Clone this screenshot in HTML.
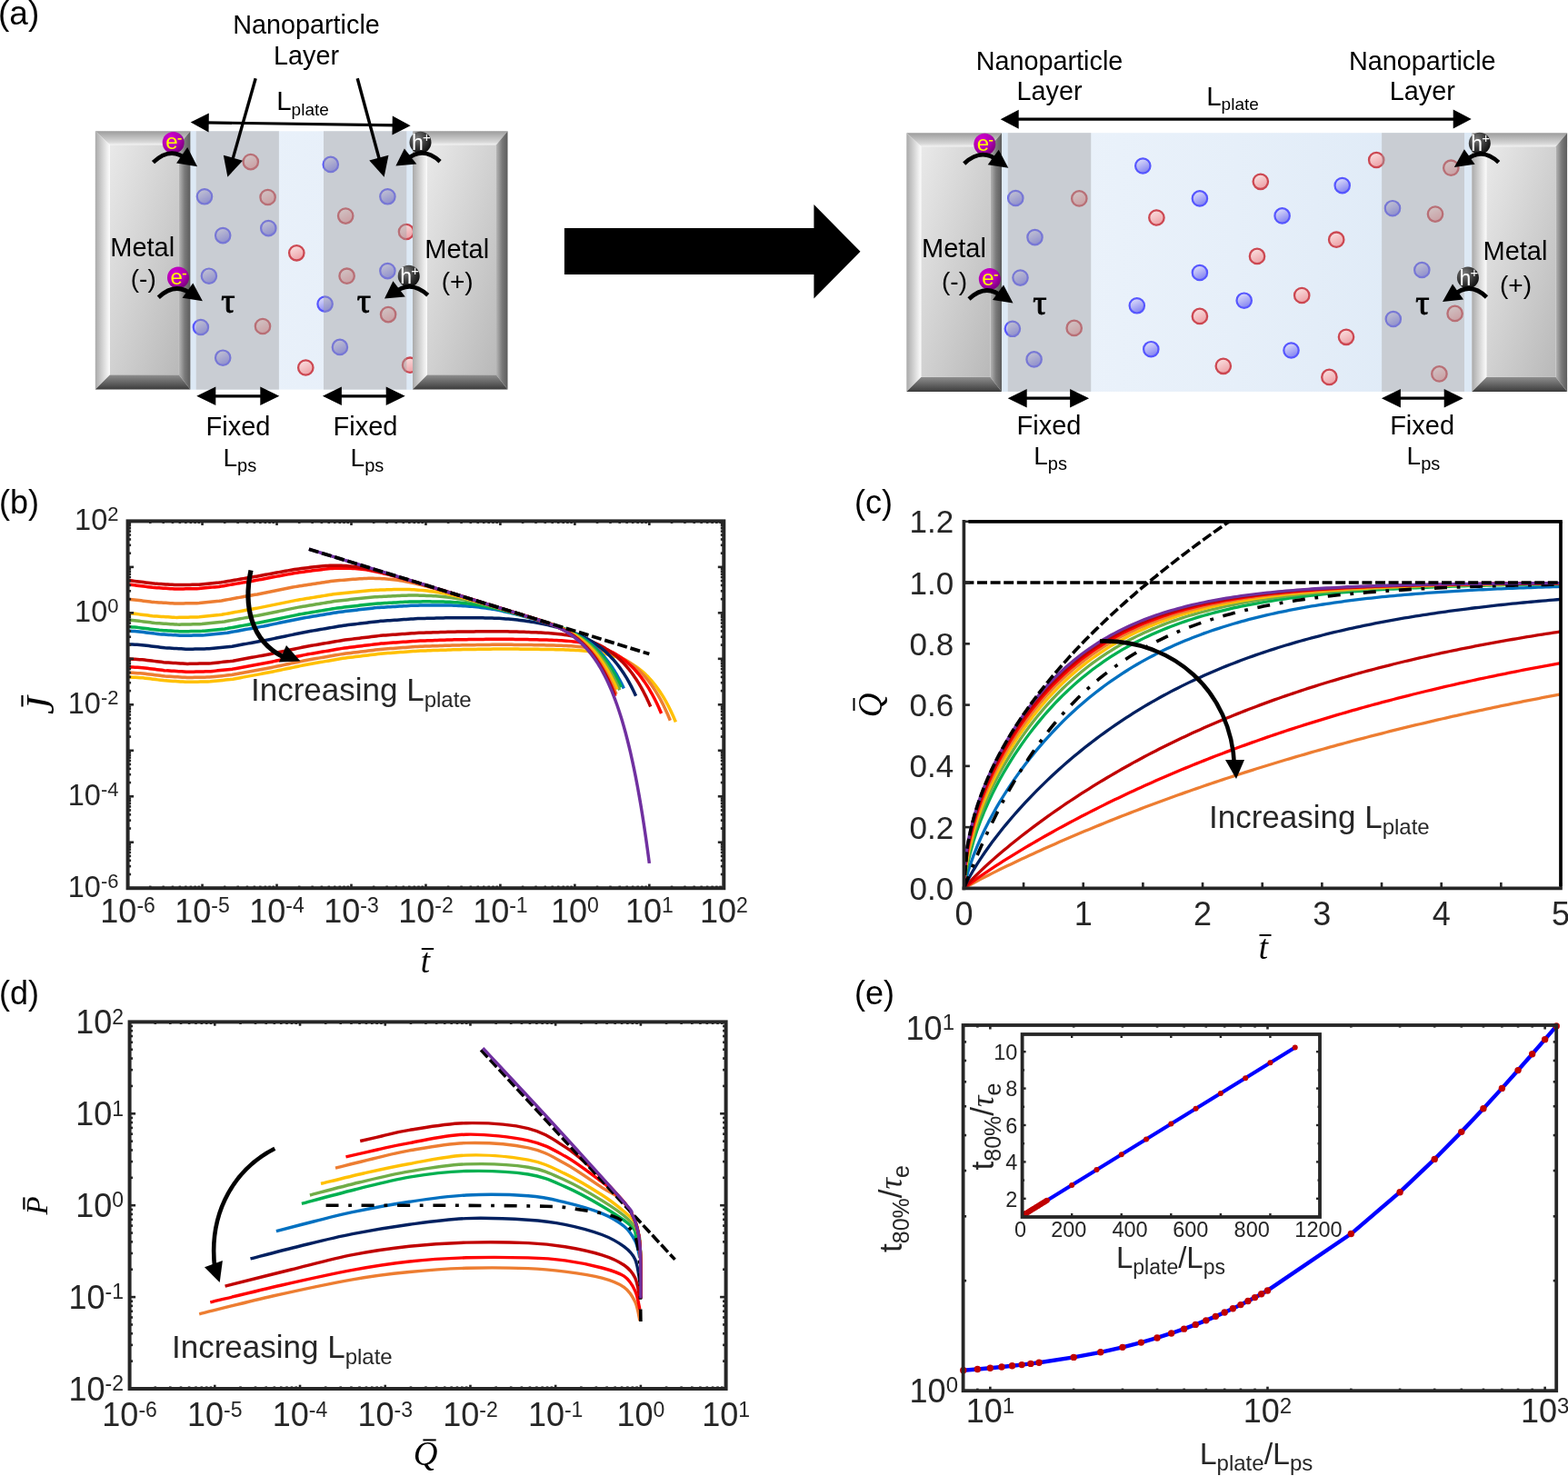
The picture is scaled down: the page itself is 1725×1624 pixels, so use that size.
<!DOCTYPE html>
<html><head><meta charset="utf-8"><title>Figure</title>
<style>html,body{margin:0;padding:0;background:#fff}svg{display:block}</style></head>
<body><svg width="1725" height="1624" viewBox="0 0 1725 1624" font-family="'Liberation Sans', Arial, Helvetica, sans-serif">
<rect width="1725" height="1624" fill="#fff"/>
<defs>
<linearGradient id="mface" x1="0" y1="0" x2="1" y2="1"><stop offset="0" stop-color="#e9e9e9"/><stop offset="1" stop-color="#b9b9b9"/></linearGradient>
<linearGradient id="mtop" x1="0" y1="0" x2="0" y2="1"><stop offset="0" stop-color="#9c9c9c"/><stop offset="0.8" stop-color="#d8d8d8"/><stop offset="1" stop-color="#f2f2f2"/></linearGradient>
<linearGradient id="mleft" x1="0" y1="0" x2="1" y2="0"><stop offset="0" stop-color="#aaaaaa"/><stop offset="0.75" stop-color="#e8e8e8"/><stop offset="1" stop-color="#fbfbfb"/></linearGradient>
<linearGradient id="mright" x1="0" y1="0" x2="1" y2="0"><stop offset="0" stop-color="#b6b6b6"/><stop offset="0.5" stop-color="#7a7a7a"/><stop offset="1" stop-color="#5c5c5c"/></linearGradient>
<linearGradient id="mbot" x1="0" y1="0" x2="0" y2="1"><stop offset="0" stop-color="#8e8e8e"/><stop offset="1" stop-color="#3c3c3c"/></linearGradient>
<linearGradient id="midA" x1="0" y1="0" x2="1" y2="0"><stop offset="0" stop-color="#eaf2fb"/><stop offset="1" stop-color="#e6eef8"/></linearGradient>
<linearGradient id="midB" x1="0" y1="0" x2="1" y2="0"><stop offset="0" stop-color="#ecf3fb"/><stop offset="0.5" stop-color="#e6eff9"/><stop offset="1" stop-color="#dde9f6"/></linearGradient>
<linearGradient id="pblue" x1="0.25" y1="0" x2="0.75" y2="1"><stop offset="0" stop-color="#e2e2fa"/><stop offset="1" stop-color="#7c7cf0"/></linearGradient>
<linearGradient id="pred" x1="0.25" y1="0" x2="0.75" y2="1"><stop offset="0" stop-color="#fae2e2"/><stop offset="1" stop-color="#ec9ca2"/></linearGradient>
<radialGradient id="ball_e" cx="0.35" cy="0.3" r="0.75"><stop offset="0" stop-color="#d200d2"/><stop offset="0.6" stop-color="#b000b0"/><stop offset="1" stop-color="#7a007a"/></radialGradient>
<radialGradient id="ball_h" cx="0.35" cy="0.3" r="0.75"><stop offset="0" stop-color="#7a7a7a"/><stop offset="0.55" stop-color="#3a3a3a"/><stop offset="1" stop-color="#0e0e0e"/></radialGradient>
</defs>
<g id="pa">
<text x="-2" y="26.5" font-size="37" fill="#000" text-anchor="start" >(a)</text>
<rect x="209.4" y="144.3" width="244.6" height="284.3" fill="url(#midA)"/>
<rect x="209.4" y="144.3" width="6.3" height="284.3" fill="#dde9f5"/>
<rect x="447.3" y="144.3" width="6.7" height="284.3" fill="#dde9f5"/>
<rect x="215.7" y="144.3" width="91.2" height="284.3" fill="#ecf3fb"/>
<rect x="356" y="144.3" width="91.3" height="284.3" fill="#ecf3fb"/>
<circle cx="275.8" cy="178.1" r="8.2" fill="url(#pred)" stroke="#cc4852" stroke-width="2.3"/>
<circle cx="225" cy="216.3" r="8.2" fill="url(#pblue)" stroke="#5656ff" stroke-width="2.2"/>
<circle cx="294.6" cy="217" r="8.2" fill="url(#pred)" stroke="#cc4852" stroke-width="2.3"/>
<circle cx="245.2" cy="259.1" r="8.2" fill="url(#pblue)" stroke="#5656ff" stroke-width="2.2"/>
<circle cx="295.3" cy="251.1" r="8.2" fill="url(#pblue)" stroke="#5656ff" stroke-width="2.2"/>
<circle cx="229.9" cy="303.7" r="8.2" fill="url(#pblue)" stroke="#5656ff" stroke-width="2.2"/>
<circle cx="220.9" cy="360" r="8.2" fill="url(#pblue)" stroke="#5656ff" stroke-width="2.2"/>
<circle cx="289" cy="359" r="8.2" fill="url(#pred)" stroke="#cc4852" stroke-width="2.3"/>
<circle cx="245.2" cy="393.7" r="8.2" fill="url(#pblue)" stroke="#5656ff" stroke-width="2.2"/>
<circle cx="326.3" cy="278.3" r="8.2" fill="url(#pred)" stroke="#cc4852" stroke-width="2.3"/>
<circle cx="336.3" cy="404.5" r="8.2" fill="url(#pred)" stroke="#cc4852" stroke-width="2.3"/>
<circle cx="357.6" cy="334.6" r="8.2" fill="url(#pblue)" stroke="#5656ff" stroke-width="2.2"/>
<circle cx="363.8" cy="180.9" r="8.2" fill="url(#pblue)" stroke="#5656ff" stroke-width="2.2"/>
<circle cx="426.4" cy="216.3" r="8.2" fill="url(#pblue)" stroke="#5656ff" stroke-width="2.2"/>
<circle cx="380.2" cy="237.6" r="8.2" fill="url(#pred)" stroke="#cc4852" stroke-width="2.3"/>
<circle cx="447" cy="255" r="8.2" fill="url(#pred)" stroke="#cc4852" stroke-width="2.3"/>
<circle cx="381.6" cy="303.7" r="8.2" fill="url(#pred)" stroke="#cc4852" stroke-width="2.3"/>
<circle cx="426.4" cy="298.1" r="8.2" fill="url(#pblue)" stroke="#5656ff" stroke-width="2.2"/>
<circle cx="427.1" cy="346.1" r="8.2" fill="url(#pred)" stroke="#cc4852" stroke-width="2.3"/>
<circle cx="373.9" cy="381.9" r="8.2" fill="url(#pblue)" stroke="#5656ff" stroke-width="2.2"/>
<circle cx="451.1" cy="401.7" r="8.2" fill="url(#pred)" stroke="#cc4852" stroke-width="2.3"/>
<rect x="215.7" y="144.3" width="91.2" height="284.3" fill="#a0a0a2" fill-opacity="0.45"/>
<rect x="356" y="144.3" width="91.3" height="284.3" fill="#a0a0a2" fill-opacity="0.45"/>
<rect x="120.8" y="159.3" width="76.1" height="253.3" fill="url(#mface)"/>
<polygon points="104.8,144.3 209.4,144.3 196.9,159.3 120.8,159.3" fill="url(#mtop)"/>
<polygon points="104.8,144.3 120.8,159.3 120.8,412.6 104.8,428.6" fill="url(#mleft)"/>
<polygon points="209.4,144.3 209.4,428.6 196.9,412.6 196.9,159.3" fill="url(#mright)"/>
<polygon points="104.8,428.6 209.4,428.6 196.9,412.6 120.8,412.6" fill="url(#mbot)"/>
<rect x="470" y="159.3" width="76" height="253.3" fill="url(#mface)"/>
<polygon points="454,144.3 558.5,144.3 546,159.3 470,159.3" fill="url(#mtop)"/>
<polygon points="454,144.3 470,159.3 470,412.6 454,428.6" fill="url(#mleft)"/>
<polygon points="558.5,144.3 558.5,428.6 546,412.6 546,159.3" fill="url(#mright)"/>
<polygon points="454,428.6 558.5,428.6 546,412.6 470,412.6" fill="url(#mbot)"/>
<rect x="1102" y="146.2" width="517.3" height="284.7" fill="url(#midB)"/>
<rect x="1102" y="146.2" width="6.7" height="284.7" fill="#dde9f5"/>
<rect x="1611" y="146.2" width="8.3" height="284.7" fill="#dde9f5"/>
<rect x="1108.7" y="146.2" width="91.5" height="284.7" fill="#ecf3fb"/>
<rect x="1520.1" y="146.2" width="90.9" height="284.7" fill="#ecf3fb"/>
<circle cx="1117.3" cy="218" r="8.2" fill="url(#pblue)" stroke="#5656ff" stroke-width="2.2"/>
<circle cx="1187.3" cy="218.4" r="8.2" fill="url(#pred)" stroke="#cc4852" stroke-width="2.3"/>
<circle cx="1138.5" cy="261.1" r="8.2" fill="url(#pblue)" stroke="#5656ff" stroke-width="2.2"/>
<circle cx="1122.5" cy="305.6" r="8.2" fill="url(#pblue)" stroke="#5656ff" stroke-width="2.2"/>
<circle cx="1113.9" cy="361.8" r="8.2" fill="url(#pblue)" stroke="#5656ff" stroke-width="2.2"/>
<circle cx="1181.7" cy="360.9" r="8.2" fill="url(#pred)" stroke="#cc4852" stroke-width="2.3"/>
<circle cx="1137.6" cy="395.4" r="8.2" fill="url(#pblue)" stroke="#5656ff" stroke-width="2.2"/>
<circle cx="1257.3" cy="182.5" r="8.2" fill="url(#pblue)" stroke="#5656ff" stroke-width="2.2"/>
<circle cx="1272.4" cy="239.5" r="8.2" fill="url(#pred)" stroke="#cc4852" stroke-width="2.3"/>
<circle cx="1319.9" cy="218.4" r="8.2" fill="url(#pblue)" stroke="#5656ff" stroke-width="2.2"/>
<circle cx="1386.8" cy="199.8" r="8.2" fill="url(#pred)" stroke="#cc4852" stroke-width="2.3"/>
<circle cx="1410.6" cy="237.4" r="8.2" fill="url(#pblue)" stroke="#5656ff" stroke-width="2.2"/>
<circle cx="1476.7" cy="204.1" r="8.2" fill="url(#pblue)" stroke="#5656ff" stroke-width="2.2"/>
<circle cx="1514.2" cy="176" r="8.2" fill="url(#pred)" stroke="#cc4852" stroke-width="2.3"/>
<circle cx="1470.2" cy="263.7" r="8.2" fill="url(#pred)" stroke="#cc4852" stroke-width="2.3"/>
<circle cx="1383" cy="281.9" r="8.2" fill="url(#pred)" stroke="#cc4852" stroke-width="2.3"/>
<circle cx="1319.9" cy="300" r="8.2" fill="url(#pblue)" stroke="#5656ff" stroke-width="2.2"/>
<circle cx="1250.8" cy="336.3" r="8.2" fill="url(#pblue)" stroke="#5656ff" stroke-width="2.2"/>
<circle cx="1319.9" cy="347.9" r="8.2" fill="url(#pred)" stroke="#cc4852" stroke-width="2.3"/>
<circle cx="1368.7" cy="330.7" r="8.2" fill="url(#pblue)" stroke="#5656ff" stroke-width="2.2"/>
<circle cx="1432.2" cy="325" r="8.2" fill="url(#pred)" stroke="#cc4852" stroke-width="2.3"/>
<circle cx="1266.3" cy="384.2" r="8.2" fill="url(#pblue)" stroke="#5656ff" stroke-width="2.2"/>
<circle cx="1345.8" cy="402.8" r="8.2" fill="url(#pred)" stroke="#cc4852" stroke-width="2.3"/>
<circle cx="1420.5" cy="385.5" r="8.2" fill="url(#pblue)" stroke="#5656ff" stroke-width="2.2"/>
<circle cx="1481" cy="370.8" r="8.2" fill="url(#pred)" stroke="#cc4852" stroke-width="2.3"/>
<circle cx="1462.4" cy="414.9" r="8.2" fill="url(#pred)" stroke="#cc4852" stroke-width="2.3"/>
<circle cx="1532" cy="229.2" r="8.2" fill="url(#pblue)" stroke="#5656ff" stroke-width="2.2"/>
<circle cx="1579" cy="235.6" r="8.2" fill="url(#pred)" stroke="#cc4852" stroke-width="2.3"/>
<circle cx="1596.3" cy="184.7" r="8.2" fill="url(#pred)" stroke="#cc4852" stroke-width="2.3"/>
<circle cx="1564.3" cy="297" r="8.2" fill="url(#pblue)" stroke="#5656ff" stroke-width="2.2"/>
<circle cx="1532.8" cy="351" r="8.2" fill="url(#pblue)" stroke="#5656ff" stroke-width="2.2"/>
<circle cx="1600.6" cy="344.9" r="8.2" fill="url(#pred)" stroke="#cc4852" stroke-width="2.3"/>
<circle cx="1583.4" cy="411.4" r="8.2" fill="url(#pred)" stroke="#cc4852" stroke-width="2.3"/>
<rect x="1108.7" y="146.2" width="91.5" height="284.7" fill="#a0a0a2" fill-opacity="0.45"/>
<rect x="1520.1" y="146.2" width="90.9" height="284.7" fill="#a0a0a2" fill-opacity="0.45"/>
<rect x="1013.3" y="161.2" width="76.2" height="253.7" fill="url(#mface)"/>
<polygon points="997.3,146.2 1102,146.2 1089.5,161.2 1013.3,161.2" fill="url(#mtop)"/>
<polygon points="997.3,146.2 1013.3,161.2 1013.3,414.9 997.3,430.9" fill="url(#mleft)"/>
<polygon points="1102,146.2 1102,430.9 1089.5,414.9 1089.5,161.2" fill="url(#mright)"/>
<polygon points="997.3,430.9 1102,430.9 1089.5,414.9 1013.3,414.9" fill="url(#mbot)"/>
<rect x="1635.3" y="161.2" width="76.3" height="253.7" fill="url(#mface)"/>
<polygon points="1619.3,146.2 1724.1,146.2 1711.6,161.2 1635.3,161.2" fill="url(#mtop)"/>
<polygon points="1619.3,146.2 1635.3,161.2 1635.3,414.9 1619.3,430.9" fill="url(#mleft)"/>
<polygon points="1724.1,146.2 1724.1,430.9 1711.6,414.9 1711.6,161.2" fill="url(#mright)"/>
<polygon points="1619.3,430.9 1724.1,430.9 1711.6,414.9 1635.3,414.9" fill="url(#mbot)"/>
<text x="337" y="37.3" font-size="28.8" fill="#000" text-anchor="middle" >Nanoparticle</text>
<text x="337" y="71.4" font-size="28.8" fill="#000" text-anchor="middle" >Layer</text>
<text x="304.2" y="121" font-size="29.5" fill="#000" text-anchor="start">L<tspan dy="5.6" font-size="19">plate</tspan></text>
<line x1="225.7" y1="134.84" x2="435.6" y2="137.96" stroke="#000" stroke-width="3.2" />
<polygon points="209.7,134.6 229.85,124.4 229.54,145.4" fill="#000"/>
<polygon points="451.6,138.2 431.45,148.4 431.76,127.4" fill="#000"/>
<line x1="281.2" y1="86.3" x2="255.21" y2="177.87" stroke="#000" stroke-width="3.4" />
<polygon points="250.4,194.8 245.83,170.63 266.99,176.64" fill="#000"/>
<line x1="393.2" y1="86.3" x2="418" y2="177.81" stroke="#000" stroke-width="3.4" />
<polygon points="422.6,194.8 406.23,176.44 427.46,170.69" fill="#000"/>
<text x="156.7" y="281.6" font-size="29" fill="#000" text-anchor="middle" >Metal</text>
<text x="157.8" y="315.5" font-size="28" fill="#000" text-anchor="middle" >(-)</text>
<text x="502.7" y="283.7" font-size="29" fill="#000" text-anchor="middle" >Metal</text>
<text x="503.2" y="319" font-size="28" fill="#000" text-anchor="middle" >(+)</text>
<circle cx="190.7" cy="156.9" r="12" fill="url(#ball_e)"/>
<text x="182.2" y="163.9" font-size="24" fill="#ffff00">e</text>
<rect x="195.5" y="152.1" width="4.2" height="1.6" fill="#ffff00"/>
<circle cx="196" cy="305.6" r="12" fill="url(#ball_e)"/>
<text x="187.5" y="312.6" font-size="24" fill="#ffff00">e</text>
<rect x="200.8" y="300.8" width="4.2" height="1.6" fill="#ffff00"/>
<circle cx="462.5" cy="156.7" r="12" fill="url(#ball_h)"/>
<text x="453" y="165.2" font-size="23" fill="#ffffff">h</text>
<text x="465" y="156.2" font-size="15" fill="#ffffff">+</text>
<circle cx="449.7" cy="303.8" r="12" fill="url(#ball_h)"/>
<text x="440.2" y="312.3" font-size="23" fill="#ffffff">h</text>
<text x="452.2" y="303.3" font-size="15" fill="#ffffff">+</text>
<path d="M168.5,178.7 Q188,160 206,176" fill="none" stroke="#000" stroke-width="4.6"/>
<polygon points="217.1,183.2 206.2,162.1 194.1,179.5" fill="#000"/>
<path d="M174.3,327.2 Q194,309 212,325" fill="none" stroke="#000" stroke-width="4.6"/>
<polygon points="222.9,331.3 212.3,311.4 200.6,327.8" fill="#000"/>
<path d="M484.1,177.7 Q465,160 447,176" fill="none" stroke="#000" stroke-width="4.6"/>
<polygon points="435.4,182.5 444.9,163.4 458.3,180.6" fill="#000"/>
<path d="M470.7,324.8 Q451,307 433,323" fill="none" stroke="#000" stroke-width="4.6"/>
<polygon points="423,328.6 432.4,309.3 445.8,326.6" fill="#000"/>
<text x="251" y="344" font-family="'Liberation Serif', 'DejaVu Serif', serif" font-size="38" fill="#000" stroke="#000" stroke-width="0.9" text-anchor="middle">τ</text>
<text x="400.5" y="344" font-family="'Liberation Serif', 'DejaVu Serif', serif" font-size="38" fill="#000" stroke="#000" stroke-width="0.9" text-anchor="middle">τ</text>
<line x1="233.1" y1="435.8" x2="290.5" y2="435.8" stroke="#000" stroke-width="3.2" />
<polygon points="216.3,435.8 237.3,425.6 237.3,446" fill="#000"/>
<polygon points="307.3,435.8 286.3,446 286.3,425.6" fill="#000"/>
<line x1="371.7" y1="435.8" x2="428.9" y2="435.8" stroke="#000" stroke-width="3.2" />
<polygon points="354.9,435.8 375.9,425.6 375.9,446" fill="#000"/>
<polygon points="445.7,435.8 424.7,446 424.7,425.6" fill="#000"/>
<text x="262" y="478.8" font-size="29" fill="#000" text-anchor="middle" >Fixed</text>
<text x="402" y="478.8" font-size="29" fill="#000" text-anchor="middle" >Fixed</text>
<text x="245.5" y="512.7" font-size="28" fill="#000" text-anchor="start">L<tspan dy="6" font-size="20">ps</tspan></text>
<text x="385.6" y="512.7" font-size="28" fill="#000" text-anchor="start">L<tspan dy="6" font-size="20">ps</tspan></text>
<text x="1154.5" y="76.7" font-size="28.8" fill="#000" text-anchor="middle" >Nanoparticle</text>
<text x="1154.5" y="110.2" font-size="28.8" fill="#000" text-anchor="middle" >Layer</text>
<text x="1564.8" y="76.7" font-size="28.8" fill="#000" text-anchor="middle" >Nanoparticle</text>
<text x="1564.8" y="110.2" font-size="28.8" fill="#000" text-anchor="middle" >Layer</text>
<text x="1327.2" y="115.6" font-size="29.5" fill="#000" text-anchor="start">L<tspan dy="5.6" font-size="19">plate</tspan></text>
<line x1="1116.7" y1="131.2" x2="1602.7" y2="131.1" stroke="#000" stroke-width="3.2" />
<polygon points="1100.7,131.2 1120.7,120.7 1120.7,141.7" fill="#000"/>
<polygon points="1618.7,131.1 1598.7,141.6 1598.7,120.6" fill="#000"/>
<text x="1049.5" y="283" font-size="29" fill="#000" text-anchor="middle" >Metal</text>
<text x="1050" y="318.5" font-size="28" fill="#000" text-anchor="middle" >(-)</text>
<text x="1667" y="286.2" font-size="29" fill="#000" text-anchor="middle" >Metal</text>
<text x="1667.5" y="322.9" font-size="28" fill="#000" text-anchor="middle" >(+)</text>
<circle cx="1083.3" cy="158.8" r="12" fill="url(#ball_e)"/>
<text x="1074.8" y="165.8" font-size="24" fill="#ffff00">e</text>
<rect x="1088.1" y="154" width="4.2" height="1.6" fill="#ffff00"/>
<circle cx="1088.8" cy="306.9" r="12" fill="url(#ball_e)"/>
<text x="1080.3" y="313.9" font-size="24" fill="#ffff00">e</text>
<rect x="1093.6" y="302.1" width="4.2" height="1.6" fill="#ffff00"/>
<circle cx="1627.8" cy="157.8" r="12" fill="url(#ball_h)"/>
<text x="1618.3" y="166.3" font-size="23" fill="#ffffff">h</text>
<text x="1630.3" y="157.3" font-size="15" fill="#ffffff">+</text>
<circle cx="1614.9" cy="305.6" r="12" fill="url(#ball_h)"/>
<text x="1605.4" y="314.1" font-size="23" fill="#ffffff">h</text>
<text x="1617.4" y="305.1" font-size="15" fill="#ffffff">+</text>
<path d="M1060.7,180 Q1080,162 1098,177" fill="none" stroke="#000" stroke-width="4.6"/>
<polygon points="1109.3,184.7 1098.7,164.7 1086.7,181.3" fill="#000"/>
<path d="M1066,329 Q1085,311 1103,327" fill="none" stroke="#000" stroke-width="4.6"/>
<polygon points="1114.5,333.5 1104,313.5 1092,330" fill="#000"/>
<path d="M1648.7,178.7 Q1630,161 1612,177" fill="none" stroke="#000" stroke-width="4.6"/>
<polygon points="1599.8,183.9 1610.9,164.3 1622.6,180.7" fill="#000"/>
<path d="M1635.5,327 Q1617,309 1599,325" fill="none" stroke="#000" stroke-width="4.6"/>
<polygon points="1587,332 1598,312.5 1610,329.5" fill="#000"/>
<text x="1144" y="346" font-family="'Liberation Serif', 'DejaVu Serif', serif" font-size="38" fill="#000" stroke="#000" stroke-width="0.9" text-anchor="middle">τ</text>
<text x="1565" y="346" font-family="'Liberation Serif', 'DejaVu Serif', serif" font-size="38" fill="#000" stroke="#000" stroke-width="0.9" text-anchor="middle">τ</text>
<line x1="1125.5" y1="438.2" x2="1181.3" y2="438.2" stroke="#000" stroke-width="3.2" />
<polygon points="1108.7,438.2 1129.7,428 1129.7,448.4" fill="#000"/>
<polygon points="1198.1,438.2 1177.1,448.4 1177.1,428" fill="#000"/>
<line x1="1536.7" y1="438.2" x2="1592.9" y2="438.2" stroke="#000" stroke-width="3.2" />
<polygon points="1519.9,438.2 1540.9,428 1540.9,448.4" fill="#000"/>
<polygon points="1609.7,438.2 1588.7,448.4 1588.7,428" fill="#000"/>
<text x="1154" y="478.4" font-size="29" fill="#000" text-anchor="middle" >Fixed</text>
<text x="1564.6" y="478.4" font-size="29" fill="#000" text-anchor="middle" >Fixed</text>
<text x="1137.2" y="510.8" font-size="28" fill="#000" text-anchor="start">L<tspan dy="6" font-size="20">ps</tspan></text>
<text x="1547.6" y="510.8" font-size="28" fill="#000" text-anchor="start">L<tspan dy="6" font-size="20">ps</tspan></text>
<polygon points="620.9,251.1 895.4,251.1 895.4,225.1 946.5,276.8 895.4,328.4 895.4,301.9 620.9,301.9" fill="#000"/>
</g>
<g id="pb">
<text x="-1" y="565" font-size="36" fill="#000" text-anchor="start" >(b)</text>
<clipPath id="clipb"><rect x="140.6" y="573.4" width="655.6999999999999" height="403.80000000000007"/></clipPath>
<g clip-path="url(#clipb)">
<path d="M140.6,744.81 L143.35,744.98 L146.1,745.15 L148.86,745.32 L151.61,745.49 L154.36,745.66 L157.11,745.84 L159.87,746.18 L162.62,746.52 L165.37,746.86 L168.12,747.2 L170.88,747.53 L173.63,747.87 L176.38,748.21 L179.13,748.55 L181.89,748.87 L184.64,749.04 L187.39,749.21 L190.14,749.38 L192.89,749.55 L195.65,749.72 L198.4,749.89 L201.15,750.06 L203.9,750.23 L206.66,750.36 L209.41,750.3 L212.16,750.25 L214.91,750.19 L217.67,750.13 L220.42,750.08 L223.17,750.02 L225.92,749.96 L228.67,749.91 L231.43,749.8 L234.18,749.51 L236.93,749.23 L239.68,748.95 L242.44,748.67 L245.19,748.39 L247.94,748.1 L250.69,747.82 L253.45,747.54 L256.2,747.19 L258.95,746.68 L261.7,746.17 L264.46,745.66 L267.21,745.15 L269.96,744.65 L272.71,744.14 L275.46,743.63 L278.22,743.12 L280.97,742.61 L283.72,742.11 L286.47,741.6 L289.23,741.09 L291.98,740.58 L294.73,740.07 L297.48,739.54 L300.24,738.96 L302.99,738.39 L305.74,737.81 L308.49,737.23 L311.24,736.66 L314,736.08 L316.75,735.51 L319.5,734.93 L322.25,734.36 L325.01,733.78 L327.76,733.2 L330.51,732.63 L333.26,732.05 L336.02,731.48 L338.77,730.96 L341.52,730.48 L344.27,730.01 L347.03,729.54 L349.78,729.06 L352.53,728.59 L355.28,728.12 L358.03,727.64 L360.79,727.17 L363.54,726.7 L366.29,726.22 L369.04,725.75 L371.8,725.28 L374.55,724.8 L377.3,724.33 L380.05,723.94 L382.81,723.61 L385.56,723.27 L388.31,722.93 L391.06,722.59 L393.81,722.26 L396.57,721.92 L399.32,721.58 L402.07,721.25 L404.82,720.91 L407.58,720.57 L410.33,720.24 L413.08,719.9 L415.83,719.56 L418.59,719.23 L421.34,718.99 L424.09,718.79 L426.84,718.59 L429.6,718.39 L432.35,718.19 L435.1,717.99 L437.85,717.79 L440.6,717.59 L443.36,717.39 L446.11,717.19 L448.86,716.99 L451.61,716.8 L454.37,716.6 L457.12,716.4 L459.87,716.2 L462.62,716.09 L465.38,715.99 L468.13,715.9 L470.88,715.8 L473.63,715.7 L476.38,715.61 L479.14,715.51 L481.89,715.42 L484.64,715.32 L487.39,715.23 L490.15,715.13 L492.9,715.04 L495.65,714.95 L498.4,714.85 L501.16,714.76 L503.91,714.71 L506.66,714.66 L509.41,714.62 L512.17,714.57 L514.92,714.52 L517.67,714.48 L520.42,714.43 L523.17,714.39 L525.93,714.35 L528.68,714.3 L531.43,714.26 L534.18,714.22 L536.94,714.17 L539.69,714.13 L542.44,714.09 L545.19,714.05 L547.95,714.01 L550.7,713.98 L553.45,714 L556.2,714.01 L558.95,714.03 L561.71,714.06 L564.46,714.08 L567.21,714.1 L569.96,714.12 L572.72,714.15 L575.47,714.17 L578.22,714.2 L580.97,714.22 L583.73,714.25 L586.48,714.28 L589.23,714.31 L591.98,714.35 L594.74,714.38 L597.49,714.42 L600.24,714.46 L602.99,714.5 L605.74,714.55 L608.5,714.6 L611.25,714.65 L614,714.71 L616.75,714.78 L619.51,714.86 L622.26,714.95 L625.01,715.05 L627.76,715.16 L630.52,715.28 L633.27,715.43 L636.02,715.59 L638.77,715.77 L641.52,715.98 L644.28,716.22 L647.03,716.49 L649.78,716.78 L652.53,717.12 L655.29,717.49 L658.04,717.91 L660.79,718.38 L663.54,718.9 L666.3,719.47 L669.05,720.11 L671.8,720.82 L674.55,721.6 L677.31,722.46 L680.06,723.41 L682.81,724.45 L685.56,725.6 L688.31,726.86 L691.07,728.24 L693.82,729.75 L696.57,731.4 L699.32,733.19 L702.08,735.15 L704.83,737.29 L707.58,739.61 L710.33,742.13 L713.09,744.86 L715.84,747.82 L718.59,751.03 L721.34,754.5 L724.09,758.25 L726.85,762.31 L729.6,766.69 L732.35,771.42 L735.1,776.53 L737.86,782.04 L740.61,788 L743.36,794.42" fill="none" stroke="#FFC000" stroke-width="3.5" stroke-linejoin="round" />
<path d="M140.6,739.97 L143.32,740.14 L146.05,740.31 L148.77,740.47 L151.5,740.64 L154.22,740.81 L156.95,740.98 L159.67,741.31 L162.4,741.65 L165.12,741.98 L167.85,742.32 L170.57,742.65 L173.3,742.99 L176.02,743.32 L178.75,743.66 L181.47,744 L184.2,744.17 L186.92,744.34 L189.65,744.51 L192.37,744.67 L195.1,744.84 L197.82,745.01 L200.55,745.18 L203.27,745.35 L206,745.51 L208.72,745.47 L211.45,745.42 L214.17,745.36 L216.9,745.3 L219.62,745.25 L222.35,745.19 L225.07,745.14 L227.8,745.08 L230.52,745.03 L233.25,744.77 L235.97,744.49 L238.7,744.21 L241.42,743.93 L244.15,743.65 L246.87,743.37 L249.6,743.09 L252.32,742.81 L255.05,742.53 L257.77,742.05 L260.5,741.55 L263.22,741.05 L265.95,740.54 L268.67,740.04 L271.4,739.54 L274.12,739.03 L276.85,738.53 L279.57,738.03 L282.3,737.53 L285.02,737.02 L287.75,736.52 L290.47,736.02 L293.2,735.51 L295.92,735.01 L298.65,734.45 L301.37,733.88 L304.1,733.31 L306.82,732.74 L309.55,732.17 L312.27,731.6 L315,731.03 L317.72,730.46 L320.45,729.89 L323.17,729.32 L325.9,728.75 L328.62,728.18 L331.35,727.61 L334.07,727.04 L336.8,726.47 L339.52,725.99 L342.25,725.52 L344.97,725.05 L347.7,724.58 L350.42,724.11 L353.15,723.64 L355.87,723.18 L358.6,722.71 L361.32,722.24 L364.05,721.77 L366.77,721.3 L369.5,720.83 L372.22,720.37 L374.95,719.9 L377.67,719.43 L380.4,719.07 L383.12,718.73 L385.85,718.4 L388.57,718.07 L391.3,717.73 L394.02,717.4 L396.75,717.07 L399.47,716.73 L402.2,716.4 L404.92,716.07 L407.65,715.73 L410.37,715.4 L413.1,715.07 L415.82,714.74 L418.55,714.4 L421.27,714.17 L424,713.97 L426.72,713.78 L429.45,713.58 L432.17,713.38 L434.9,713.18 L437.62,712.99 L440.35,712.79 L443.07,712.59 L445.8,712.4 L448.52,712.2 L451.25,712 L453.97,711.81 L456.7,711.61 L459.42,711.42 L462.15,711.29 L464.87,711.2 L467.6,711.1 L470.32,711.01 L473.05,710.92 L475.77,710.82 L478.5,710.73 L481.22,710.64 L483.95,710.55 L486.67,710.45 L489.4,710.36 L492.12,710.27 L494.85,710.18 L497.57,710.09 L500.3,710 L503.02,709.94 L505.75,709.89 L508.47,709.85 L511.2,709.81 L513.92,709.76 L516.65,709.72 L519.37,709.68 L522.1,709.64 L524.82,709.6 L527.55,709.56 L530.27,709.52 L533,709.48 L535.72,709.44 L538.45,709.4 L541.17,709.36 L543.9,709.33 L546.62,709.29 L549.35,709.26 L552.07,709.26 L554.8,709.28 L557.52,709.31 L560.25,709.33 L562.97,709.36 L565.7,709.38 L568.42,709.41 L571.15,709.44 L573.87,709.47 L576.6,709.51 L579.32,709.54 L582.05,709.57 L584.77,709.61 L587.5,709.65 L590.22,709.69 L592.95,709.74 L595.67,709.78 L598.4,709.83 L601.12,709.89 L603.85,709.94 L606.57,710.01 L609.3,710.07 L612.02,710.15 L614.75,710.23 L617.47,710.33 L620.2,710.44 L622.92,710.56 L625.65,710.69 L628.37,710.85 L631.1,711.02 L633.82,711.22 L636.55,711.44 L639.27,711.7 L642,711.98 L644.72,712.31 L647.45,712.67 L650.17,713.08 L652.9,713.53 L655.62,714.04 L658.35,714.6 L661.07,715.23 L663.8,715.92 L666.52,716.69 L669.25,717.54 L671.97,718.47 L674.7,719.5 L677.42,720.62 L680.15,721.86 L682.87,723.21 L685.6,724.68 L688.32,726.29 L691.05,728.04 L693.77,729.94 L696.5,732.01 L699.22,734.25 L701.95,736.67 L704.67,739.3 L707.4,742.13 L710.12,745.2 L712.85,748.51 L715.57,752.08 L718.3,755.94 L721.02,760.09 L723.75,764.57 L726.47,769.4 L729.2,774.6 L731.92,780.21 L734.65,786.26 L737.37,792.77" fill="none" stroke="#ED7D31" stroke-width="3.5" stroke-linejoin="round" />
<path d="M140.6,733.71 L143.28,733.88 L145.96,734.04 L148.64,734.21 L151.32,734.37 L154,734.54 L156.68,734.7 L159.36,735.01 L162.04,735.34 L164.72,735.67 L167.4,736 L170.08,736.33 L172.76,736.66 L175.44,736.99 L178.12,737.32 L180.8,737.65 L183.48,737.87 L186.16,738.03 L188.84,738.2 L191.52,738.36 L194.2,738.53 L196.88,738.69 L199.56,738.86 L202.24,739.02 L204.92,739.19 L207.6,739.24 L210.29,739.18 L212.97,739.13 L215.65,739.07 L218.33,739.02 L221.01,738.96 L223.69,738.91 L226.37,738.85 L229.05,738.8 L231.73,738.67 L234.41,738.39 L237.09,738.12 L239.77,737.84 L242.45,737.57 L245.13,737.29 L247.81,737.02 L250.49,736.74 L253.17,736.47 L255.85,736.15 L258.53,735.66 L261.21,735.16 L263.89,734.67 L266.57,734.17 L269.25,733.68 L271.93,733.18 L274.61,732.69 L277.29,732.19 L279.97,731.7 L282.65,731.21 L285.33,730.71 L288.01,730.22 L290.69,729.72 L293.37,729.23 L296.05,728.73 L298.73,728.18 L301.41,727.62 L304.09,727.06 L306.77,726.5 L309.45,725.94 L312.13,725.38 L314.81,724.82 L317.49,724.26 L320.17,723.7 L322.85,723.14 L325.53,722.58 L328.21,722.02 L330.89,721.46 L333.57,720.9 L336.25,720.34 L338.93,719.84 L341.61,719.38 L344.3,718.92 L346.98,718.46 L349.66,718 L352.34,717.54 L355.02,717.08 L357.7,716.62 L360.38,716.16 L363.06,715.7 L365.74,715.24 L368.42,714.78 L371.1,714.32 L373.78,713.86 L376.46,713.4 L379.14,712.98 L381.82,712.65 L384.5,712.32 L387.18,712 L389.86,711.67 L392.54,711.34 L395.22,711.01 L397.9,710.69 L400.58,710.36 L403.26,710.03 L405.94,709.71 L408.62,709.38 L411.3,709.06 L413.98,708.73 L416.66,708.4 L419.34,708.08 L422.02,707.89 L424.7,707.7 L427.38,707.5 L430.06,707.31 L432.74,707.12 L435.42,706.92 L438.1,706.73 L440.78,706.54 L443.46,706.35 L446.14,706.16 L448.82,705.96 L451.5,705.77 L454.18,705.58 L456.86,705.39 L459.54,705.2 L462.22,705.08 L464.9,704.99 L467.58,704.9 L470.26,704.81 L472.94,704.72 L475.62,704.64 L478.31,704.55 L480.99,704.46 L483.67,704.37 L486.35,704.28 L489.03,704.19 L491.71,704.11 L494.39,704.02 L497.07,703.94 L499.75,703.85 L502.43,703.79 L505.11,703.75 L507.79,703.71 L510.47,703.67 L513.15,703.63 L515.83,703.59 L518.51,703.55 L521.19,703.52 L523.87,703.48 L526.55,703.45 L529.23,703.41 L531.91,703.38 L534.59,703.35 L537.27,703.32 L539.95,703.29 L542.63,703.26 L545.31,703.23 L547.99,703.2 L550.67,703.18 L553.35,703.21 L556.03,703.24 L558.71,703.28 L561.39,703.31 L564.07,703.35 L566.75,703.39 L569.43,703.43 L572.11,703.47 L574.79,703.51 L577.47,703.56 L580.15,703.61 L582.83,703.66 L585.51,703.71 L588.19,703.77 L590.87,703.83 L593.55,703.9 L596.23,703.96 L598.91,704.04 L601.59,704.12 L604.27,704.21 L606.95,704.31 L609.63,704.41 L612.32,704.53 L615,704.66 L617.68,704.81 L620.36,704.98 L623.04,705.17 L625.72,705.38 L628.4,705.62 L631.08,705.89 L633.76,706.19 L636.44,706.53 L639.12,706.91 L641.8,707.34 L644.48,707.82 L647.16,708.36 L649.84,708.95 L652.52,709.61 L655.2,710.34 L657.88,711.14 L660.56,712.02 L663.24,712.99 L665.92,714.05 L668.6,715.21 L671.28,716.47 L673.96,717.84 L676.64,719.33 L679.32,720.95 L682,722.7 L684.68,724.59 L687.36,726.64 L690.04,728.85 L692.72,731.23 L695.4,733.79 L698.08,736.55 L700.76,739.53 L703.44,742.73 L706.12,746.17 L708.8,749.88 L711.48,753.87 L714.16,758.15 L716.84,762.77 L719.52,767.73 L722.2,773.06 L724.88,778.81 L727.56,784.99" fill="none" stroke="#FF0000" stroke-width="3.5" stroke-linejoin="round" />
<path d="M140.6,724.83 L143.23,724.99 L145.85,725.15 L148.48,725.31 L151.1,725.48 L153.73,725.64 L156.36,725.8 L158.98,726.08 L161.61,726.41 L164.24,726.73 L166.86,727.06 L169.49,727.38 L172.11,727.7 L174.74,728.03 L177.37,728.35 L179.99,728.67 L182.62,728.93 L185.25,729.1 L187.87,729.26 L190.5,729.42 L193.12,729.58 L195.75,729.74 L198.38,729.91 L201,730.07 L203.63,730.23 L206.25,730.38 L208.88,730.33 L211.51,730.28 L214.13,730.22 L216.76,730.17 L219.39,730.12 L222.01,730.06 L224.64,730.01 L227.26,729.96 L229.89,729.9 L232.52,729.71 L235.14,729.44 L237.77,729.17 L240.39,728.9 L243.02,728.63 L245.65,728.36 L248.27,728.09 L250.9,727.82 L253.53,727.55 L256.15,727.22 L258.78,726.73 L261.4,726.25 L264.03,725.77 L266.66,725.28 L269.28,724.8 L271.91,724.31 L274.54,723.83 L277.16,723.34 L279.79,722.86 L282.41,722.37 L285.04,721.89 L287.67,721.41 L290.29,720.92 L292.92,720.44 L295.54,719.95 L298.17,719.42 L300.8,718.88 L303.42,718.33 L306.05,717.78 L308.68,717.23 L311.3,716.68 L313.93,716.13 L316.55,715.59 L319.18,715.04 L321.81,714.49 L324.43,713.94 L327.06,713.39 L329.69,712.84 L332.31,712.3 L334.94,711.75 L337.56,711.21 L340.19,710.76 L342.82,710.31 L345.44,709.86 L348.07,709.41 L350.69,708.96 L353.32,708.51 L355.95,708.06 L358.57,707.61 L361.2,707.16 L363.83,706.71 L366.45,706.26 L369.08,705.81 L371.7,705.36 L374.33,704.91 L376.96,704.46 L379.58,704.07 L382.21,703.76 L384.83,703.44 L387.46,703.12 L390.09,702.8 L392.71,702.48 L395.34,702.16 L397.97,701.84 L400.59,701.52 L403.22,701.2 L405.84,700.89 L408.47,700.57 L411.1,700.25 L413.72,699.93 L416.35,699.62 L418.98,699.3 L421.6,699.1 L424.23,698.91 L426.85,698.72 L429.48,698.54 L432.11,698.35 L434.73,698.16 L437.36,697.98 L439.98,697.79 L442.61,697.61 L445.24,697.42 L447.86,697.24 L450.49,697.06 L453.12,696.87 L455.74,696.69 L458.37,696.51 L460.99,696.35 L463.62,696.27 L466.25,696.18 L468.87,696.1 L471.5,696.01 L474.12,695.93 L476.75,695.85 L479.38,695.77 L482,695.69 L484.63,695.6 L487.26,695.52 L489.88,695.45 L492.51,695.37 L495.13,695.29 L497.76,695.21 L500.39,695.14 L503.01,695.09 L505.64,695.06 L508.27,695.03 L510.89,695 L513.52,694.97 L516.14,694.94 L518.77,694.91 L521.4,694.89 L524.02,694.86 L526.65,694.84 L529.27,694.82 L531.9,694.8 L534.53,694.78 L537.15,694.76 L539.78,694.75 L542.41,694.73 L545.03,694.72 L547.66,694.71 L550.28,694.71 L552.91,694.75 L555.54,694.8 L558.16,694.86 L560.79,694.92 L563.42,694.98 L566.04,695.04 L568.67,695.11 L571.29,695.18 L573.92,695.26 L576.55,695.34 L579.17,695.43 L581.8,695.52 L584.42,695.63 L587.05,695.73 L589.68,695.85 L592.3,695.98 L594.93,696.11 L597.56,696.26 L600.18,696.42 L602.81,696.6 L605.43,696.79 L608.06,697 L610.69,697.23 L613.31,697.49 L615.94,697.77 L618.56,698.09 L621.19,698.43 L623.82,698.82 L626.44,699.25 L629.07,699.72 L631.7,700.24 L634.32,700.81 L636.95,701.44 L639.57,702.14 L642.2,702.89 L644.83,703.72 L647.45,704.62 L650.08,705.6 L652.71,706.66 L655.33,707.8 L657.96,709.04 L660.58,710.37 L663.21,711.81 L665.84,713.36 L668.46,715.02 L671.09,716.8 L673.71,718.72 L676.34,720.78 L678.97,722.99 L681.59,725.36 L684.22,727.9 L686.85,730.62 L689.47,733.54 L692.1,736.68 L694.72,740.04 L697.35,743.65 L699.98,747.53 L702.6,751.69 L705.23,756.15 L707.86,760.95 L710.48,766.1 L713.11,771.63 L715.73,777.58" fill="none" stroke="#C00000" stroke-width="3.5" stroke-linejoin="round" />
<path d="M140.6,708.73 L143.15,708.89 L145.7,709.05 L148.26,709.2 L150.81,709.36 L153.36,709.52 L155.91,709.68 L158.47,709.95 L161.02,710.26 L163.57,710.57 L166.12,710.89 L168.67,711.2 L171.23,711.52 L173.78,711.83 L176.33,712.15 L178.88,712.46 L181.44,712.77 L183.99,712.92 L186.54,713.08 L189.09,713.24 L191.65,713.4 L194.2,713.55 L196.75,713.71 L199.3,713.87 L201.85,714.03 L204.41,714.19 L206.96,714.25 L209.51,714.2 L212.06,714.15 L214.62,714.1 L217.17,714.04 L219.72,713.99 L222.27,713.94 L224.82,713.89 L227.38,713.84 L229.93,713.79 L232.48,713.57 L235.03,713.3 L237.59,713.04 L240.14,712.78 L242.69,712.52 L245.24,712.26 L247.8,712 L250.35,711.74 L252.9,711.48 L255.45,711.18 L258,710.71 L260.56,710.24 L263.11,709.77 L265.66,709.3 L268.21,708.83 L270.77,708.36 L273.32,707.89 L275.87,707.42 L278.42,706.95 L280.97,706.48 L283.53,706.01 L286.08,705.54 L288.63,705.07 L291.18,704.6 L293.74,704.14 L296.29,703.66 L298.84,703.13 L301.39,702.59 L303.95,702.06 L306.5,701.53 L309.05,701 L311.6,700.47 L314.15,699.94 L316.71,699.41 L319.26,698.87 L321.81,698.34 L324.36,697.81 L326.92,697.28 L329.47,696.75 L332.02,696.22 L334.57,695.69 L337.12,695.17 L339.68,694.73 L342.23,694.29 L344.78,693.86 L347.33,693.42 L349.89,692.99 L352.44,692.55 L354.99,692.12 L357.54,691.68 L360.1,691.25 L362.65,690.82 L365.2,690.38 L367.75,689.95 L370.3,689.52 L372.86,689.08 L375.41,688.65 L377.96,688.22 L380.51,687.91 L383.07,687.6 L385.62,687.3 L388.17,686.99 L390.72,686.69 L393.27,686.38 L395.83,686.08 L398.38,685.77 L400.93,685.47 L403.48,685.16 L406.04,684.86 L408.59,684.56 L411.14,684.25 L413.69,683.95 L416.25,683.65 L418.8,683.35 L421.35,683.17 L423.9,682.99 L426.45,682.82 L429.01,682.65 L431.56,682.47 L434.11,682.3 L436.66,682.13 L439.22,681.96 L441.77,681.79 L444.32,681.62 L446.87,681.45 L449.42,681.28 L451.98,681.11 L454.53,680.95 L457.08,680.78 L459.63,680.62 L462.19,680.54 L464.74,680.47 L467.29,680.4 L469.84,680.33 L472.39,680.27 L474.95,680.2 L477.5,680.14 L480.05,680.08 L482.6,680.02 L485.16,679.96 L487.71,679.9 L490.26,679.85 L492.81,679.79 L495.37,679.74 L497.92,679.69 L500.47,679.64 L503.02,679.63 L505.57,679.63 L508.13,679.64 L510.68,679.64 L513.23,679.65 L515.78,679.66 L518.34,679.68 L520.89,679.7 L523.44,679.72 L525.99,679.76 L528.54,679.79 L531.1,679.83 L533.65,679.88 L536.2,679.94 L538.75,680.01 L541.31,680.08 L543.86,680.17 L546.41,680.26 L548.96,680.37 L551.52,680.52 L554.07,680.7 L556.62,680.89 L559.17,681.1 L561.72,681.33 L564.28,681.57 L566.83,681.82 L569.38,682.1 L571.93,682.4 L574.49,682.71 L577.04,683.05 L579.59,683.4 L582.14,683.78 L584.69,684.18 L587.25,684.61 L589.8,685.05 L592.35,685.52 L594.9,686.01 L597.46,686.53 L600.01,687.06 L602.56,687.63 L605.11,688.21 L607.67,688.83 L610.22,689.47 L612.77,690.13 L615.32,690.83 L617.87,691.57 L620.43,692.34 L622.98,693.15 L625.53,694 L628.08,694.89 L630.64,695.84 L633.19,696.84 L635.74,697.9 L638.29,699.03 L640.84,700.22 L643.4,701.48 L645.95,702.83 L648.5,704.26 L651.05,705.78 L653.61,707.4 L656.16,709.13 L658.71,710.97 L661.26,712.93 L663.82,715.03 L666.37,717.27 L668.92,719.66 L671.47,722.22 L674.02,724.96 L676.58,727.88 L679.13,731.02 L681.68,734.37 L684.23,737.97 L686.79,741.82 L689.34,745.95 L691.89,750.37 L694.44,755.12 L696.99,760.21 L699.55,765.67" fill="none" stroke="#002060" stroke-width="3.5" stroke-linejoin="round" />
<path d="M140.6,694.1 L143.09,694.25 L145.58,694.41 L148.08,694.56 L150.57,694.72 L153.06,694.97 L155.55,695.28 L158.04,695.59 L160.53,695.89 L163.03,696.2 L165.52,696.51 L168.01,696.82 L170.5,697.12 L172.99,697.43 L175.49,697.74 L177.98,697.93 L180.47,698.08 L182.96,698.24 L185.45,698.39 L187.94,698.54 L190.44,698.7 L192.93,698.85 L195.42,699.01 L197.91,699.16 L200.4,699.32 L202.9,699.28 L205.39,699.23 L207.88,699.18 L210.37,699.13 L212.86,699.08 L215.35,699.03 L217.85,698.98 L220.34,698.94 L222.83,698.89 L225.32,698.83 L227.81,698.57 L230.31,698.32 L232.8,698.06 L235.29,697.81 L237.78,697.56 L240.27,697.3 L242.76,697.05 L245.26,696.79 L247.75,696.54 L250.24,696.25 L252.73,695.79 L255.22,695.33 L257.72,694.88 L260.21,694.42 L262.7,693.96 L265.19,693.5 L267.68,693.05 L270.17,692.59 L272.67,692.13 L275.16,691.68 L277.65,691.22 L280.14,690.76 L282.63,690.31 L285.13,689.85 L287.62,689.39 L290.11,688.94 L292.6,688.43 L295.09,687.92 L297.58,687.4 L300.08,686.88 L302.57,686.37 L305.06,685.85 L307.55,685.33 L310.04,684.82 L312.54,684.3 L315.03,683.79 L317.52,683.27 L320.01,682.75 L322.5,682.24 L324.99,681.72 L327.49,681.21 L329.98,680.7 L332.47,680.21 L334.96,679.79 L337.45,679.36 L339.95,678.94 L342.44,678.52 L344.93,678.1 L347.42,677.68 L349.91,677.26 L352.4,676.84 L354.9,676.42 L357.39,676 L359.88,675.58 L362.37,675.17 L364.86,674.75 L367.36,674.33 L369.85,673.91 L372.34,673.5 L374.83,673.19 L377.32,672.89 L379.81,672.6 L382.31,672.31 L384.8,672.02 L387.29,671.73 L389.78,671.44 L392.27,671.15 L394.77,670.86 L397.26,670.57 L399.75,670.28 L402.24,670 L404.73,669.71 L407.22,669.43 L409.72,669.14 L412.21,668.86 L414.7,668.62 L417.19,668.46 L419.68,668.31 L422.17,668.15 L424.67,667.99 L427.16,667.84 L429.65,667.68 L432.14,667.53 L434.63,667.38 L437.13,667.23 L439.62,667.08 L442.11,666.93 L444.6,666.79 L447.09,666.65 L449.58,666.51 L452.08,666.37 L454.57,666.23 L457.06,666.18 L459.55,666.14 L462.04,666.1 L464.54,666.07 L467.03,666.04 L469.52,666.01 L472.01,665.98 L474.5,665.96 L476.99,665.95 L479.49,665.94 L481.98,665.93 L484.47,665.94 L486.96,665.94 L489.45,665.96 L491.95,665.98 L494.44,666.02 L496.93,666.08 L499.42,666.17 L501.91,666.27 L504.4,666.38 L506.9,666.51 L509.39,666.65 L511.88,666.81 L514.37,666.98 L516.86,667.17 L519.36,667.38 L521.85,667.61 L524.34,667.85 L526.83,668.12 L529.32,668.41 L531.81,668.73 L534.31,669.07 L536.8,669.43 L539.29,669.81 L541.78,670.22 L544.27,670.65 L546.77,671.13 L549.26,671.63 L551.75,672.14 L554.24,672.68 L556.73,673.23 L559.22,673.8 L561.72,674.39 L564.21,674.99 L566.7,675.61 L569.19,676.23 L571.68,676.87 L574.18,677.53 L576.67,678.19 L579.16,678.86 L581.65,679.54 L584.14,680.23 L586.63,680.93 L589.13,681.63 L591.62,682.35 L594.11,683.07 L596.6,683.8 L599.09,684.54 L601.59,685.3 L604.08,686.07 L606.57,686.85 L609.06,687.66 L611.55,688.48 L614.04,689.34 L616.54,690.23 L619.03,691.16 L621.52,692.13 L624.01,693.15 L626.5,694.22 L629,695.35 L631.49,696.55 L633.98,697.82 L636.47,699.18 L638.96,700.62 L641.45,702.15 L643.95,703.78 L646.44,705.53 L648.93,707.39 L651.42,709.38 L653.91,711.51 L656.41,713.78 L658.9,716.22 L661.39,718.82 L663.88,721.6 L666.37,724.58 L668.86,727.78 L671.36,731.19 L673.85,734.85 L676.34,738.78 L678.83,742.98 L681.32,747.48 L683.82,752.31 L686.31,757.48" fill="none" stroke="#0070C0" stroke-width="3.5" stroke-linejoin="round" />
<path d="M140.6,689.66 L143.08,689.82 L145.56,689.97 L148.04,690.12 L150.52,690.32 L152.99,690.62 L155.47,690.93 L157.95,691.24 L160.43,691.54 L162.91,691.85 L165.39,692.15 L167.87,692.46 L170.35,692.77 L172.82,693.07 L175.3,693.33 L177.78,693.48 L180.26,693.63 L182.74,693.79 L185.22,693.94 L187.7,694.09 L190.18,694.25 L192.65,694.4 L195.13,694.56 L197.61,694.71 L200.09,694.78 L202.57,694.73 L205.05,694.68 L207.53,694.63 L210.01,694.58 L212.49,694.53 L214.96,694.48 L217.44,694.43 L219.92,694.38 L222.4,694.33 L224.88,694.18 L227.36,693.93 L229.84,693.67 L232.32,693.42 L234.79,693.17 L237.27,692.92 L239.75,692.67 L242.23,692.41 L244.71,692.16 L247.19,691.91 L249.67,691.54 L252.15,691.08 L254.62,690.63 L257.1,690.17 L259.58,689.72 L262.06,689.26 L264.54,688.81 L267.02,688.36 L269.5,687.9 L271.98,687.45 L274.46,686.99 L276.93,686.54 L279.41,686.09 L281.89,685.63 L284.37,685.18 L286.85,684.73 L289.33,684.27 L291.81,683.76 L294.29,683.24 L296.76,682.73 L299.24,682.22 L301.72,681.7 L304.2,681.19 L306.68,680.68 L309.16,680.17 L311.64,679.65 L314.12,679.14 L316.6,678.63 L319.07,678.12 L321.55,677.61 L324.03,677.1 L326.51,676.59 L328.99,676.08 L331.47,675.61 L333.95,675.2 L336.43,674.78 L338.9,674.36 L341.38,673.94 L343.86,673.53 L346.34,673.11 L348.82,672.7 L351.3,672.28 L353.78,671.87 L356.26,671.45 L358.73,671.04 L361.21,670.62 L363.69,670.21 L366.17,669.8 L368.65,669.39 L371.13,668.97 L373.61,668.68 L376.09,668.4 L378.57,668.11 L381.04,667.82 L383.52,667.53 L386,667.25 L388.48,666.96 L390.96,666.68 L393.44,666.4 L395.92,666.11 L398.4,665.83 L400.87,665.55 L403.35,665.27 L405.83,664.99 L408.31,664.71 L410.79,664.44 L413.27,664.22 L415.75,664.06 L418.23,663.91 L420.7,663.76 L423.18,663.61 L425.66,663.47 L428.14,663.32 L430.62,663.17 L433.1,663.03 L435.58,662.89 L438.06,662.75 L440.54,662.62 L443.01,662.48 L445.49,662.35 L447.97,662.22 L450.45,662.1 L452.93,661.97 L455.41,661.94 L457.89,661.92 L460.37,661.9 L462.84,661.88 L465.32,661.87 L467.8,661.86 L470.28,661.86 L472.76,661.87 L475.24,661.88 L477.72,661.9 L480.2,661.93 L482.67,661.97 L485.15,662.03 L487.63,662.09 L490.11,662.16 L492.59,662.25 L495.07,662.37 L497.55,662.52 L500.03,662.69 L502.51,662.87 L504.98,663.08 L507.46,663.3 L509.94,663.54 L512.42,663.81 L514.9,664.09 L517.38,664.4 L519.86,664.73 L522.34,665.08 L524.81,665.46 L527.29,665.86 L529.77,666.29 L532.25,666.73 L534.73,667.2 L537.21,667.7 L539.69,668.21 L542.17,668.74 L544.65,669.3 L547.12,669.89 L549.6,670.48 L552.08,671.1 L554.56,671.72 L557.04,672.36 L559.52,673.01 L562,673.67 L564.48,674.34 L566.95,675.01 L569.43,675.7 L571.91,676.39 L574.39,677.09 L576.87,677.79 L579.35,678.5 L581.83,679.22 L584.31,679.94 L586.78,680.67 L589.26,681.4 L591.74,682.14 L594.22,682.88 L596.7,683.63 L599.18,684.4 L601.66,685.17 L604.14,685.96 L606.62,686.76 L609.09,687.59 L611.57,688.44 L614.05,689.33 L616.53,690.24 L619.01,691.21 L621.49,692.21 L623.97,693.28 L626.45,694.4 L628.92,695.58 L631.4,696.84 L633.88,698.18 L636.36,699.61 L638.84,701.13 L641.32,702.75 L643.8,704.48 L646.28,706.33 L648.75,708.31 L651.23,710.42 L653.71,712.68 L656.19,715.1 L658.67,717.69 L661.15,720.46 L663.63,723.42 L666.11,726.59 L668.59,729.99 L671.06,733.64 L673.54,737.54 L676.02,741.72 L678.5,746.19 L680.98,750.99 L683.46,756.13" fill="none" stroke="#00B050" stroke-width="3.5" stroke-linejoin="round" />
<path d="M140.6,682.2 L143.07,682.35 L145.54,682.51 L148.01,682.71 L150.48,683.02 L152.95,683.32 L155.43,683.63 L157.9,683.93 L160.37,684.24 L162.84,684.54 L165.31,684.85 L167.78,685.15 L170.25,685.46 L172.72,685.71 L175.19,685.86 L177.66,686.01 L180.13,686.17 L182.6,686.32 L185.08,686.48 L187.55,686.63 L190.02,686.78 L192.49,686.94 L194.96,687.09 L197.43,687.16 L199.9,687.11 L202.37,687.06 L204.84,687.01 L207.31,686.96 L209.78,686.91 L212.26,686.87 L214.73,686.82 L217.2,686.77 L219.67,686.72 L222.14,686.57 L224.61,686.32 L227.08,686.07 L229.55,685.82 L232.02,685.57 L234.49,685.32 L236.96,685.07 L239.43,684.82 L241.91,684.57 L244.38,684.32 L246.85,683.96 L249.32,683.51 L251.79,683.06 L254.26,682.61 L256.73,682.15 L259.2,681.7 L261.67,681.25 L264.14,680.8 L266.61,680.35 L269.09,679.9 L271.56,679.45 L274.03,678.99 L276.5,678.54 L278.97,678.09 L281.44,677.64 L283.91,677.19 L286.38,676.74 L288.85,676.24 L291.32,675.73 L293.79,675.22 L296.27,674.71 L298.74,674.2 L301.21,673.69 L303.68,673.18 L306.15,672.67 L308.62,672.16 L311.09,671.66 L313.56,671.15 L316.03,670.64 L318.5,670.14 L320.97,669.63 L323.44,669.12 L325.92,668.62 L328.39,668.15 L330.86,667.73 L333.33,667.32 L335.8,666.91 L338.27,666.5 L340.74,666.08 L343.21,665.67 L345.68,665.26 L348.15,664.85 L350.62,664.44 L353.1,664.03 L355.57,663.63 L358.04,663.22 L360.51,662.81 L362.98,662.41 L365.45,662 L367.92,661.6 L370.39,661.29 L372.86,661.01 L375.33,660.72 L377.8,660.44 L380.27,660.17 L382.75,659.89 L385.22,659.61 L387.69,659.34 L390.16,659.06 L392.63,658.79 L395.1,658.51 L397.57,658.24 L400.04,657.97 L402.51,657.71 L404.98,657.44 L407.45,657.17 L409.93,656.93 L412.4,656.79 L414.87,656.66 L417.34,656.52 L419.81,656.39 L422.28,656.25 L424.75,656.13 L427.22,656 L429.69,655.88 L432.16,655.76 L434.63,655.64 L437.1,655.53 L439.58,655.42 L442.05,655.32 L444.52,655.23 L446.99,655.14 L449.46,655.05 L451.93,655.03 L454.4,655.05 L456.87,655.08 L459.34,655.12 L461.81,655.17 L464.28,655.23 L466.76,655.3 L469.23,655.38 L471.7,655.48 L474.17,655.59 L476.64,655.72 L479.11,655.87 L481.58,656.04 L484.05,656.22 L486.52,656.43 L488.99,656.67 L491.46,656.92 L493.93,657.23 L496.41,657.56 L498.88,657.91 L501.35,658.28 L503.82,658.68 L506.29,659.1 L508.76,659.55 L511.23,660.01 L513.7,660.5 L516.17,661.01 L518.64,661.54 L521.11,662.09 L523.59,662.65 L526.06,663.23 L528.53,663.83 L531,664.45 L533.47,665.07 L535.94,665.71 L538.41,666.37 L540.88,667.03 L543.35,667.71 L545.82,668.39 L548.29,669.09 L550.77,669.79 L553.24,670.49 L555.71,671.2 L558.18,671.92 L560.65,672.64 L563.12,673.36 L565.59,674.09 L568.06,674.82 L570.53,675.55 L573,676.28 L575.47,677.02 L577.94,677.76 L580.42,678.51 L582.89,679.25 L585.36,680 L587.83,680.75 L590.3,681.5 L592.77,682.26 L595.24,683.03 L597.71,683.81 L600.18,684.59 L602.65,685.39 L605.12,686.21 L607.6,687.06 L610.07,687.93 L612.54,688.83 L615.01,689.77 L617.48,690.76 L619.95,691.8 L622.42,692.89 L624.89,694.05 L627.36,695.29 L629.83,696.6 L632.3,697.99 L634.77,699.49 L637.25,701.08 L639.72,702.78 L642.19,704.6 L644.66,706.54 L647.13,708.62 L649.6,710.85 L652.07,713.23 L654.54,715.79 L657.01,718.52 L659.48,721.45 L661.95,724.58 L664.43,727.94 L666.9,731.54 L669.37,735.39 L671.84,739.52 L674.31,743.95 L676.78,748.69 L679.25,753.77 L681.72,759.21" fill="none" stroke="#70AD47" stroke-width="3.5" stroke-linejoin="round" />
<path d="M140.6,674.59 L143.06,674.74 L145.52,674.96 L147.97,675.26 L150.43,675.57 L152.89,675.87 L155.35,676.18 L157.81,676.48 L160.27,676.79 L162.72,677.09 L165.18,677.4 L167.64,677.7 L170.1,677.94 L172.56,678.09 L175.01,678.25 L177.47,678.4 L179.93,678.55 L182.39,678.71 L184.85,678.86 L187.31,679.01 L189.76,679.17 L192.22,679.32 L194.68,679.39 L197.14,679.34 L199.6,679.29 L202.06,679.25 L204.51,679.2 L206.97,679.15 L209.43,679.1 L211.89,679.06 L214.35,679.01 L216.8,678.96 L219.26,678.83 L221.72,678.58 L224.18,678.33 L226.64,678.09 L229.1,677.84 L231.55,677.59 L234.01,677.34 L236.47,677.09 L238.93,676.85 L241.39,676.6 L243.84,676.27 L246.3,675.82 L248.76,675.37 L251.22,674.92 L253.68,674.47 L256.14,674.03 L258.59,673.58 L261.05,673.13 L263.51,672.68 L265.97,672.24 L268.43,671.79 L270.88,671.34 L273.34,670.9 L275.8,670.45 L278.26,670.01 L280.72,669.56 L283.18,669.12 L285.63,668.63 L288.09,668.12 L290.55,667.62 L293.01,667.11 L295.47,666.61 L297.92,666.11 L300.38,665.6 L302.84,665.1 L305.3,664.6 L307.76,664.1 L310.22,663.6 L312.67,663.09 L315.13,662.59 L317.59,662.09 L320.05,661.6 L322.51,661.1 L324.97,660.61 L327.42,660.2 L329.88,659.79 L332.34,659.39 L334.8,658.98 L337.26,658.58 L339.71,658.17 L342.17,657.77 L344.63,657.37 L347.09,656.97 L349.55,656.57 L352.01,656.17 L354.46,655.77 L356.92,655.37 L359.38,654.97 L361.84,654.58 L364.3,654.18 L366.75,653.84 L369.21,653.57 L371.67,653.3 L374.13,653.03 L376.59,652.76 L379.05,652.49 L381.5,652.23 L383.96,651.96 L386.42,651.7 L388.88,651.44 L391.34,651.18 L393.79,650.93 L396.25,650.67 L398.71,650.42 L401.17,650.17 L403.63,649.93 L406.09,649.68 L408.54,649.53 L411,649.42 L413.46,649.3 L415.92,649.2 L418.38,649.09 L420.84,648.99 L423.29,648.9 L425.75,648.81 L428.21,648.73 L430.67,648.66 L433.13,648.6 L435.58,648.55 L438.04,648.5 L440.5,648.47 L442.96,648.45 L445.42,648.45 L447.88,648.47 L450.33,648.58 L452.79,648.7 L455.25,648.84 L457.71,649 L460.17,649.18 L462.62,649.38 L465.08,649.6 L467.54,649.84 L470,650.11 L472.46,650.4 L474.92,650.72 L477.37,651.06 L479.83,651.43 L482.29,651.82 L484.75,652.24 L487.21,652.68 L489.66,653.15 L492.12,653.65 L494.58,654.18 L497.04,654.72 L499.5,655.28 L501.96,655.86 L504.41,656.45 L506.87,657.06 L509.33,657.68 L511.79,658.31 L514.25,658.96 L516.7,659.61 L519.16,660.28 L521.62,660.95 L524.08,661.64 L526.54,662.33 L529,663.02 L531.45,663.73 L533.91,664.43 L536.37,665.15 L538.83,665.87 L541.29,666.59 L543.75,667.32 L546.2,668.05 L548.66,668.78 L551.12,669.51 L553.58,670.25 L556.04,670.99 L558.49,671.73 L560.95,672.47 L563.41,673.22 L565.87,673.96 L568.33,674.71 L570.79,675.45 L573.24,676.2 L575.7,676.95 L578.16,677.7 L580.62,678.45 L583.08,679.2 L585.53,679.96 L587.99,680.71 L590.45,681.47 L592.91,682.24 L595.37,683.02 L597.83,683.8 L600.28,684.6 L602.74,685.42 L605.2,686.26 L607.66,687.12 L610.12,688.02 L612.57,688.96 L615.03,689.94 L617.49,690.97 L619.95,692.07 L622.41,693.22 L624.87,694.45 L627.32,695.76 L629.78,697.16 L632.24,698.65 L634.7,700.24 L637.16,701.94 L639.62,703.76 L642.07,705.71 L644.53,707.8 L646.99,710.03 L649.45,712.42 L651.91,714.99 L654.36,717.73 L656.82,720.66 L659.28,723.81 L661.74,727.18 L664.2,730.79 L666.66,734.65 L669.11,738.8 L671.57,743.23 L674.03,747.98 L676.49,753.08 L678.95,758.53" fill="none" stroke="#FFC000" stroke-width="3.5" stroke-linejoin="round" />
<path d="M140.6,659.23 L143.05,659.39 L145.51,659.64 L147.96,659.94 L150.41,660.25 L152.87,660.56 L155.32,660.86 L157.78,661.17 L160.23,661.47 L162.68,661.78 L165.14,662.08 L167.59,662.39 L170.04,662.6 L172.5,662.75 L174.95,662.91 L177.41,663.06 L179.86,663.22 L182.31,663.37 L184.77,663.53 L187.22,663.69 L189.67,663.84 L192.13,664 L194.58,664.03 L197.04,663.99 L199.49,663.94 L201.94,663.9 L204.4,663.85 L206.85,663.81 L209.3,663.76 L211.76,663.72 L214.21,663.68 L216.67,663.63 L219.12,663.47 L221.57,663.23 L224.03,662.98 L226.48,662.74 L228.93,662.5 L231.39,662.25 L233.84,662.01 L236.3,661.77 L238.75,661.53 L241.2,661.29 L243.66,660.93 L246.11,660.49 L248.56,660.04 L251.02,659.6 L253.47,659.16 L255.93,658.72 L258.38,658.28 L260.83,657.84 L263.29,657.4 L265.74,656.96 L268.19,656.52 L270.65,656.09 L273.1,655.65 L275.56,655.21 L278.01,654.78 L280.46,654.34 L282.92,653.91 L285.37,653.42 L287.82,652.92 L290.28,652.43 L292.73,651.94 L295.19,651.45 L297.64,650.96 L300.09,650.47 L302.55,649.98 L305,649.49 L307.45,649 L309.91,648.51 L312.36,648.03 L314.82,647.54 L317.27,647.06 L319.72,646.57 L322.18,646.09 L324.63,645.63 L327.08,645.24 L329.54,644.85 L331.99,644.46 L334.45,644.08 L336.9,643.7 L339.35,643.31 L341.81,642.93 L344.26,642.55 L346.71,642.18 L349.17,641.8 L351.62,641.43 L354.08,641.06 L356.53,640.69 L358.98,640.32 L361.44,639.96 L363.89,639.6 L366.34,639.3 L368.8,639.06 L371.25,638.83 L373.71,638.6 L376.16,638.38 L378.61,638.16 L381.07,637.95 L383.52,637.74 L385.97,637.54 L388.43,637.35 L390.88,637.17 L393.34,636.99 L395.79,636.83 L398.24,636.68 L400.7,636.54 L403.15,636.42 L405.6,636.32 L408.06,636.32 L410.51,636.36 L412.97,636.41 L415.42,636.49 L417.87,636.59 L420.33,636.72 L422.78,636.87 L425.23,637.05 L427.69,637.25 L430.14,637.48 L432.6,637.75 L435.05,638.04 L437.5,638.37 L439.96,638.72 L442.41,639.11 L444.86,639.52 L447.32,639.97 L449.77,640.47 L452.23,641 L454.68,641.54 L457.13,642.1 L459.59,642.68 L462.04,643.28 L464.49,643.89 L466.95,644.52 L469.4,645.16 L471.86,645.81 L474.31,646.47 L476.76,647.14 L479.22,647.82 L481.67,648.5 L484.12,649.2 L486.58,649.9 L489.03,650.6 L491.49,651.32 L493.94,652.03 L496.39,652.76 L498.85,653.48 L501.3,654.21 L503.75,654.94 L506.21,655.67 L508.66,656.41 L511.12,657.14 L513.57,657.88 L516.02,658.62 L518.48,659.37 L520.93,660.11 L523.38,660.85 L525.84,661.6 L528.29,662.34 L530.75,663.09 L533.2,663.84 L535.65,664.59 L538.11,665.34 L540.56,666.09 L543.01,666.84 L545.47,667.59 L547.92,668.34 L550.38,669.09 L552.83,669.84 L555.28,670.6 L557.74,671.35 L560.19,672.1 L562.64,672.86 L565.1,673.61 L567.55,674.36 L570.01,675.12 L572.46,675.87 L574.91,676.62 L577.37,677.38 L579.82,678.14 L582.27,678.89 L584.73,679.65 L587.18,680.42 L589.64,681.18 L592.09,681.96 L594.54,682.74 L597,683.54 L599.45,684.35 L601.9,685.19 L604.36,686.05 L606.81,686.95 L609.27,687.88 L611.72,688.86 L614.17,689.9 L616.63,690.99 L619.08,692.14 L621.53,693.37 L623.99,694.69 L626.44,696.09 L628.9,697.58 L631.35,699.18 L633.8,700.9 L636.26,702.73 L638.71,704.69 L641.16,706.8 L643.62,709.05 L646.07,711.46 L648.53,714.05 L650.98,716.81 L653.43,719.78 L655.89,722.96 L658.34,726.36 L660.79,730 L663.25,733.91 L665.7,738.09 L668.16,742.57 L670.61,747.38 L673.06,752.52 L675.52,758.03 L677.97,763.93" fill="none" stroke="#ED7D31" stroke-width="3.5" stroke-linejoin="round" />
<path d="M140.6,643.11 L143.05,643.27 L145.5,643.52 L147.95,643.83 L150.4,644.14 L152.85,644.45 L155.3,644.75 L157.74,645.06 L160.19,645.37 L162.64,645.68 L165.09,645.99 L167.54,646.3 L169.99,646.51 L172.44,646.67 L174.89,646.83 L177.34,646.99 L179.79,647.15 L182.24,647.31 L184.69,647.47 L187.13,647.63 L189.58,647.8 L192.03,647.96 L194.48,648 L196.93,647.96 L199.38,647.93 L201.83,647.89 L204.28,647.85 L206.73,647.81 L209.18,647.78 L211.63,647.74 L214.08,647.71 L216.52,647.67 L218.97,647.53 L221.42,647.29 L223.87,647.06 L226.32,646.82 L228.77,646.59 L231.22,646.36 L233.67,646.13 L236.12,645.89 L238.57,645.66 L241.02,645.43 L243.47,645.1 L245.91,644.67 L248.36,644.24 L250.81,643.82 L253.26,643.39 L255.71,642.96 L258.16,642.54 L260.61,642.11 L263.06,641.69 L265.51,641.27 L267.96,640.85 L270.41,640.42 L272.86,640.01 L275.3,639.59 L277.75,639.17 L280.2,638.75 L282.65,638.34 L285.1,637.88 L287.55,637.41 L290,636.94 L292.45,636.47 L294.9,636 L297.35,635.53 L299.8,635.07 L302.25,634.61 L304.69,634.15 L307.14,633.69 L309.59,633.23 L312.04,632.77 L314.49,632.32 L316.94,631.87 L319.39,631.42 L321.84,630.98 L324.29,630.54 L326.74,630.19 L329.19,629.84 L331.64,629.5 L334.08,629.16 L336.53,628.82 L338.98,628.49 L341.43,628.17 L343.88,627.85 L346.33,627.54 L348.78,627.23 L351.23,626.93 L353.68,626.64 L356.13,626.36 L358.58,626.1 L361.03,625.84 L363.47,625.61 L365.92,625.42 L368.37,625.33 L370.82,625.25 L373.27,625.2 L375.72,625.17 L378.17,625.16 L380.62,625.18 L383.07,625.23 L385.52,625.31 L387.97,625.43 L390.42,625.58 L392.86,625.76 L395.31,625.99 L397.76,626.25 L400.21,626.55 L402.66,626.88 L405.11,627.26 L407.56,627.69 L410.01,628.18 L412.46,628.68 L414.91,629.21 L417.36,629.77 L419.81,630.34 L422.25,630.93 L424.7,631.54 L427.15,632.16 L429.6,632.8 L432.05,633.45 L434.5,634.11 L436.95,634.78 L439.4,635.46 L441.85,636.15 L444.3,636.85 L446.75,637.55 L449.2,638.26 L451.64,638.98 L454.09,639.7 L456.54,640.43 L458.99,641.16 L461.44,641.89 L463.89,642.62 L466.34,643.36 L468.79,644.09 L471.24,644.83 L473.69,645.57 L476.14,646.31 L478.59,647.06 L481.03,647.8 L483.48,648.54 L485.93,649.29 L488.38,650.04 L490.83,650.78 L493.28,651.53 L495.73,652.28 L498.18,653.03 L500.63,653.78 L503.08,654.53 L505.53,655.28 L507.98,656.03 L510.42,656.78 L512.87,657.53 L515.32,658.28 L517.77,659.04 L520.22,659.79 L522.67,660.54 L525.12,661.29 L527.57,662.04 L530.02,662.8 L532.47,663.55 L534.92,664.3 L537.37,665.05 L539.81,665.81 L542.26,666.56 L544.71,667.31 L547.16,668.07 L549.61,668.82 L552.06,669.57 L554.51,670.33 L556.96,671.08 L559.41,671.83 L561.86,672.59 L564.31,673.34 L566.76,674.1 L569.2,674.85 L571.65,675.6 L574.1,676.36 L576.55,677.11 L579,677.87 L581.45,678.63 L583.9,679.39 L586.35,680.15 L588.8,680.92 L591.25,681.7 L593.7,682.48 L596.15,683.29 L598.59,684.11 L601.04,684.95 L603.49,685.83 L605.94,686.74 L608.39,687.69 L610.84,688.69 L613.29,689.74 L615.74,690.86 L618.19,692.04 L620.64,693.3 L623.09,694.65 L625.54,696.09 L627.98,697.63 L630.43,699.28 L632.88,701.04 L635.33,702.93 L637.78,704.95 L640.23,707.12 L642.68,709.44 L645.13,711.92 L647.58,714.58 L650.03,717.43 L652.48,720.49 L654.93,723.76 L657.37,727.26 L659.82,731.01 L662.27,735.04 L664.72,739.34 L667.17,743.96 L669.62,748.9 L672.07,754.19 L674.52,759.87 L676.97,765.94" fill="none" stroke="#FF0000" stroke-width="3.5" stroke-linejoin="round" />
<path d="M140.6,638.65 L143.04,638.81 L145.49,639.07 L147.93,639.38 L150.38,639.68 L152.82,639.99 L155.27,640.3 L157.71,640.61 L160.16,640.92 L162.6,641.23 L165.04,641.54 L167.49,641.85 L169.93,642.07 L172.38,642.23 L174.82,642.39 L177.27,642.56 L179.71,642.72 L182.16,642.88 L184.6,643.04 L187.04,643.2 L189.49,643.37 L191.93,643.53 L194.38,643.59 L196.82,643.55 L199.27,643.52 L201.71,643.48 L204.16,643.45 L206.6,643.41 L209.04,643.38 L211.49,643.35 L213.93,643.31 L216.38,643.28 L218.82,643.15 L221.27,642.92 L223.71,642.69 L226.16,642.46 L228.6,642.23 L231.04,642.01 L233.49,641.78 L235.93,641.55 L238.38,641.33 L240.82,641.1 L243.27,640.79 L245.71,640.37 L248.16,639.95 L250.6,639.52 L253.05,639.1 L255.49,638.68 L257.93,638.27 L260.38,637.85 L262.82,637.43 L265.27,637.02 L267.71,636.6 L270.16,636.19 L272.6,635.78 L275.05,635.37 L277.49,634.96 L279.93,634.55 L282.38,634.15 L284.82,633.7 L287.27,633.24 L289.71,632.78 L292.16,632.32 L294.6,631.86 L297.05,631.41 L299.49,630.96 L301.93,630.51 L304.38,630.06 L306.82,629.61 L309.27,629.17 L311.71,628.72 L314.16,628.29 L316.6,627.85 L319.05,627.42 L321.49,626.99 L323.93,626.57 L326.38,626.23 L328.82,625.9 L331.27,625.58 L333.71,625.26 L336.16,624.95 L338.6,624.65 L341.05,624.36 L343.49,624.07 L345.93,623.79 L348.38,623.53 L350.82,623.28 L353.27,623.04 L355.71,622.81 L358.16,622.61 L360.6,622.43 L363.05,622.27 L365.49,622.15 L367.93,622.15 L370.38,622.17 L372.82,622.22 L375.27,622.3 L377.71,622.41 L380.16,622.56 L382.6,622.74 L385.05,622.96 L387.49,623.22 L389.93,623.51 L392.38,623.84 L394.82,624.21 L397.27,624.61 L399.71,625.05 L402.16,625.51 L404.6,626.01 L407.05,626.55 L409.49,627.13 L411.93,627.72 L414.38,628.33 L416.82,628.96 L419.27,629.6 L421.71,630.25 L424.16,630.91 L426.6,631.59 L429.05,632.27 L431.49,632.96 L433.93,633.65 L436.38,634.36 L438.82,635.06 L441.27,635.78 L443.71,636.49 L446.16,637.22 L448.6,637.94 L451.05,638.67 L453.49,639.41 L455.94,640.14 L458.38,640.88 L460.82,641.62 L463.27,642.36 L465.71,643.1 L468.16,643.84 L470.6,644.58 L473.05,645.33 L475.49,646.07 L477.94,646.82 L480.38,647.56 L482.82,648.31 L485.27,649.06 L487.71,649.8 L490.16,650.55 L492.6,651.3 L495.05,652.05 L497.49,652.8 L499.94,653.55 L502.38,654.3 L504.82,655.05 L507.27,655.8 L509.71,656.55 L512.16,657.3 L514.6,658.05 L517.05,658.8 L519.49,659.55 L521.94,660.31 L524.38,661.06 L526.82,661.81 L529.27,662.56 L531.71,663.31 L534.16,664.06 L536.6,664.81 L539.05,665.57 L541.49,666.32 L543.94,667.07 L546.38,667.82 L548.82,668.57 L551.27,669.33 L553.71,670.08 L556.16,670.83 L558.6,671.58 L561.05,672.34 L563.49,673.09 L565.94,673.84 L568.38,674.59 L570.82,675.35 L573.27,676.1 L575.71,676.85 L578.16,677.61 L580.6,678.36 L583.05,679.12 L585.49,679.88 L587.94,680.65 L590.38,681.42 L592.82,682.21 L595.27,683 L597.71,683.82 L600.16,684.66 L602.6,685.52 L605.05,686.42 L607.49,687.36 L609.94,688.34 L612.38,689.38 L614.82,690.48 L617.27,691.65 L619.71,692.89 L622.16,694.21 L624.6,695.63 L627.05,697.14 L629.49,698.76 L631.94,700.49 L634.38,702.34 L636.83,704.33 L639.27,706.45 L641.71,708.73 L644.16,711.17 L646.6,713.78 L649.05,716.57 L651.49,719.57 L653.94,722.78 L656.38,726.21 L658.83,729.89 L661.27,733.83 L663.71,738.05 L666.16,742.58 L668.6,747.42 L671.05,752.61 L673.49,758.16 L675.94,764.11" fill="none" stroke="#C00000" stroke-width="3.5" stroke-linejoin="round" />
<path d="M339.88,604.21 L341.76,604.79 L343.64,605.37 L345.53,605.95 L347.41,606.53 L349.29,607.11 L351.17,607.69 L353.05,608.26 L354.93,608.84 L356.82,609.42 L358.7,610 L360.58,610.58 L362.46,611.16 L364.34,611.74 L366.22,612.32 L368.11,612.9 L369.99,613.48 L371.87,614.06 L373.75,614.64 L375.63,615.22 L377.51,615.8 L379.4,616.38 L381.28,616.96 L383.16,617.54 L385.04,618.11 L386.92,618.69 L388.8,619.27 L390.69,619.85 L392.57,620.43 L394.45,621.01 L396.33,621.59 L398.21,622.17 L400.09,622.75 L401.98,623.33 L403.86,623.91 L405.74,624.49 L407.62,625.07 L409.5,625.65 L411.38,626.23 L413.27,626.81 L415.15,627.39 L417.03,627.96 L418.91,628.54 L420.79,629.12 L422.68,629.7 L424.56,630.28 L426.44,630.86 L428.32,631.44 L430.2,632.02 L432.08,632.6 L433.97,633.18 L435.85,633.76 L437.73,634.34 L439.61,634.92 L441.49,635.5 L443.37,636.08 L445.26,636.66 L447.14,637.24 L449.02,637.81 L450.9,638.39 L452.78,638.97 L454.66,639.55 L456.55,640.13 L458.43,640.71 L460.31,641.29 L462.19,641.87 L464.07,642.45 L465.95,643.03 L467.84,643.61 L469.72,644.19 L471.6,644.77 L473.48,645.35 L475.36,645.93 L477.24,646.51 L479.13,647.08 L481.01,647.66 L482.89,648.24 L484.77,648.82 L486.65,649.4 L488.53,649.98 L490.42,650.56 L492.3,651.14 L494.18,651.72 L496.06,652.3 L497.94,652.88 L499.82,653.46 L501.71,654.04 L503.59,654.62 L505.47,655.2 L507.35,655.78 L509.23,656.36 L511.11,656.93 L513,657.51 L514.88,658.09 L516.76,658.67 L518.64,659.25 L520.52,659.83 L522.4,660.41 L524.29,660.99 L526.17,661.57 L528.05,662.15 L529.93,662.73 L531.81,663.31 L533.7,663.89 L535.58,664.47 L537.46,665.05 L539.34,665.63 L541.22,666.21 L543.1,666.78 L544.99,667.36 L546.87,667.94 L548.75,668.52 L550.63,669.1 L552.51,669.68 L554.39,670.26 L556.28,670.84 L558.16,671.42 L560.04,672 L561.92,672.58 L563.8,673.16 L565.68,673.74 L567.57,674.32 L569.45,674.9 L571.33,675.48 L573.21,676.06 L575.09,676.64 L576.97,677.22 L578.86,677.8 L580.74,678.38 L582.62,678.97 L584.5,679.56 L586.38,680.15 L588.26,680.74 L590.15,681.34 L592.03,681.95 L593.91,682.56 L595.79,683.19 L597.67,683.83 L599.55,684.49 L601.44,685.16 L603.32,685.85 L605.2,686.57 L607.08,687.31 L608.96,688.08 L610.84,688.89 L612.73,689.73 L614.61,690.61 L616.49,691.53 L618.37,692.5 L620.25,693.52 L622.13,694.59 L624.02,695.72 L625.9,696.91 L627.78,698.16 L629.66,699.48 L631.54,700.86 L633.42,702.33 L635.31,703.87 L637.19,705.5 L639.07,707.21 L640.95,709.02 L642.83,710.93 L644.71,712.94 L646.6,715.06 L648.48,717.29 L650.36,719.64 L652.24,722.13 L654.12,724.75 L656.01,727.5 L657.89,730.41 L659.77,733.48 L661.65,736.72 L663.53,740.13 L665.41,743.72 L667.3,747.51 L669.18,751.51 L671.06,755.72 L672.94,760.16 L674.82,764.84 L676.7,769.78 L678.59,774.98 L680.47,780.47 L682.35,786.25 L684.23,792.35 L686.11,798.78 L687.99,805.56 L689.88,812.71 L691.76,820.24 L693.64,828.19 L695.52,836.56 L697.4,845.39 L699.28,854.7 L701.17,864.51 L703.05,874.86 L704.93,885.77 L706.81,897.27 L708.69,909.4 L710.57,922.18 L712.46,935.66 L714.34,949.87" fill="none" stroke="#7030A0" stroke-width="3.5" stroke-linejoin="round" />
<line x1="339.88" y1="604.21" x2="714.34" y2="719.51" stroke="#000" stroke-width="3.8" stroke-dasharray="11,3.8"/>
</g>
<line x1="140.6" y1="977.2" x2="140.6" y2="972.6" stroke="#262626" stroke-width="2.6" />
<line x1="140.6" y1="573.4" x2="140.6" y2="578" stroke="#262626" stroke-width="2.6" />
<line x1="222.56" y1="977.2" x2="222.56" y2="972.6" stroke="#262626" stroke-width="2.6" />
<line x1="222.56" y1="573.4" x2="222.56" y2="578" stroke="#262626" stroke-width="2.6" />
<line x1="304.52" y1="977.2" x2="304.52" y2="972.6" stroke="#262626" stroke-width="2.6" />
<line x1="304.52" y1="573.4" x2="304.52" y2="578" stroke="#262626" stroke-width="2.6" />
<line x1="386.49" y1="977.2" x2="386.49" y2="972.6" stroke="#262626" stroke-width="2.6" />
<line x1="386.49" y1="573.4" x2="386.49" y2="578" stroke="#262626" stroke-width="2.6" />
<line x1="468.45" y1="977.2" x2="468.45" y2="972.6" stroke="#262626" stroke-width="2.6" />
<line x1="468.45" y1="573.4" x2="468.45" y2="578" stroke="#262626" stroke-width="2.6" />
<line x1="550.41" y1="977.2" x2="550.41" y2="972.6" stroke="#262626" stroke-width="2.6" />
<line x1="550.41" y1="573.4" x2="550.41" y2="578" stroke="#262626" stroke-width="2.6" />
<line x1="632.38" y1="977.2" x2="632.38" y2="972.6" stroke="#262626" stroke-width="2.6" />
<line x1="632.38" y1="573.4" x2="632.38" y2="578" stroke="#262626" stroke-width="2.6" />
<line x1="714.34" y1="977.2" x2="714.34" y2="972.6" stroke="#262626" stroke-width="2.6" />
<line x1="714.34" y1="573.4" x2="714.34" y2="578" stroke="#262626" stroke-width="2.6" />
<line x1="796.3" y1="977.2" x2="796.3" y2="972.6" stroke="#262626" stroke-width="2.6" />
<line x1="796.3" y1="573.4" x2="796.3" y2="578" stroke="#262626" stroke-width="2.6" />
<line x1="165.27" y1="977.2" x2="165.27" y2="974.6" stroke="#262626" stroke-width="2.6" />
<line x1="165.27" y1="573.4" x2="165.27" y2="576" stroke="#262626" stroke-width="2.6" />
<line x1="179.71" y1="977.2" x2="179.71" y2="974.6" stroke="#262626" stroke-width="2.6" />
<line x1="179.71" y1="573.4" x2="179.71" y2="576" stroke="#262626" stroke-width="2.6" />
<line x1="189.95" y1="977.2" x2="189.95" y2="974.6" stroke="#262626" stroke-width="2.6" />
<line x1="189.95" y1="573.4" x2="189.95" y2="576" stroke="#262626" stroke-width="2.6" />
<line x1="197.89" y1="977.2" x2="197.89" y2="974.6" stroke="#262626" stroke-width="2.6" />
<line x1="197.89" y1="573.4" x2="197.89" y2="576" stroke="#262626" stroke-width="2.6" />
<line x1="204.38" y1="977.2" x2="204.38" y2="974.6" stroke="#262626" stroke-width="2.6" />
<line x1="204.38" y1="573.4" x2="204.38" y2="576" stroke="#262626" stroke-width="2.6" />
<line x1="209.87" y1="977.2" x2="209.87" y2="974.6" stroke="#262626" stroke-width="2.6" />
<line x1="209.87" y1="573.4" x2="209.87" y2="576" stroke="#262626" stroke-width="2.6" />
<line x1="214.62" y1="977.2" x2="214.62" y2="974.6" stroke="#262626" stroke-width="2.6" />
<line x1="214.62" y1="573.4" x2="214.62" y2="576" stroke="#262626" stroke-width="2.6" />
<line x1="218.81" y1="977.2" x2="218.81" y2="974.6" stroke="#262626" stroke-width="2.6" />
<line x1="218.81" y1="573.4" x2="218.81" y2="576" stroke="#262626" stroke-width="2.6" />
<line x1="247.24" y1="977.2" x2="247.24" y2="974.6" stroke="#262626" stroke-width="2.6" />
<line x1="247.24" y1="573.4" x2="247.24" y2="576" stroke="#262626" stroke-width="2.6" />
<line x1="261.67" y1="977.2" x2="261.67" y2="974.6" stroke="#262626" stroke-width="2.6" />
<line x1="261.67" y1="573.4" x2="261.67" y2="576" stroke="#262626" stroke-width="2.6" />
<line x1="271.91" y1="977.2" x2="271.91" y2="974.6" stroke="#262626" stroke-width="2.6" />
<line x1="271.91" y1="573.4" x2="271.91" y2="576" stroke="#262626" stroke-width="2.6" />
<line x1="279.85" y1="977.2" x2="279.85" y2="974.6" stroke="#262626" stroke-width="2.6" />
<line x1="279.85" y1="573.4" x2="279.85" y2="576" stroke="#262626" stroke-width="2.6" />
<line x1="286.34" y1="977.2" x2="286.34" y2="974.6" stroke="#262626" stroke-width="2.6" />
<line x1="286.34" y1="573.4" x2="286.34" y2="576" stroke="#262626" stroke-width="2.6" />
<line x1="291.83" y1="977.2" x2="291.83" y2="974.6" stroke="#262626" stroke-width="2.6" />
<line x1="291.83" y1="573.4" x2="291.83" y2="576" stroke="#262626" stroke-width="2.6" />
<line x1="296.58" y1="977.2" x2="296.58" y2="974.6" stroke="#262626" stroke-width="2.6" />
<line x1="296.58" y1="573.4" x2="296.58" y2="576" stroke="#262626" stroke-width="2.6" />
<line x1="300.77" y1="977.2" x2="300.77" y2="974.6" stroke="#262626" stroke-width="2.6" />
<line x1="300.77" y1="573.4" x2="300.77" y2="576" stroke="#262626" stroke-width="2.6" />
<line x1="329.2" y1="977.2" x2="329.2" y2="974.6" stroke="#262626" stroke-width="2.6" />
<line x1="329.2" y1="573.4" x2="329.2" y2="576" stroke="#262626" stroke-width="2.6" />
<line x1="343.63" y1="977.2" x2="343.63" y2="974.6" stroke="#262626" stroke-width="2.6" />
<line x1="343.63" y1="573.4" x2="343.63" y2="576" stroke="#262626" stroke-width="2.6" />
<line x1="353.87" y1="977.2" x2="353.87" y2="974.6" stroke="#262626" stroke-width="2.6" />
<line x1="353.87" y1="573.4" x2="353.87" y2="576" stroke="#262626" stroke-width="2.6" />
<line x1="361.81" y1="977.2" x2="361.81" y2="974.6" stroke="#262626" stroke-width="2.6" />
<line x1="361.81" y1="573.4" x2="361.81" y2="576" stroke="#262626" stroke-width="2.6" />
<line x1="368.3" y1="977.2" x2="368.3" y2="974.6" stroke="#262626" stroke-width="2.6" />
<line x1="368.3" y1="573.4" x2="368.3" y2="576" stroke="#262626" stroke-width="2.6" />
<line x1="373.79" y1="977.2" x2="373.79" y2="974.6" stroke="#262626" stroke-width="2.6" />
<line x1="373.79" y1="573.4" x2="373.79" y2="576" stroke="#262626" stroke-width="2.6" />
<line x1="378.54" y1="977.2" x2="378.54" y2="974.6" stroke="#262626" stroke-width="2.6" />
<line x1="378.54" y1="573.4" x2="378.54" y2="576" stroke="#262626" stroke-width="2.6" />
<line x1="382.74" y1="977.2" x2="382.74" y2="974.6" stroke="#262626" stroke-width="2.6" />
<line x1="382.74" y1="573.4" x2="382.74" y2="576" stroke="#262626" stroke-width="2.6" />
<line x1="411.16" y1="977.2" x2="411.16" y2="974.6" stroke="#262626" stroke-width="2.6" />
<line x1="411.16" y1="573.4" x2="411.16" y2="576" stroke="#262626" stroke-width="2.6" />
<line x1="425.59" y1="977.2" x2="425.59" y2="974.6" stroke="#262626" stroke-width="2.6" />
<line x1="425.59" y1="573.4" x2="425.59" y2="576" stroke="#262626" stroke-width="2.6" />
<line x1="435.83" y1="977.2" x2="435.83" y2="974.6" stroke="#262626" stroke-width="2.6" />
<line x1="435.83" y1="573.4" x2="435.83" y2="576" stroke="#262626" stroke-width="2.6" />
<line x1="443.78" y1="977.2" x2="443.78" y2="974.6" stroke="#262626" stroke-width="2.6" />
<line x1="443.78" y1="573.4" x2="443.78" y2="576" stroke="#262626" stroke-width="2.6" />
<line x1="450.27" y1="977.2" x2="450.27" y2="974.6" stroke="#262626" stroke-width="2.6" />
<line x1="450.27" y1="573.4" x2="450.27" y2="576" stroke="#262626" stroke-width="2.6" />
<line x1="455.75" y1="977.2" x2="455.75" y2="974.6" stroke="#262626" stroke-width="2.6" />
<line x1="455.75" y1="573.4" x2="455.75" y2="576" stroke="#262626" stroke-width="2.6" />
<line x1="460.51" y1="977.2" x2="460.51" y2="974.6" stroke="#262626" stroke-width="2.6" />
<line x1="460.51" y1="573.4" x2="460.51" y2="576" stroke="#262626" stroke-width="2.6" />
<line x1="464.7" y1="977.2" x2="464.7" y2="974.6" stroke="#262626" stroke-width="2.6" />
<line x1="464.7" y1="573.4" x2="464.7" y2="576" stroke="#262626" stroke-width="2.6" />
<line x1="493.12" y1="977.2" x2="493.12" y2="974.6" stroke="#262626" stroke-width="2.6" />
<line x1="493.12" y1="573.4" x2="493.12" y2="576" stroke="#262626" stroke-width="2.6" />
<line x1="507.56" y1="977.2" x2="507.56" y2="974.6" stroke="#262626" stroke-width="2.6" />
<line x1="507.56" y1="573.4" x2="507.56" y2="576" stroke="#262626" stroke-width="2.6" />
<line x1="517.8" y1="977.2" x2="517.8" y2="974.6" stroke="#262626" stroke-width="2.6" />
<line x1="517.8" y1="573.4" x2="517.8" y2="576" stroke="#262626" stroke-width="2.6" />
<line x1="525.74" y1="977.2" x2="525.74" y2="974.6" stroke="#262626" stroke-width="2.6" />
<line x1="525.74" y1="573.4" x2="525.74" y2="576" stroke="#262626" stroke-width="2.6" />
<line x1="532.23" y1="977.2" x2="532.23" y2="974.6" stroke="#262626" stroke-width="2.6" />
<line x1="532.23" y1="573.4" x2="532.23" y2="576" stroke="#262626" stroke-width="2.6" />
<line x1="537.72" y1="977.2" x2="537.72" y2="974.6" stroke="#262626" stroke-width="2.6" />
<line x1="537.72" y1="573.4" x2="537.72" y2="576" stroke="#262626" stroke-width="2.6" />
<line x1="542.47" y1="977.2" x2="542.47" y2="974.6" stroke="#262626" stroke-width="2.6" />
<line x1="542.47" y1="573.4" x2="542.47" y2="576" stroke="#262626" stroke-width="2.6" />
<line x1="546.66" y1="977.2" x2="546.66" y2="974.6" stroke="#262626" stroke-width="2.6" />
<line x1="546.66" y1="573.4" x2="546.66" y2="576" stroke="#262626" stroke-width="2.6" />
<line x1="575.09" y1="977.2" x2="575.09" y2="974.6" stroke="#262626" stroke-width="2.6" />
<line x1="575.09" y1="573.4" x2="575.09" y2="576" stroke="#262626" stroke-width="2.6" />
<line x1="589.52" y1="977.2" x2="589.52" y2="974.6" stroke="#262626" stroke-width="2.6" />
<line x1="589.52" y1="573.4" x2="589.52" y2="576" stroke="#262626" stroke-width="2.6" />
<line x1="599.76" y1="977.2" x2="599.76" y2="974.6" stroke="#262626" stroke-width="2.6" />
<line x1="599.76" y1="573.4" x2="599.76" y2="576" stroke="#262626" stroke-width="2.6" />
<line x1="607.7" y1="977.2" x2="607.7" y2="974.6" stroke="#262626" stroke-width="2.6" />
<line x1="607.7" y1="573.4" x2="607.7" y2="576" stroke="#262626" stroke-width="2.6" />
<line x1="614.19" y1="977.2" x2="614.19" y2="974.6" stroke="#262626" stroke-width="2.6" />
<line x1="614.19" y1="573.4" x2="614.19" y2="576" stroke="#262626" stroke-width="2.6" />
<line x1="619.68" y1="977.2" x2="619.68" y2="974.6" stroke="#262626" stroke-width="2.6" />
<line x1="619.68" y1="573.4" x2="619.68" y2="576" stroke="#262626" stroke-width="2.6" />
<line x1="624.43" y1="977.2" x2="624.43" y2="974.6" stroke="#262626" stroke-width="2.6" />
<line x1="624.43" y1="573.4" x2="624.43" y2="576" stroke="#262626" stroke-width="2.6" />
<line x1="628.62" y1="977.2" x2="628.62" y2="974.6" stroke="#262626" stroke-width="2.6" />
<line x1="628.62" y1="573.4" x2="628.62" y2="576" stroke="#262626" stroke-width="2.6" />
<line x1="657.05" y1="977.2" x2="657.05" y2="974.6" stroke="#262626" stroke-width="2.6" />
<line x1="657.05" y1="573.4" x2="657.05" y2="576" stroke="#262626" stroke-width="2.6" />
<line x1="671.48" y1="977.2" x2="671.48" y2="974.6" stroke="#262626" stroke-width="2.6" />
<line x1="671.48" y1="573.4" x2="671.48" y2="576" stroke="#262626" stroke-width="2.6" />
<line x1="681.72" y1="977.2" x2="681.72" y2="974.6" stroke="#262626" stroke-width="2.6" />
<line x1="681.72" y1="573.4" x2="681.72" y2="576" stroke="#262626" stroke-width="2.6" />
<line x1="689.66" y1="977.2" x2="689.66" y2="974.6" stroke="#262626" stroke-width="2.6" />
<line x1="689.66" y1="573.4" x2="689.66" y2="576" stroke="#262626" stroke-width="2.6" />
<line x1="696.15" y1="977.2" x2="696.15" y2="974.6" stroke="#262626" stroke-width="2.6" />
<line x1="696.15" y1="573.4" x2="696.15" y2="576" stroke="#262626" stroke-width="2.6" />
<line x1="701.64" y1="977.2" x2="701.64" y2="974.6" stroke="#262626" stroke-width="2.6" />
<line x1="701.64" y1="573.4" x2="701.64" y2="576" stroke="#262626" stroke-width="2.6" />
<line x1="706.39" y1="977.2" x2="706.39" y2="974.6" stroke="#262626" stroke-width="2.6" />
<line x1="706.39" y1="573.4" x2="706.39" y2="576" stroke="#262626" stroke-width="2.6" />
<line x1="710.59" y1="977.2" x2="710.59" y2="974.6" stroke="#262626" stroke-width="2.6" />
<line x1="710.59" y1="573.4" x2="710.59" y2="576" stroke="#262626" stroke-width="2.6" />
<line x1="739.01" y1="977.2" x2="739.01" y2="974.6" stroke="#262626" stroke-width="2.6" />
<line x1="739.01" y1="573.4" x2="739.01" y2="576" stroke="#262626" stroke-width="2.6" />
<line x1="753.44" y1="977.2" x2="753.44" y2="974.6" stroke="#262626" stroke-width="2.6" />
<line x1="753.44" y1="573.4" x2="753.44" y2="576" stroke="#262626" stroke-width="2.6" />
<line x1="763.68" y1="977.2" x2="763.68" y2="974.6" stroke="#262626" stroke-width="2.6" />
<line x1="763.68" y1="573.4" x2="763.68" y2="576" stroke="#262626" stroke-width="2.6" />
<line x1="771.63" y1="977.2" x2="771.63" y2="974.6" stroke="#262626" stroke-width="2.6" />
<line x1="771.63" y1="573.4" x2="771.63" y2="576" stroke="#262626" stroke-width="2.6" />
<line x1="778.12" y1="977.2" x2="778.12" y2="974.6" stroke="#262626" stroke-width="2.6" />
<line x1="778.12" y1="573.4" x2="778.12" y2="576" stroke="#262626" stroke-width="2.6" />
<line x1="783.6" y1="977.2" x2="783.6" y2="974.6" stroke="#262626" stroke-width="2.6" />
<line x1="783.6" y1="573.4" x2="783.6" y2="576" stroke="#262626" stroke-width="2.6" />
<line x1="788.36" y1="977.2" x2="788.36" y2="974.6" stroke="#262626" stroke-width="2.6" />
<line x1="788.36" y1="573.4" x2="788.36" y2="576" stroke="#262626" stroke-width="2.6" />
<line x1="792.55" y1="977.2" x2="792.55" y2="974.6" stroke="#262626" stroke-width="2.6" />
<line x1="792.55" y1="573.4" x2="792.55" y2="576" stroke="#262626" stroke-width="2.6" />
<line x1="140.6" y1="977.2" x2="147.1" y2="977.2" stroke="#262626" stroke-width="2.6" />
<line x1="796.3" y1="977.2" x2="789.8" y2="977.2" stroke="#262626" stroke-width="2.6" />
<line x1="140.6" y1="926.73" x2="147.1" y2="926.73" stroke="#262626" stroke-width="2.6" />
<line x1="796.3" y1="926.73" x2="789.8" y2="926.73" stroke="#262626" stroke-width="2.6" />
<line x1="140.6" y1="876.25" x2="147.1" y2="876.25" stroke="#262626" stroke-width="2.6" />
<line x1="796.3" y1="876.25" x2="789.8" y2="876.25" stroke="#262626" stroke-width="2.6" />
<line x1="140.6" y1="825.78" x2="147.1" y2="825.78" stroke="#262626" stroke-width="2.6" />
<line x1="796.3" y1="825.78" x2="789.8" y2="825.78" stroke="#262626" stroke-width="2.6" />
<line x1="140.6" y1="775.3" x2="147.1" y2="775.3" stroke="#262626" stroke-width="2.6" />
<line x1="796.3" y1="775.3" x2="789.8" y2="775.3" stroke="#262626" stroke-width="2.6" />
<line x1="140.6" y1="724.83" x2="147.1" y2="724.83" stroke="#262626" stroke-width="2.6" />
<line x1="796.3" y1="724.83" x2="789.8" y2="724.83" stroke="#262626" stroke-width="2.6" />
<line x1="140.6" y1="674.35" x2="147.1" y2="674.35" stroke="#262626" stroke-width="2.6" />
<line x1="796.3" y1="674.35" x2="789.8" y2="674.35" stroke="#262626" stroke-width="2.6" />
<line x1="140.6" y1="623.88" x2="147.1" y2="623.88" stroke="#262626" stroke-width="2.6" />
<line x1="796.3" y1="623.88" x2="789.8" y2="623.88" stroke="#262626" stroke-width="2.6" />
<line x1="140.6" y1="573.4" x2="147.1" y2="573.4" stroke="#262626" stroke-width="2.6" />
<line x1="796.3" y1="573.4" x2="789.8" y2="573.4" stroke="#262626" stroke-width="2.6" />
<line x1="140.6" y1="962.01" x2="144.1" y2="962.01" stroke="#262626" stroke-width="2.6" />
<line x1="796.3" y1="962.01" x2="792.8" y2="962.01" stroke="#262626" stroke-width="2.6" />
<line x1="140.6" y1="953.12" x2="144.1" y2="953.12" stroke="#262626" stroke-width="2.6" />
<line x1="796.3" y1="953.12" x2="792.8" y2="953.12" stroke="#262626" stroke-width="2.6" />
<line x1="140.6" y1="946.81" x2="144.1" y2="946.81" stroke="#262626" stroke-width="2.6" />
<line x1="796.3" y1="946.81" x2="792.8" y2="946.81" stroke="#262626" stroke-width="2.6" />
<line x1="140.6" y1="941.92" x2="144.1" y2="941.92" stroke="#262626" stroke-width="2.6" />
<line x1="796.3" y1="941.92" x2="792.8" y2="941.92" stroke="#262626" stroke-width="2.6" />
<line x1="140.6" y1="937.92" x2="144.1" y2="937.92" stroke="#262626" stroke-width="2.6" />
<line x1="796.3" y1="937.92" x2="792.8" y2="937.92" stroke="#262626" stroke-width="2.6" />
<line x1="140.6" y1="934.54" x2="144.1" y2="934.54" stroke="#262626" stroke-width="2.6" />
<line x1="796.3" y1="934.54" x2="792.8" y2="934.54" stroke="#262626" stroke-width="2.6" />
<line x1="140.6" y1="931.62" x2="144.1" y2="931.62" stroke="#262626" stroke-width="2.6" />
<line x1="796.3" y1="931.62" x2="792.8" y2="931.62" stroke="#262626" stroke-width="2.6" />
<line x1="140.6" y1="929.03" x2="144.1" y2="929.03" stroke="#262626" stroke-width="2.6" />
<line x1="796.3" y1="929.03" x2="792.8" y2="929.03" stroke="#262626" stroke-width="2.6" />
<line x1="140.6" y1="911.53" x2="144.1" y2="911.53" stroke="#262626" stroke-width="2.6" />
<line x1="796.3" y1="911.53" x2="792.8" y2="911.53" stroke="#262626" stroke-width="2.6" />
<line x1="140.6" y1="902.64" x2="144.1" y2="902.64" stroke="#262626" stroke-width="2.6" />
<line x1="796.3" y1="902.64" x2="792.8" y2="902.64" stroke="#262626" stroke-width="2.6" />
<line x1="140.6" y1="896.34" x2="144.1" y2="896.34" stroke="#262626" stroke-width="2.6" />
<line x1="796.3" y1="896.34" x2="792.8" y2="896.34" stroke="#262626" stroke-width="2.6" />
<line x1="140.6" y1="891.44" x2="144.1" y2="891.44" stroke="#262626" stroke-width="2.6" />
<line x1="796.3" y1="891.44" x2="792.8" y2="891.44" stroke="#262626" stroke-width="2.6" />
<line x1="140.6" y1="887.45" x2="144.1" y2="887.45" stroke="#262626" stroke-width="2.6" />
<line x1="796.3" y1="887.45" x2="792.8" y2="887.45" stroke="#262626" stroke-width="2.6" />
<line x1="140.6" y1="884.07" x2="144.1" y2="884.07" stroke="#262626" stroke-width="2.6" />
<line x1="796.3" y1="884.07" x2="792.8" y2="884.07" stroke="#262626" stroke-width="2.6" />
<line x1="140.6" y1="881.14" x2="144.1" y2="881.14" stroke="#262626" stroke-width="2.6" />
<line x1="796.3" y1="881.14" x2="792.8" y2="881.14" stroke="#262626" stroke-width="2.6" />
<line x1="140.6" y1="878.56" x2="144.1" y2="878.56" stroke="#262626" stroke-width="2.6" />
<line x1="796.3" y1="878.56" x2="792.8" y2="878.56" stroke="#262626" stroke-width="2.6" />
<line x1="140.6" y1="861.06" x2="144.1" y2="861.06" stroke="#262626" stroke-width="2.6" />
<line x1="796.3" y1="861.06" x2="792.8" y2="861.06" stroke="#262626" stroke-width="2.6" />
<line x1="140.6" y1="852.17" x2="144.1" y2="852.17" stroke="#262626" stroke-width="2.6" />
<line x1="796.3" y1="852.17" x2="792.8" y2="852.17" stroke="#262626" stroke-width="2.6" />
<line x1="140.6" y1="845.86" x2="144.1" y2="845.86" stroke="#262626" stroke-width="2.6" />
<line x1="796.3" y1="845.86" x2="792.8" y2="845.86" stroke="#262626" stroke-width="2.6" />
<line x1="140.6" y1="840.97" x2="144.1" y2="840.97" stroke="#262626" stroke-width="2.6" />
<line x1="796.3" y1="840.97" x2="792.8" y2="840.97" stroke="#262626" stroke-width="2.6" />
<line x1="140.6" y1="836.97" x2="144.1" y2="836.97" stroke="#262626" stroke-width="2.6" />
<line x1="796.3" y1="836.97" x2="792.8" y2="836.97" stroke="#262626" stroke-width="2.6" />
<line x1="140.6" y1="833.59" x2="144.1" y2="833.59" stroke="#262626" stroke-width="2.6" />
<line x1="796.3" y1="833.59" x2="792.8" y2="833.59" stroke="#262626" stroke-width="2.6" />
<line x1="140.6" y1="830.67" x2="144.1" y2="830.67" stroke="#262626" stroke-width="2.6" />
<line x1="796.3" y1="830.67" x2="792.8" y2="830.67" stroke="#262626" stroke-width="2.6" />
<line x1="140.6" y1="828.08" x2="144.1" y2="828.08" stroke="#262626" stroke-width="2.6" />
<line x1="796.3" y1="828.08" x2="792.8" y2="828.08" stroke="#262626" stroke-width="2.6" />
<line x1="140.6" y1="810.58" x2="144.1" y2="810.58" stroke="#262626" stroke-width="2.6" />
<line x1="796.3" y1="810.58" x2="792.8" y2="810.58" stroke="#262626" stroke-width="2.6" />
<line x1="140.6" y1="801.69" x2="144.1" y2="801.69" stroke="#262626" stroke-width="2.6" />
<line x1="796.3" y1="801.69" x2="792.8" y2="801.69" stroke="#262626" stroke-width="2.6" />
<line x1="140.6" y1="795.39" x2="144.1" y2="795.39" stroke="#262626" stroke-width="2.6" />
<line x1="796.3" y1="795.39" x2="792.8" y2="795.39" stroke="#262626" stroke-width="2.6" />
<line x1="140.6" y1="790.49" x2="144.1" y2="790.49" stroke="#262626" stroke-width="2.6" />
<line x1="796.3" y1="790.49" x2="792.8" y2="790.49" stroke="#262626" stroke-width="2.6" />
<line x1="140.6" y1="786.5" x2="144.1" y2="786.5" stroke="#262626" stroke-width="2.6" />
<line x1="796.3" y1="786.5" x2="792.8" y2="786.5" stroke="#262626" stroke-width="2.6" />
<line x1="140.6" y1="783.12" x2="144.1" y2="783.12" stroke="#262626" stroke-width="2.6" />
<line x1="796.3" y1="783.12" x2="792.8" y2="783.12" stroke="#262626" stroke-width="2.6" />
<line x1="140.6" y1="780.19" x2="144.1" y2="780.19" stroke="#262626" stroke-width="2.6" />
<line x1="796.3" y1="780.19" x2="792.8" y2="780.19" stroke="#262626" stroke-width="2.6" />
<line x1="140.6" y1="777.61" x2="144.1" y2="777.61" stroke="#262626" stroke-width="2.6" />
<line x1="796.3" y1="777.61" x2="792.8" y2="777.61" stroke="#262626" stroke-width="2.6" />
<line x1="140.6" y1="760.11" x2="144.1" y2="760.11" stroke="#262626" stroke-width="2.6" />
<line x1="796.3" y1="760.11" x2="792.8" y2="760.11" stroke="#262626" stroke-width="2.6" />
<line x1="140.6" y1="751.22" x2="144.1" y2="751.22" stroke="#262626" stroke-width="2.6" />
<line x1="796.3" y1="751.22" x2="792.8" y2="751.22" stroke="#262626" stroke-width="2.6" />
<line x1="140.6" y1="744.91" x2="144.1" y2="744.91" stroke="#262626" stroke-width="2.6" />
<line x1="796.3" y1="744.91" x2="792.8" y2="744.91" stroke="#262626" stroke-width="2.6" />
<line x1="140.6" y1="740.02" x2="144.1" y2="740.02" stroke="#262626" stroke-width="2.6" />
<line x1="796.3" y1="740.02" x2="792.8" y2="740.02" stroke="#262626" stroke-width="2.6" />
<line x1="140.6" y1="736.02" x2="144.1" y2="736.02" stroke="#262626" stroke-width="2.6" />
<line x1="796.3" y1="736.02" x2="792.8" y2="736.02" stroke="#262626" stroke-width="2.6" />
<line x1="140.6" y1="732.64" x2="144.1" y2="732.64" stroke="#262626" stroke-width="2.6" />
<line x1="796.3" y1="732.64" x2="792.8" y2="732.64" stroke="#262626" stroke-width="2.6" />
<line x1="140.6" y1="729.72" x2="144.1" y2="729.72" stroke="#262626" stroke-width="2.6" />
<line x1="796.3" y1="729.72" x2="792.8" y2="729.72" stroke="#262626" stroke-width="2.6" />
<line x1="140.6" y1="727.13" x2="144.1" y2="727.13" stroke="#262626" stroke-width="2.6" />
<line x1="796.3" y1="727.13" x2="792.8" y2="727.13" stroke="#262626" stroke-width="2.6" />
<line x1="140.6" y1="709.63" x2="144.1" y2="709.63" stroke="#262626" stroke-width="2.6" />
<line x1="796.3" y1="709.63" x2="792.8" y2="709.63" stroke="#262626" stroke-width="2.6" />
<line x1="140.6" y1="700.74" x2="144.1" y2="700.74" stroke="#262626" stroke-width="2.6" />
<line x1="796.3" y1="700.74" x2="792.8" y2="700.74" stroke="#262626" stroke-width="2.6" />
<line x1="140.6" y1="694.44" x2="144.1" y2="694.44" stroke="#262626" stroke-width="2.6" />
<line x1="796.3" y1="694.44" x2="792.8" y2="694.44" stroke="#262626" stroke-width="2.6" />
<line x1="140.6" y1="689.54" x2="144.1" y2="689.54" stroke="#262626" stroke-width="2.6" />
<line x1="796.3" y1="689.54" x2="792.8" y2="689.54" stroke="#262626" stroke-width="2.6" />
<line x1="140.6" y1="685.55" x2="144.1" y2="685.55" stroke="#262626" stroke-width="2.6" />
<line x1="796.3" y1="685.55" x2="792.8" y2="685.55" stroke="#262626" stroke-width="2.6" />
<line x1="140.6" y1="682.17" x2="144.1" y2="682.17" stroke="#262626" stroke-width="2.6" />
<line x1="796.3" y1="682.17" x2="792.8" y2="682.17" stroke="#262626" stroke-width="2.6" />
<line x1="140.6" y1="679.24" x2="144.1" y2="679.24" stroke="#262626" stroke-width="2.6" />
<line x1="796.3" y1="679.24" x2="792.8" y2="679.24" stroke="#262626" stroke-width="2.6" />
<line x1="140.6" y1="676.66" x2="144.1" y2="676.66" stroke="#262626" stroke-width="2.6" />
<line x1="796.3" y1="676.66" x2="792.8" y2="676.66" stroke="#262626" stroke-width="2.6" />
<line x1="140.6" y1="659.16" x2="144.1" y2="659.16" stroke="#262626" stroke-width="2.6" />
<line x1="796.3" y1="659.16" x2="792.8" y2="659.16" stroke="#262626" stroke-width="2.6" />
<line x1="140.6" y1="650.27" x2="144.1" y2="650.27" stroke="#262626" stroke-width="2.6" />
<line x1="796.3" y1="650.27" x2="792.8" y2="650.27" stroke="#262626" stroke-width="2.6" />
<line x1="140.6" y1="643.96" x2="144.1" y2="643.96" stroke="#262626" stroke-width="2.6" />
<line x1="796.3" y1="643.96" x2="792.8" y2="643.96" stroke="#262626" stroke-width="2.6" />
<line x1="140.6" y1="639.07" x2="144.1" y2="639.07" stroke="#262626" stroke-width="2.6" />
<line x1="796.3" y1="639.07" x2="792.8" y2="639.07" stroke="#262626" stroke-width="2.6" />
<line x1="140.6" y1="635.07" x2="144.1" y2="635.07" stroke="#262626" stroke-width="2.6" />
<line x1="796.3" y1="635.07" x2="792.8" y2="635.07" stroke="#262626" stroke-width="2.6" />
<line x1="140.6" y1="631.69" x2="144.1" y2="631.69" stroke="#262626" stroke-width="2.6" />
<line x1="796.3" y1="631.69" x2="792.8" y2="631.69" stroke="#262626" stroke-width="2.6" />
<line x1="140.6" y1="628.77" x2="144.1" y2="628.77" stroke="#262626" stroke-width="2.6" />
<line x1="796.3" y1="628.77" x2="792.8" y2="628.77" stroke="#262626" stroke-width="2.6" />
<line x1="140.6" y1="626.18" x2="144.1" y2="626.18" stroke="#262626" stroke-width="2.6" />
<line x1="796.3" y1="626.18" x2="792.8" y2="626.18" stroke="#262626" stroke-width="2.6" />
<line x1="140.6" y1="608.68" x2="144.1" y2="608.68" stroke="#262626" stroke-width="2.6" />
<line x1="796.3" y1="608.68" x2="792.8" y2="608.68" stroke="#262626" stroke-width="2.6" />
<line x1="140.6" y1="599.79" x2="144.1" y2="599.79" stroke="#262626" stroke-width="2.6" />
<line x1="796.3" y1="599.79" x2="792.8" y2="599.79" stroke="#262626" stroke-width="2.6" />
<line x1="140.6" y1="593.49" x2="144.1" y2="593.49" stroke="#262626" stroke-width="2.6" />
<line x1="796.3" y1="593.49" x2="792.8" y2="593.49" stroke="#262626" stroke-width="2.6" />
<line x1="140.6" y1="588.59" x2="144.1" y2="588.59" stroke="#262626" stroke-width="2.6" />
<line x1="796.3" y1="588.59" x2="792.8" y2="588.59" stroke="#262626" stroke-width="2.6" />
<line x1="140.6" y1="584.6" x2="144.1" y2="584.6" stroke="#262626" stroke-width="2.6" />
<line x1="796.3" y1="584.6" x2="792.8" y2="584.6" stroke="#262626" stroke-width="2.6" />
<line x1="140.6" y1="581.22" x2="144.1" y2="581.22" stroke="#262626" stroke-width="2.6" />
<line x1="796.3" y1="581.22" x2="792.8" y2="581.22" stroke="#262626" stroke-width="2.6" />
<line x1="140.6" y1="578.29" x2="144.1" y2="578.29" stroke="#262626" stroke-width="2.6" />
<line x1="796.3" y1="578.29" x2="792.8" y2="578.29" stroke="#262626" stroke-width="2.6" />
<line x1="140.6" y1="575.71" x2="144.1" y2="575.71" stroke="#262626" stroke-width="2.6" />
<line x1="796.3" y1="575.71" x2="792.8" y2="575.71" stroke="#262626" stroke-width="2.6" />
<rect x="140.6" y="573.4" width="655.7" height="403.8" fill="none" stroke="#262626" stroke-width="4" stroke-linejoin="miter" stroke-linecap="square"/>
<text x="140.6" y="1014.5" font-size="36" fill="#262626" text-anchor="middle">10<tspan dy="-10.6" font-size="23">-6</tspan></text>
<text x="222.56" y="1014.5" font-size="36" fill="#262626" text-anchor="middle">10<tspan dy="-10.6" font-size="23">-5</tspan></text>
<text x="304.52" y="1014.5" font-size="36" fill="#262626" text-anchor="middle">10<tspan dy="-10.6" font-size="23">-4</tspan></text>
<text x="386.49" y="1014.5" font-size="36" fill="#262626" text-anchor="middle">10<tspan dy="-10.6" font-size="23">-3</tspan></text>
<text x="468.45" y="1014.5" font-size="36" fill="#262626" text-anchor="middle">10<tspan dy="-10.6" font-size="23">-2</tspan></text>
<text x="550.41" y="1014.5" font-size="36" fill="#262626" text-anchor="middle">10<tspan dy="-10.6" font-size="23">-1</tspan></text>
<text x="632.38" y="1014.5" font-size="36" fill="#262626" text-anchor="middle">10<tspan dy="-10.6" font-size="23">0</tspan></text>
<text x="714.34" y="1014.5" font-size="36" fill="#262626" text-anchor="middle">10<tspan dy="-10.6" font-size="23">1</tspan></text>
<text x="796.3" y="1014.5" font-size="36" fill="#262626" text-anchor="middle">10<tspan dy="-10.6" font-size="23">2</tspan></text>
<text x="130.5" y="987.2" font-size="32.5" fill="#262626" text-anchor="end">10<tspan dy="-10.2" font-size="22">-6</tspan></text>
<text x="130.5" y="886.25" font-size="32.5" fill="#262626" text-anchor="end">10<tspan dy="-10.2" font-size="22">-4</tspan></text>
<text x="130.5" y="785.3" font-size="32.5" fill="#262626" text-anchor="end">10<tspan dy="-10.2" font-size="22">-2</tspan></text>
<text x="130.5" y="684.35" font-size="32.5" fill="#262626" text-anchor="end">10<tspan dy="-10.2" font-size="22">0</tspan></text>
<text x="130.5" y="583.4" font-size="32.5" fill="#262626" text-anchor="end">10<tspan dy="-10.2" font-size="22">2</tspan></text>
<text x="468" y="1069.5" font-family="'Liberation Serif', serif" font-style="italic" font-size="37" fill="#000" text-anchor="middle">t</text>
<line x1="463.8" y1="1044" x2="477.1" y2="1044" stroke="#000" stroke-width="2" />
<g transform="translate(59,776) rotate(-90)"><text x="0" y="0" font-family="'Liberation Serif', serif" font-style="italic" font-size="45" fill="#000" text-anchor="middle">J</text></g>
<line x1="24.5" y1="765" x2="24.5" y2="777.5" stroke="#000" stroke-width="2.2" />
<path d="M276,627.5 C268,665 275,705 312,723" fill="none" stroke="#000" stroke-width="5.2"/>
<polygon points="315,710 330.5,727.5 307,728.5" fill="#000"/>
<text x="276" y="771" font-size="35" fill="#262626">Increasing L<tspan dy="7" font-size="24">plate</tspan></text>
</g>
<g id="pc">
<text x="940" y="565" font-size="36" fill="#000" text-anchor="start" >(c)</text>
<clipPath id="clipc"><rect x="1060.4" y="573.8" width="656.5999999999999" height="403.6"/></clipPath>
<g clip-path="url(#clipc)">
<path d="M1060.4,977.4 L1060.75,977.2 L1061.09,977 L1061.44,976.8 L1061.78,976.6 L1062.13,976.4 L1062.47,976.2 L1062.82,976.01 L1063.16,975.81 L1063.51,975.62 L1063.86,975.42 L1064.2,975.23 L1064.55,975.04 L1064.89,974.85 L1065.24,974.65 L1065.58,974.46 L1065.93,974.27 L1066.27,974.08 L1066.62,973.89 L1066.97,973.7 L1071.05,971.48 L1075.14,969.3 L1079.23,967.16 L1083.32,965.05 L1087.41,962.96 L1091.5,960.9 L1095.58,958.86 L1099.67,956.84 L1103.76,954.84 L1107.85,952.85 L1111.94,950.89 L1116.03,948.94 L1120.11,947 L1124.2,945.08 L1128.29,943.17 L1132.38,941.28 L1136.47,939.4 L1140.55,937.53 L1144.64,935.68 L1148.73,933.84 L1152.82,932.01 L1156.91,930.19 L1161,928.39 L1165.08,926.59 L1169.17,924.81 L1173.26,923.04 L1177.35,921.28 L1181.44,919.53 L1185.53,917.8 L1189.61,916.07 L1193.7,914.35 L1197.79,912.65 L1201.88,910.96 L1205.97,909.27 L1210.06,907.6 L1214.14,905.94 L1218.23,904.29 L1222.32,902.65 L1226.41,901.02 L1230.5,899.4 L1234.58,897.79 L1238.67,896.19 L1242.76,894.6 L1246.85,893.02 L1250.94,891.44 L1255.03,889.88 L1259.11,888.33 L1263.2,886.79 L1267.29,885.26 L1271.38,883.74 L1275.47,882.22 L1279.56,880.72 L1283.64,879.23 L1287.73,877.74 L1291.82,876.27 L1295.91,874.8 L1300,873.34 L1304.09,871.9 L1308.17,870.46 L1312.26,869.03 L1316.35,867.61 L1320.44,866.2 L1324.53,864.79 L1328.61,863.4 L1332.7,862.01 L1336.79,860.63 L1340.88,859.27 L1344.97,857.91 L1349.06,856.55 L1353.14,855.21 L1357.23,853.88 L1361.32,852.55 L1365.41,851.23 L1369.5,849.92 L1373.59,848.62 L1377.67,847.33 L1381.76,846.04 L1385.85,844.76 L1389.94,843.49 L1394.03,842.23 L1398.12,840.98 L1402.2,839.73 L1406.29,838.49 L1410.38,837.26 L1414.47,836.04 L1418.56,834.82 L1422.64,833.62 L1426.73,832.42 L1430.82,831.22 L1434.91,830.04 L1439,828.86 L1443.09,827.69 L1447.17,826.53 L1451.26,825.37 L1455.35,824.22 L1459.44,823.08 L1463.53,821.94 L1467.62,820.82 L1471.7,819.7 L1475.79,818.58 L1479.88,817.48 L1483.97,816.38 L1488.06,815.28 L1492.15,814.2 L1496.23,813.12 L1500.32,812.05 L1504.41,810.98 L1508.5,809.92 L1512.59,808.87 L1516.68,807.82 L1520.76,806.78 L1524.85,805.75 L1528.94,804.72 L1533.03,803.7 L1537.12,802.69 L1541.2,801.68 L1545.29,800.68 L1549.38,799.69 L1553.47,798.7 L1557.56,797.72 L1561.65,796.74 L1565.73,795.77 L1569.82,794.8 L1573.91,793.85 L1578,792.89 L1582.09,791.95 L1586.18,791.01 L1590.26,790.07 L1594.35,789.14 L1598.44,788.22 L1602.53,787.3 L1606.62,786.39 L1610.71,785.49 L1614.79,784.59 L1618.88,783.69 L1622.97,782.8 L1627.06,781.92 L1631.15,781.04 L1635.23,780.17 L1639.32,779.3 L1643.41,778.44 L1647.5,777.58 L1651.59,776.73 L1655.68,775.89 L1659.76,775.05 L1663.85,774.21 L1667.94,773.38 L1672.03,772.56 L1676.12,771.74 L1680.21,770.92 L1684.29,770.11 L1688.38,769.31 L1692.47,768.51 L1696.56,767.71 L1700.65,766.92 L1704.74,766.14 L1708.82,765.36 L1712.91,764.59 L1717,763.82" fill="none" stroke="#ED7D31" stroke-width="3.3" stroke-linejoin="round" />
<path d="M1060.4,977.4 L1060.75,977.12 L1061.09,976.84 L1061.44,976.57 L1061.78,976.29 L1062.13,976.02 L1062.47,975.75 L1062.82,975.48 L1063.16,975.21 L1063.51,974.95 L1063.86,974.68 L1064.2,974.42 L1064.55,974.16 L1064.89,973.9 L1065.24,973.63 L1065.58,973.37 L1065.93,973.11 L1066.27,972.86 L1066.62,972.6 L1066.97,972.34 L1071.05,969.35 L1075.14,966.44 L1079.23,963.58 L1083.32,960.79 L1087.41,958.04 L1091.5,955.33 L1095.58,952.66 L1099.67,950.02 L1103.76,947.42 L1107.85,944.85 L1111.94,942.31 L1116.03,939.79 L1120.11,937.3 L1124.2,934.84 L1128.29,932.4 L1132.38,929.98 L1136.47,927.59 L1140.55,925.22 L1144.64,922.87 L1148.73,920.54 L1152.82,918.23 L1156.91,915.94 L1161,913.67 L1165.08,911.42 L1169.17,909.19 L1173.26,906.98 L1177.35,904.79 L1181.44,902.61 L1185.53,900.46 L1189.61,898.32 L1193.7,896.2 L1197.79,894.1 L1201.88,892.01 L1205.97,889.94 L1210.06,887.89 L1214.14,885.86 L1218.23,883.84 L1222.32,881.84 L1226.41,879.86 L1230.5,877.89 L1234.58,875.94 L1238.67,874 L1242.76,872.09 L1246.85,870.18 L1250.94,868.29 L1255.03,866.42 L1259.11,864.57 L1263.2,862.73 L1267.29,860.9 L1271.38,859.09 L1275.47,857.29 L1279.56,855.51 L1283.64,853.75 L1287.73,851.99 L1291.82,850.26 L1295.91,848.53 L1300,846.82 L1304.09,845.13 L1308.17,843.45 L1312.26,841.78 L1316.35,840.13 L1320.44,838.49 L1324.53,836.86 L1328.61,835.25 L1332.7,833.65 L1336.79,832.06 L1340.88,830.49 L1344.97,828.93 L1349.06,827.38 L1353.14,825.85 L1357.23,824.32 L1361.32,822.82 L1365.41,821.32 L1369.5,819.83 L1373.59,818.36 L1377.67,816.9 L1381.76,815.45 L1385.85,814.02 L1389.94,812.59 L1394.03,811.18 L1398.12,809.78 L1402.2,808.39 L1406.29,807.01 L1410.38,805.64 L1414.47,804.29 L1418.56,802.94 L1422.64,801.61 L1426.73,800.29 L1430.82,798.97 L1434.91,797.67 L1439,796.38 L1443.09,795.1 L1447.17,793.84 L1451.26,792.58 L1455.35,791.33 L1459.44,790.09 L1463.53,788.86 L1467.62,787.65 L1471.7,786.44 L1475.79,785.24 L1479.88,784.05 L1483.97,782.88 L1488.06,781.71 L1492.15,780.55 L1496.23,779.4 L1500.32,778.26 L1504.41,777.13 L1508.5,776.01 L1512.59,774.9 L1516.68,773.8 L1520.76,772.7 L1524.85,771.62 L1528.94,770.54 L1533.03,769.48 L1537.12,768.42 L1541.2,767.37 L1545.29,766.33 L1549.38,765.3 L1553.47,764.27 L1557.56,763.26 L1561.65,762.25 L1565.73,761.25 L1569.82,760.26 L1573.91,759.28 L1578,758.31 L1582.09,757.34 L1586.18,756.39 L1590.26,755.44 L1594.35,754.49 L1598.44,753.56 L1602.53,752.63 L1606.62,751.71 L1610.71,750.8 L1614.79,749.9 L1618.88,749 L1622.97,748.11 L1627.06,747.23 L1631.15,746.36 L1635.23,745.49 L1639.32,744.63 L1643.41,743.78 L1647.5,742.93 L1651.59,742.09 L1655.68,741.26 L1659.76,740.43 L1663.85,739.61 L1667.94,738.8 L1672.03,738 L1676.12,737.2 L1680.21,736.41 L1684.29,735.62 L1688.38,734.84 L1692.47,734.07 L1696.56,733.3 L1700.65,732.54 L1704.74,731.79 L1708.82,731.04 L1712.91,730.3 L1717,729.57" fill="none" stroke="#FF0000" stroke-width="3.3" stroke-linejoin="round" />
<path d="M1060.4,977.4 L1060.75,976.98 L1061.09,976.57 L1061.44,976.17 L1061.78,975.77 L1062.13,975.37 L1062.47,974.98 L1062.82,974.59 L1063.16,974.21 L1063.51,973.82 L1063.86,973.44 L1064.2,973.06 L1064.55,972.68 L1064.89,972.31 L1065.24,971.94 L1065.58,971.56 L1065.93,971.19 L1066.27,970.83 L1066.62,970.46 L1066.97,970.09 L1071.05,965.88 L1075.14,961.81 L1079.23,957.87 L1083.32,954.04 L1087.41,950.3 L1091.5,946.64 L1095.58,943.05 L1099.67,939.52 L1103.76,936.06 L1107.85,932.65 L1111.94,929.3 L1116.03,925.99 L1120.11,922.74 L1124.2,919.53 L1128.29,916.36 L1132.38,913.23 L1136.47,910.14 L1140.55,907.09 L1144.64,904.08 L1148.73,901.11 L1152.82,898.17 L1156.91,895.27 L1161,892.4 L1165.08,889.56 L1169.17,886.76 L1173.26,883.99 L1177.35,881.25 L1181.44,878.54 L1185.53,875.87 L1189.61,873.22 L1193.7,870.61 L1197.79,868.02 L1201.88,865.46 L1205.97,862.94 L1210.06,860.44 L1214.14,857.97 L1218.23,855.53 L1222.32,853.11 L1226.41,850.72 L1230.5,848.36 L1234.58,846.03 L1238.67,843.72 L1242.76,841.44 L1246.85,839.18 L1250.94,836.95 L1255.03,834.75 L1259.11,832.57 L1263.2,830.41 L1267.29,828.28 L1271.38,826.17 L1275.47,824.09 L1279.56,822.03 L1283.64,819.99 L1287.73,817.98 L1291.82,815.98 L1295.91,814.02 L1300,812.07 L1304.09,810.14 L1308.17,808.24 L1312.26,806.36 L1316.35,804.5 L1320.44,802.66 L1324.53,800.84 L1328.61,799.04 L1332.7,797.26 L1336.79,795.5 L1340.88,793.76 L1344.97,792.04 L1349.06,790.34 L1353.14,788.66 L1357.23,787 L1361.32,785.36 L1365.41,783.74 L1369.5,782.13 L1373.59,780.54 L1377.67,778.97 L1381.76,777.42 L1385.85,775.88 L1389.94,774.37 L1394.03,772.87 L1398.12,771.38 L1402.2,769.91 L1406.29,768.46 L1410.38,767.03 L1414.47,765.61 L1418.56,764.21 L1422.64,762.82 L1426.73,761.45 L1430.82,760.1 L1434.91,758.76 L1439,757.43 L1443.09,756.12 L1447.17,754.83 L1451.26,753.55 L1455.35,752.28 L1459.44,751.03 L1463.53,749.79 L1467.62,748.57 L1471.7,747.36 L1475.79,746.16 L1479.88,744.98 L1483.97,743.81 L1488.06,742.65 L1492.15,741.51 L1496.23,740.38 L1500.32,739.26 L1504.41,738.15 L1508.5,737.06 L1512.59,735.98 L1516.68,734.91 L1520.76,733.85 L1524.85,732.81 L1528.94,731.78 L1533.03,730.76 L1537.12,729.75 L1541.2,728.75 L1545.29,727.76 L1549.38,726.78 L1553.47,725.82 L1557.56,724.86 L1561.65,723.92 L1565.73,722.99 L1569.82,722.07 L1573.91,721.15 L1578,720.25 L1582.09,719.36 L1586.18,718.48 L1590.26,717.61 L1594.35,716.75 L1598.44,715.9 L1602.53,715.05 L1606.62,714.22 L1610.71,713.4 L1614.79,712.58 L1618.88,711.78 L1622.97,710.98 L1627.06,710.19 L1631.15,709.42 L1635.23,708.65 L1639.32,707.89 L1643.41,707.13 L1647.5,706.39 L1651.59,705.65 L1655.68,704.93 L1659.76,704.21 L1663.85,703.5 L1667.94,702.79 L1672.03,702.1 L1676.12,701.41 L1680.21,700.73 L1684.29,700.06 L1688.38,699.4 L1692.47,698.74 L1696.56,698.09 L1700.65,697.45 L1704.74,696.81 L1708.82,696.19 L1712.91,695.57 L1717,694.95" fill="none" stroke="#C00000" stroke-width="3.3" stroke-linejoin="round" />
<path d="M1060.4,977.4 L1060.75,976.58 L1061.09,975.8 L1061.44,975.04 L1061.78,974.3 L1062.13,973.56 L1062.47,972.84 L1062.82,972.13 L1063.16,971.43 L1063.51,970.74 L1063.86,970.06 L1064.2,969.38 L1064.55,968.71 L1064.89,968.05 L1065.24,967.39 L1065.58,966.74 L1065.93,966.09 L1066.27,965.45 L1066.62,964.82 L1066.97,964.19 L1071.05,957.04 L1075.14,950.36 L1079.23,944.03 L1083.32,937.99 L1087.41,932.18 L1091.5,926.59 L1095.58,921.18 L1099.67,915.93 L1103.76,910.82 L1107.85,905.85 L1111.94,901.01 L1116.03,896.28 L1120.11,891.65 L1124.2,887.13 L1128.29,882.7 L1132.38,878.36 L1136.47,874.11 L1140.55,869.94 L1144.64,865.86 L1148.73,861.85 L1152.82,857.91 L1156.91,854.05 L1161,850.26 L1165.08,846.54 L1169.17,842.89 L1173.26,839.3 L1177.35,835.78 L1181.44,832.33 L1185.53,828.93 L1189.61,825.6 L1193.7,822.32 L1197.79,819.11 L1201.88,815.95 L1205.97,812.84 L1210.06,809.8 L1214.14,806.8 L1218.23,803.86 L1222.32,800.98 L1226.41,798.14 L1230.5,795.35 L1234.58,792.62 L1238.67,789.93 L1242.76,787.29 L1246.85,784.7 L1250.94,782.15 L1255.03,779.65 L1259.11,777.19 L1263.2,774.78 L1267.29,772.4 L1271.38,770.08 L1275.47,767.79 L1279.56,765.54 L1283.64,763.33 L1287.73,761.16 L1291.82,759.03 L1295.91,756.94 L1300,754.89 L1304.09,752.87 L1308.17,750.89 L1312.26,748.94 L1316.35,747.03 L1320.44,745.15 L1324.53,743.3 L1328.61,741.49 L1332.7,739.71 L1336.79,737.96 L1340.88,736.24 L1344.97,734.55 L1349.06,732.89 L1353.14,731.27 L1357.23,729.67 L1361.32,728.1 L1365.41,726.55 L1369.5,725.04 L1373.59,723.55 L1377.67,722.08 L1381.76,720.65 L1385.85,719.24 L1389.94,717.85 L1394.03,716.49 L1398.12,715.15 L1402.2,713.84 L1406.29,712.55 L1410.38,711.28 L1414.47,710.03 L1418.56,708.81 L1422.64,707.61 L1426.73,706.43 L1430.82,705.27 L1434.91,704.13 L1439,703.01 L1443.09,701.91 L1447.17,700.84 L1451.26,699.78 L1455.35,698.73 L1459.44,697.71 L1463.53,696.71 L1467.62,695.72 L1471.7,694.75 L1475.79,693.8 L1479.88,692.86 L1483.97,691.95 L1488.06,691.04 L1492.15,690.16 L1496.23,689.29 L1500.32,688.43 L1504.41,687.59 L1508.5,686.77 L1512.59,685.96 L1516.68,685.16 L1520.76,684.38 L1524.85,683.61 L1528.94,682.86 L1533.03,682.11 L1537.12,681.39 L1541.2,680.67 L1545.29,679.97 L1549.38,679.28 L1553.47,678.6 L1557.56,677.94 L1561.65,677.28 L1565.73,676.64 L1569.82,676.01 L1573.91,675.39 L1578,674.78 L1582.09,674.18 L1586.18,673.6 L1590.26,673.02 L1594.35,672.45 L1598.44,671.9 L1602.53,671.35 L1606.62,670.81 L1610.71,670.28 L1614.79,669.77 L1618.88,669.26 L1622.97,668.76 L1627.06,668.27 L1631.15,667.78 L1635.23,667.31 L1639.32,666.84 L1643.41,666.39 L1647.5,665.94 L1651.59,665.5 L1655.68,665.06 L1659.76,664.64 L1663.85,664.22 L1667.94,663.81 L1672.03,663.41 L1676.12,663.01 L1680.21,662.62 L1684.29,662.24 L1688.38,661.86 L1692.47,661.49 L1696.56,661.13 L1700.65,660.78 L1704.74,660.43 L1708.82,660.08 L1712.91,659.75 L1717,659.42" fill="none" stroke="#002060" stroke-width="3.3" stroke-linejoin="round" />
<path d="M1060.4,977.4 L1060.75,975.59 L1061.09,973.95 L1061.44,972.4 L1061.78,970.92 L1062.13,969.49 L1062.47,968.11 L1062.82,966.78 L1063.16,965.47 L1063.51,964.2 L1063.86,962.96 L1064.2,961.74 L1064.55,960.55 L1064.89,959.38 L1065.24,958.23 L1065.58,957.1 L1065.93,955.99 L1066.27,954.9 L1066.62,953.82 L1066.97,952.76 L1071.05,941.16 L1075.14,930.86 L1079.23,921.48 L1083.32,912.78 L1087.41,904.64 L1091.5,896.96 L1095.58,889.65 L1099.67,882.68 L1103.76,875.99 L1107.85,869.57 L1111.94,863.37 L1116.03,857.39 L1120.11,851.6 L1124.2,845.99 L1128.29,840.56 L1132.38,835.28 L1136.47,830.15 L1140.55,825.17 L1144.64,820.33 L1148.73,815.62 L1152.82,811.04 L1156.91,806.59 L1161,802.25 L1165.08,798.03 L1169.17,793.92 L1173.26,789.92 L1177.35,786.02 L1181.44,782.23 L1185.53,778.54 L1189.61,774.94 L1193.7,771.44 L1197.79,768.03 L1201.88,764.71 L1205.97,761.48 L1210.06,758.33 L1214.14,755.27 L1218.23,752.28 L1222.32,749.37 L1226.41,746.54 L1230.5,743.79 L1234.58,741.1 L1238.67,738.49 L1242.76,735.94 L1246.85,733.46 L1250.94,731.04 L1255.03,728.69 L1259.11,726.4 L1263.2,724.17 L1267.29,722 L1271.38,719.88 L1275.47,717.82 L1279.56,715.82 L1283.64,713.86 L1287.73,711.96 L1291.82,710.11 L1295.91,708.3 L1300,706.54 L1304.09,704.83 L1308.17,703.17 L1312.26,701.54 L1316.35,699.96 L1320.44,698.42 L1324.53,696.92 L1328.61,695.46 L1332.7,694.04 L1336.79,692.66 L1340.88,691.31 L1344.97,689.99 L1349.06,688.72 L1353.14,687.47 L1357.23,686.26 L1361.32,685.08 L1365.41,683.93 L1369.5,682.81 L1373.59,681.71 L1377.67,680.65 L1381.76,679.62 L1385.85,678.61 L1389.94,677.63 L1394.03,676.67 L1398.12,675.74 L1402.2,674.84 L1406.29,673.95 L1410.38,673.09 L1414.47,672.26 L1418.56,671.44 L1422.64,670.65 L1426.73,669.87 L1430.82,669.12 L1434.91,668.39 L1439,667.67 L1443.09,666.98 L1447.17,666.3 L1451.26,665.64 L1455.35,665 L1459.44,664.37 L1463.53,663.76 L1467.62,663.17 L1471.7,662.59 L1475.79,662.03 L1479.88,661.48 L1483.97,660.95 L1488.06,660.43 L1492.15,659.92 L1496.23,659.43 L1500.32,658.95 L1504.41,658.48 L1508.5,658.03 L1512.59,657.58 L1516.68,657.15 L1520.76,656.73 L1524.85,656.32 L1528.94,655.92 L1533.03,655.53 L1537.12,655.16 L1541.2,654.79 L1545.29,654.43 L1549.38,654.08 L1553.47,653.74 L1557.56,653.41 L1561.65,653.09 L1565.73,652.77 L1569.82,652.47 L1573.91,652.17 L1578,651.88 L1582.09,651.6 L1586.18,651.32 L1590.26,651.05 L1594.35,650.79 L1598.44,650.54 L1602.53,650.29 L1606.62,650.05 L1610.71,649.81 L1614.79,649.58 L1618.88,649.36 L1622.97,649.15 L1627.06,648.93 L1631.15,648.73 L1635.23,648.53 L1639.32,648.33 L1643.41,648.14 L1647.5,647.96 L1651.59,647.78 L1655.68,647.6 L1659.76,647.43 L1663.85,647.27 L1667.94,647.1 L1672.03,646.95 L1676.12,646.79 L1680.21,646.64 L1684.29,646.5 L1688.38,646.35 L1692.47,646.22 L1696.56,646.08 L1700.65,645.95 L1704.74,645.82 L1708.82,645.7 L1712.91,645.58 L1717,645.46" fill="none" stroke="#0070C0" stroke-width="3.3" stroke-linejoin="round" />
<path d="M1060.4,977.4 L1060.75,973.88 L1061.09,970.97 L1061.44,968.36 L1061.78,965.96 L1062.13,963.71 L1062.47,961.59 L1062.82,959.57 L1063.16,957.65 L1063.51,955.8 L1063.86,954.01 L1064.2,952.29 L1064.55,950.62 L1064.89,949.01 L1065.24,947.43 L1065.58,945.9 L1065.93,944.4 L1066.27,942.94 L1066.62,941.51 L1066.97,940.11 L1071.05,925.35 L1075.14,912.84 L1079.23,901.77 L1083.32,891.74 L1087.41,882.49 L1091.5,873.87 L1095.58,865.76 L1099.67,858.09 L1103.76,850.79 L1107.85,843.82 L1111.94,837.14 L1116.03,830.73 L1120.11,824.56 L1124.2,818.62 L1128.29,812.89 L1132.38,807.36 L1136.47,802.02 L1140.55,796.86 L1144.64,791.87 L1148.73,787.04 L1152.82,782.37 L1156.91,777.86 L1161,773.49 L1165.08,769.26 L1169.17,765.16 L1173.26,761.2 L1177.35,757.37 L1181.44,753.65 L1185.53,750.06 L1189.61,746.58 L1193.7,743.21 L1197.79,739.95 L1201.88,736.8 L1205.97,733.74 L1210.06,730.79 L1214.14,727.92 L1218.23,725.15 L1222.32,722.47 L1226.41,719.87 L1230.5,717.36 L1234.58,714.92 L1238.67,712.56 L1242.76,710.28 L1246.85,708.07 L1250.94,705.94 L1255.03,703.87 L1259.11,701.86 L1263.2,699.92 L1267.29,698.04 L1271.38,696.23 L1275.47,694.47 L1279.56,692.76 L1283.64,691.11 L1287.73,689.52 L1291.82,687.97 L1295.91,686.47 L1300,685.02 L1304.09,683.62 L1308.17,682.26 L1312.26,680.95 L1316.35,679.68 L1320.44,678.44 L1324.53,677.25 L1328.61,676.1 L1332.7,674.98 L1336.79,673.9 L1340.88,672.85 L1344.97,671.84 L1349.06,670.85 L1353.14,669.9 L1357.23,668.98 L1361.32,668.09 L1365.41,667.23 L1369.5,666.4 L1373.59,665.59 L1377.67,664.8 L1381.76,664.05 L1385.85,663.31 L1389.94,662.6 L1394.03,661.92 L1398.12,661.25 L1402.2,660.61 L1406.29,659.98 L1410.38,659.38 L1414.47,658.8 L1418.56,658.23 L1422.64,657.68 L1426.73,657.15 L1430.82,656.64 L1434.91,656.14 L1439,655.66 L1443.09,655.2 L1447.17,654.74 L1451.26,654.31 L1455.35,653.89 L1459.44,653.48 L1463.53,653.08 L1467.62,652.7 L1471.7,652.33 L1475.79,651.97 L1479.88,651.62 L1483.97,651.28 L1488.06,650.96 L1492.15,650.64 L1496.23,650.34 L1500.32,650.04 L1504.41,649.75 L1508.5,649.48 L1512.59,649.21 L1516.68,648.95 L1520.76,648.7 L1524.85,648.45 L1528.94,648.22 L1533.03,647.99 L1537.12,647.77 L1541.2,647.55 L1545.29,647.35 L1549.38,647.15 L1553.47,646.95 L1557.56,646.77 L1561.65,646.58 L1565.73,646.41 L1569.82,646.24 L1573.91,646.07 L1578,645.91 L1582.09,645.76 L1586.18,645.61 L1590.26,645.46 L1594.35,645.32 L1598.44,645.19 L1602.53,645.06 L1606.62,644.93 L1610.71,644.8 L1614.79,644.69 L1618.88,644.57 L1622.97,644.46 L1627.06,644.35 L1631.15,644.25 L1635.23,644.14 L1639.32,644.05 L1643.41,643.95 L1647.5,643.86 L1651.59,643.77 L1655.68,643.68 L1659.76,643.6 L1663.85,643.52 L1667.94,643.44 L1672.03,643.36 L1676.12,643.29 L1680.21,643.22 L1684.29,643.15 L1688.38,643.09 L1692.47,643.02 L1696.56,642.96 L1700.65,642.9 L1704.74,642.84 L1708.82,642.78 L1712.91,642.73 L1717,642.68" fill="none" stroke="#00B050" stroke-width="3.3" stroke-linejoin="round" />
<path d="M1060.4,977.4 L1060.75,972.89 L1061.09,969.36 L1061.44,966.29 L1061.78,963.51 L1062.13,960.95 L1062.47,958.56 L1062.82,956.31 L1063.16,954.17 L1063.51,952.13 L1063.86,950.18 L1064.2,948.3 L1064.55,946.49 L1064.89,944.74 L1065.24,943.04 L1065.58,941.4 L1065.93,939.79 L1066.27,938.23 L1066.62,936.71 L1066.97,935.23 L1071.05,919.7 L1075.14,906.71 L1079.23,895.31 L1083.32,885.02 L1087.41,875.57 L1091.5,866.78 L1095.58,858.54 L1099.67,850.75 L1103.76,843.36 L1107.85,836.3 L1111.94,829.56 L1116.03,823.09 L1120.11,816.87 L1124.2,810.89 L1128.29,805.13 L1132.38,799.58 L1136.47,794.23 L1140.55,789.06 L1144.64,784.08 L1148.73,779.26 L1152.82,774.62 L1156.91,770.12 L1161,765.79 L1165.08,761.59 L1169.17,757.54 L1173.26,753.63 L1177.35,749.85 L1181.44,746.2 L1185.53,742.66 L1189.61,739.25 L1193.7,735.96 L1197.79,732.77 L1201.88,729.69 L1205.97,726.71 L1210.06,723.84 L1214.14,721.06 L1218.23,718.37 L1222.32,715.78 L1226.41,713.27 L1230.5,710.84 L1234.58,708.5 L1238.67,706.23 L1242.76,704.05 L1246.85,701.93 L1250.94,699.89 L1255.03,697.91 L1259.11,696 L1263.2,694.16 L1267.29,692.38 L1271.38,690.65 L1275.47,688.99 L1279.56,687.38 L1283.64,685.82 L1287.73,684.32 L1291.82,682.87 L1295.91,681.46 L1300,680.11 L1304.09,678.8 L1308.17,677.53 L1312.26,676.31 L1316.35,675.12 L1320.44,673.98 L1324.53,672.87 L1328.61,671.81 L1332.7,670.77 L1336.79,669.78 L1340.88,668.81 L1344.97,667.88 L1349.06,666.98 L1353.14,666.11 L1357.23,665.27 L1361.32,664.46 L1365.41,663.67 L1369.5,662.91 L1373.59,662.18 L1377.67,661.47 L1381.76,660.78 L1385.85,660.12 L1389.94,659.48 L1394.03,658.86 L1398.12,658.27 L1402.2,657.69 L1406.29,657.13 L1410.38,656.59 L1414.47,656.07 L1418.56,655.57 L1422.64,655.08 L1426.73,654.61 L1430.82,654.15 L1434.91,653.71 L1439,653.29 L1443.09,652.88 L1447.17,652.48 L1451.26,652.1 L1455.35,651.73 L1459.44,651.37 L1463.53,651.02 L1467.62,650.69 L1471.7,650.37 L1475.79,650.05 L1479.88,649.75 L1483.97,649.46 L1488.06,649.18 L1492.15,648.91 L1496.23,648.64 L1500.32,648.39 L1504.41,648.14 L1508.5,647.91 L1512.59,647.68 L1516.68,647.45 L1520.76,647.24 L1524.85,647.03 L1528.94,646.83 L1533.03,646.64 L1537.12,646.45 L1541.2,646.27 L1545.29,646.1 L1549.38,645.93 L1553.47,645.76 L1557.56,645.61 L1561.65,645.45 L1565.73,645.31 L1569.82,645.16 L1573.91,645.03 L1578,644.89 L1582.09,644.76 L1586.18,644.64 L1590.26,644.52 L1594.35,644.4 L1598.44,644.29 L1602.53,644.18 L1606.62,644.08 L1610.71,643.98 L1614.79,643.88 L1618.88,643.79 L1622.97,643.69 L1627.06,643.61 L1631.15,643.52 L1635.23,643.44 L1639.32,643.36 L1643.41,643.28 L1647.5,643.21 L1651.59,643.14 L1655.68,643.07 L1659.76,643 L1663.85,642.93 L1667.94,642.87 L1672.03,642.81 L1676.12,642.75 L1680.21,642.7 L1684.29,642.64 L1688.38,642.59 L1692.47,642.54 L1696.56,642.49 L1700.65,642.44 L1704.74,642.39 L1708.82,642.35 L1712.91,642.31 L1717,642.26" fill="none" stroke="#70AD47" stroke-width="3.3" stroke-linejoin="round" />
<path d="M1060.4,977.4 L1060.75,971.68 L1061.09,967.52 L1061.44,964.01 L1061.78,960.9 L1062.13,958.07 L1062.47,955.46 L1062.82,953.02 L1063.16,950.72 L1063.51,948.53 L1063.86,946.45 L1064.2,944.46 L1064.55,942.55 L1064.89,940.7 L1065.24,938.92 L1065.58,937.19 L1065.93,935.52 L1066.27,933.89 L1066.62,932.3 L1066.97,930.76 L1071.05,914.74 L1075.14,901.45 L1079.23,889.84 L1083.32,879.4 L1087.41,869.84 L1091.5,860.96 L1095.58,852.64 L1099.67,844.78 L1103.76,837.33 L1107.85,830.23 L1111.94,823.45 L1116.03,816.95 L1120.11,810.72 L1124.2,804.72 L1128.29,798.96 L1132.38,793.41 L1136.47,788.06 L1140.55,782.91 L1144.64,777.94 L1148.73,773.15 L1152.82,768.53 L1156.91,764.07 L1161,759.77 L1165.08,755.62 L1169.17,751.62 L1173.26,747.76 L1177.35,744.03 L1181.44,740.43 L1185.53,736.96 L1189.61,733.61 L1193.7,730.38 L1197.79,727.26 L1201.88,724.25 L1205.97,721.34 L1210.06,718.54 L1214.14,715.83 L1218.23,713.22 L1222.32,710.7 L1226.41,708.27 L1230.5,705.92 L1234.58,703.65 L1238.67,701.47 L1242.76,699.36 L1246.85,697.32 L1250.94,695.36 L1255.03,693.46 L1259.11,691.63 L1263.2,689.86 L1267.29,688.16 L1271.38,686.51 L1275.47,684.93 L1279.56,683.4 L1283.64,681.92 L1287.73,680.49 L1291.82,679.11 L1295.91,677.78 L1300,676.5 L1304.09,675.26 L1308.17,674.07 L1312.26,672.92 L1316.35,671.8 L1320.44,670.73 L1324.53,669.69 L1328.61,668.69 L1332.7,667.73 L1336.79,666.8 L1340.88,665.9 L1344.97,665.03 L1349.06,664.19 L1353.14,663.39 L1357.23,662.61 L1361.32,661.85 L1365.41,661.13 L1369.5,660.43 L1373.59,659.75 L1377.67,659.1 L1381.76,658.47 L1385.85,657.86 L1389.94,657.27 L1394.03,656.71 L1398.12,656.16 L1402.2,655.63 L1406.29,655.13 L1410.38,654.63 L1414.47,654.16 L1418.56,653.7 L1422.64,653.26 L1426.73,652.84 L1430.82,652.43 L1434.91,652.03 L1439,651.65 L1443.09,651.28 L1447.17,650.92 L1451.26,650.58 L1455.35,650.24 L1459.44,649.92 L1463.53,649.61 L1467.62,649.31 L1471.7,649.03 L1475.79,648.75 L1479.88,648.48 L1483.97,648.22 L1488.06,647.97 L1492.15,647.73 L1496.23,647.5 L1500.32,647.27 L1504.41,647.06 L1508.5,646.85 L1512.59,646.64 L1516.68,646.45 L1520.76,646.26 L1524.85,646.08 L1528.94,645.91 L1533.03,645.74 L1537.12,645.57 L1541.2,645.42 L1545.29,645.26 L1549.38,645.12 L1553.47,644.98 L1557.56,644.84 L1561.65,644.71 L1565.73,644.58 L1569.82,644.46 L1573.91,644.34 L1578,644.22 L1582.09,644.11 L1586.18,644.01 L1590.26,643.91 L1594.35,643.81 L1598.44,643.71 L1602.53,643.62 L1606.62,643.53 L1610.71,643.44 L1614.79,643.36 L1618.88,643.28 L1622.97,643.2 L1627.06,643.13 L1631.15,643.06 L1635.23,642.99 L1639.32,642.92 L1643.41,642.85 L1647.5,642.79 L1651.59,642.73 L1655.68,642.67 L1659.76,642.62 L1663.85,642.56 L1667.94,642.51 L1672.03,642.46 L1676.12,642.41 L1680.21,642.37 L1684.29,642.32 L1688.38,642.28 L1692.47,642.23 L1696.56,642.19 L1700.65,642.15 L1704.74,642.12 L1708.82,642.08 L1712.91,642.04 L1717,642.01" fill="none" stroke="#FFC000" stroke-width="3.3" stroke-linejoin="round" />
<path d="M1060.4,977.4 L1060.75,970.2 L1061.09,965.44 L1061.44,961.54 L1061.78,958.16 L1062.13,955.12 L1062.47,952.34 L1062.82,949.75 L1063.16,947.34 L1063.51,945.05 L1063.86,942.88 L1064.2,940.81 L1064.55,938.83 L1064.89,936.92 L1065.24,935.08 L1065.58,933.31 L1065.93,931.58 L1066.27,929.91 L1066.62,928.29 L1066.97,926.7 L1071.05,910.37 L1075.14,896.91 L1079.23,885.19 L1083.32,874.66 L1087.41,865.03 L1091.5,856.1 L1095.58,847.74 L1099.67,839.85 L1103.76,832.37 L1107.85,825.25 L1111.94,818.45 L1116.03,811.94 L1120.11,805.7 L1124.2,799.7 L1128.29,793.94 L1132.38,788.4 L1136.47,783.07 L1140.55,777.94 L1144.64,772.99 L1148.73,768.23 L1152.82,763.64 L1156.91,759.22 L1161,754.96 L1165.08,750.85 L1169.17,746.89 L1173.26,743.08 L1177.35,739.4 L1181.44,735.85 L1185.53,732.44 L1189.61,729.14 L1193.7,725.97 L1197.79,722.91 L1201.88,719.96 L1205.97,717.12 L1210.06,714.38 L1214.14,711.73 L1218.23,709.19 L1222.32,706.73 L1226.41,704.37 L1230.5,702.08 L1234.58,699.88 L1238.67,697.76 L1242.76,695.72 L1246.85,693.75 L1250.94,691.85 L1255.03,690.02 L1259.11,688.26 L1263.2,686.56 L1267.29,684.92 L1271.38,683.34 L1275.47,681.81 L1279.56,680.35 L1283.64,678.93 L1287.73,677.57 L1291.82,676.25 L1295.91,674.98 L1300,673.76 L1304.09,672.58 L1308.17,671.45 L1312.26,670.35 L1316.35,669.3 L1320.44,668.28 L1324.53,667.3 L1328.61,666.35 L1332.7,665.44 L1336.79,664.56 L1340.88,663.72 L1344.97,662.9 L1349.06,662.11 L1353.14,661.35 L1357.23,660.62 L1361.32,659.92 L1365.41,659.24 L1369.5,658.58 L1373.59,657.95 L1377.67,657.34 L1381.76,656.76 L1385.85,656.19 L1389.94,655.65 L1394.03,655.12 L1398.12,654.61 L1402.2,654.13 L1406.29,653.66 L1410.38,653.2 L1414.47,652.76 L1418.56,652.34 L1422.64,651.94 L1426.73,651.54 L1430.82,651.17 L1434.91,650.8 L1439,650.45 L1443.09,650.11 L1447.17,649.79 L1451.26,649.47 L1455.35,649.17 L1459.44,648.88 L1463.53,648.6 L1467.62,648.33 L1471.7,648.06 L1475.79,647.81 L1479.88,647.57 L1483.97,647.33 L1488.06,647.11 L1492.15,646.89 L1496.23,646.68 L1500.32,646.48 L1504.41,646.28 L1508.5,646.1 L1512.59,645.91 L1516.68,645.74 L1520.76,645.57 L1524.85,645.41 L1528.94,645.25 L1533.03,645.1 L1537.12,644.96 L1541.2,644.82 L1545.29,644.68 L1549.38,644.55 L1553.47,644.42 L1557.56,644.3 L1561.65,644.19 L1565.73,644.07 L1569.82,643.97 L1573.91,643.86 L1578,643.76 L1582.09,643.66 L1586.18,643.57 L1590.26,643.48 L1594.35,643.39 L1598.44,643.31 L1602.53,643.23 L1606.62,643.15 L1610.71,643.08 L1614.79,643 L1618.88,642.93 L1622.97,642.87 L1627.06,642.8 L1631.15,642.74 L1635.23,642.68 L1639.32,642.62 L1643.41,642.56 L1647.5,642.51 L1651.59,642.46 L1655.68,642.41 L1659.76,642.36 L1663.85,642.31 L1667.94,642.27 L1672.03,642.22 L1676.12,642.18 L1680.21,642.14 L1684.29,642.1 L1688.38,642.07 L1692.47,642.03 L1696.56,642 L1700.65,641.96 L1704.74,641.93 L1708.82,641.9 L1712.91,641.87 L1717,641.84" fill="none" stroke="#ED7D31" stroke-width="3.3" stroke-linejoin="round" />
<path d="M1060.4,977.4 L1060.75,968.37 L1061.09,963.09 L1061.44,958.9 L1061.78,955.31 L1062.13,952.13 L1062.47,949.24 L1062.82,946.57 L1063.16,944.07 L1063.51,941.73 L1063.86,939.51 L1064.2,937.39 L1064.55,935.36 L1064.89,933.42 L1065.24,931.55 L1065.58,929.74 L1065.93,927.99 L1066.27,926.29 L1066.62,924.64 L1066.97,923.04 L1071.05,906.54 L1075.14,892.98 L1079.23,881.2 L1083.32,870.63 L1087.41,860.96 L1091.5,852 L1095.58,843.61 L1099.67,835.71 L1103.76,828.22 L1107.85,821.09 L1111.94,814.28 L1116.03,807.77 L1120.11,801.53 L1124.2,795.55 L1128.29,789.8 L1132.38,784.27 L1136.47,778.96 L1140.55,773.85 L1144.64,768.93 L1148.73,764.19 L1152.82,759.64 L1156.91,755.25 L1161,751.02 L1165.08,746.96 L1169.17,743.04 L1173.26,739.27 L1177.35,735.64 L1181.44,732.14 L1185.53,728.78 L1189.61,725.53 L1193.7,722.41 L1197.79,719.4 L1201.88,716.51 L1205.97,713.72 L1210.06,711.03 L1214.14,708.44 L1218.23,705.95 L1222.32,703.56 L1226.41,701.24 L1230.5,699.02 L1234.58,696.88 L1238.67,694.81 L1242.76,692.83 L1246.85,690.91 L1250.94,689.07 L1255.03,687.3 L1259.11,685.59 L1263.2,683.94 L1267.29,682.36 L1271.38,680.83 L1275.47,679.36 L1279.56,677.94 L1283.64,676.58 L1287.73,675.27 L1291.82,674 L1295.91,672.79 L1300,671.61 L1304.09,670.48 L1308.17,669.4 L1312.26,668.35 L1316.35,667.34 L1320.44,666.37 L1324.53,665.43 L1328.61,664.53 L1332.7,663.67 L1336.79,662.83 L1340.88,662.03 L1344.97,661.25 L1349.06,660.5 L1353.14,659.79 L1357.23,659.09 L1361.32,658.43 L1365.41,657.79 L1369.5,657.17 L1373.59,656.57 L1377.67,656 L1381.76,655.45 L1385.85,654.92 L1389.94,654.4 L1394.03,653.91 L1398.12,653.44 L1402.2,652.98 L1406.29,652.54 L1410.38,652.11 L1414.47,651.71 L1418.56,651.31 L1422.64,650.93 L1426.73,650.57 L1430.82,650.22 L1434.91,649.88 L1439,649.55 L1443.09,649.24 L1447.17,648.94 L1451.26,648.65 L1455.35,648.37 L1459.44,648.1 L1463.53,647.84 L1467.62,647.59 L1471.7,647.35 L1475.79,647.11 L1479.88,646.89 L1483.97,646.67 L1488.06,646.47 L1492.15,646.27 L1496.23,646.07 L1500.32,645.89 L1504.41,645.71 L1508.5,645.54 L1512.59,645.37 L1516.68,645.22 L1520.76,645.06 L1524.85,644.91 L1528.94,644.77 L1533.03,644.63 L1537.12,644.5 L1541.2,644.38 L1545.29,644.25 L1549.38,644.14 L1553.47,644.02 L1557.56,643.91 L1561.65,643.81 L1565.73,643.71 L1569.82,643.61 L1573.91,643.51 L1578,643.42 L1582.09,643.34 L1586.18,643.25 L1590.26,643.17 L1594.35,643.09 L1598.44,643.02 L1602.53,642.95 L1606.62,642.88 L1610.71,642.81 L1614.79,642.75 L1618.88,642.68 L1622.97,642.62 L1627.06,642.57 L1631.15,642.51 L1635.23,642.46 L1639.32,642.41 L1643.41,642.36 L1647.5,642.31 L1651.59,642.26 L1655.68,642.22 L1659.76,642.18 L1663.85,642.14 L1667.94,642.1 L1672.03,642.06 L1676.12,642.02 L1680.21,641.99 L1684.29,641.95 L1688.38,641.92 L1692.47,641.89 L1696.56,641.86 L1700.65,641.83 L1704.74,641.8 L1708.82,641.77 L1712.91,641.75 L1717,641.72" fill="none" stroke="#FF0000" stroke-width="3.3" stroke-linejoin="round" />
<path d="M1060.4,977.4 L1060.75,966.36 L1061.09,960.74 L1061.44,956.38 L1061.78,952.69 L1062.13,949.44 L1062.47,946.49 L1062.82,943.78 L1063.16,941.25 L1063.51,938.87 L1063.86,936.63 L1064.2,934.49 L1064.55,932.44 L1064.89,930.48 L1065.24,928.59 L1065.58,926.77 L1065.93,925.01 L1066.27,923.3 L1066.62,921.64 L1066.97,920.03 L1071.05,903.46 L1075.14,889.86 L1079.23,878.04 L1083.32,867.45 L1087.41,857.77 L1091.5,848.8 L1095.58,840.41 L1099.67,832.5 L1103.76,825 L1107.85,817.87 L1111.94,811.06 L1116.03,804.56 L1120.11,798.32 L1124.2,792.35 L1128.29,786.61 L1132.38,781.1 L1136.47,775.8 L1140.55,770.71 L1144.64,765.82 L1148.73,761.11 L1152.82,756.58 L1156.91,752.22 L1161,748.03 L1165.08,744 L1169.17,740.12 L1173.26,736.38 L1177.35,732.79 L1181.44,729.33 L1185.53,726.01 L1189.61,722.8 L1193.7,719.72 L1197.79,716.76 L1201.88,713.91 L1205.97,711.16 L1210.06,708.52 L1214.14,705.98 L1218.23,703.53 L1222.32,701.18 L1226.41,698.91 L1230.5,696.73 L1234.58,694.63 L1238.67,692.61 L1242.76,690.67 L1246.85,688.8 L1250.94,687 L1255.03,685.27 L1259.11,683.6 L1263.2,682 L1267.29,680.46 L1271.38,678.97 L1275.47,677.54 L1279.56,676.17 L1283.64,674.85 L1287.73,673.57 L1291.82,672.35 L1295.91,671.17 L1300,670.03 L1304.09,668.94 L1308.17,667.89 L1312.26,666.88 L1316.35,665.91 L1320.44,664.97 L1324.53,664.07 L1328.61,663.2 L1332.7,662.37 L1336.79,661.57 L1340.88,660.79 L1344.97,660.05 L1349.06,659.33 L1353.14,658.65 L1357.23,657.98 L1361.32,657.35 L1365.41,656.73 L1369.5,656.14 L1373.59,655.57 L1377.67,655.03 L1381.76,654.5 L1385.85,653.99 L1389.94,653.51 L1394.03,653.04 L1398.12,652.59 L1402.2,652.15 L1406.29,651.74 L1410.38,651.33 L1414.47,650.95 L1418.56,650.57 L1422.64,650.22 L1426.73,649.87 L1430.82,649.54 L1434.91,649.22 L1439,648.91 L1443.09,648.62 L1447.17,648.33 L1451.26,648.06 L1455.35,647.79 L1459.44,647.54 L1463.53,647.3 L1467.62,647.06 L1471.7,646.84 L1475.79,646.62 L1479.88,646.41 L1483.97,646.21 L1488.06,646.01 L1492.15,645.83 L1496.23,645.65 L1500.32,645.48 L1504.41,645.31 L1508.5,645.15 L1512.59,645 L1516.68,644.85 L1520.76,644.71 L1524.85,644.57 L1528.94,644.44 L1533.03,644.31 L1537.12,644.19 L1541.2,644.07 L1545.29,643.96 L1549.38,643.85 L1553.47,643.74 L1557.56,643.64 L1561.65,643.54 L1565.73,643.45 L1569.82,643.36 L1573.91,643.27 L1578,643.19 L1582.09,643.11 L1586.18,643.03 L1590.26,642.96 L1594.35,642.89 L1598.44,642.82 L1602.53,642.75 L1606.62,642.69 L1610.71,642.63 L1614.79,642.57 L1618.88,642.51 L1622.97,642.46 L1627.06,642.41 L1631.15,642.36 L1635.23,642.31 L1639.32,642.26 L1643.41,642.22 L1647.5,642.17 L1651.59,642.13 L1655.68,642.09 L1659.76,642.05 L1663.85,642.01 L1667.94,641.98 L1672.03,641.94 L1676.12,641.91 L1680.21,641.88 L1684.29,641.85 L1688.38,641.82 L1692.47,641.79 L1696.56,641.76 L1700.65,641.74 L1704.74,641.71 L1708.82,641.69 L1712.91,641.66 L1717,641.64" fill="none" stroke="#C00000" stroke-width="3.3" stroke-linejoin="round" />
<path d="M1060.4,977.4 L1060.75,976.5 L1061.09,975.6 L1061.44,974.7 L1061.78,973.81 L1062.13,972.91 L1062.47,972.02 L1062.82,971.14 L1063.16,970.25 L1063.51,969.37 L1063.86,968.49 L1064.2,967.61 L1064.55,966.73 L1064.89,965.86 L1065.24,964.99 L1065.58,964.12 L1065.93,963.26 L1066.27,962.39 L1066.62,961.53 L1066.97,960.67 L1071.05,950.68 L1075.14,941 L1079.23,931.62 L1083.32,922.53 L1087.41,913.73 L1091.5,905.21 L1095.58,896.95 L1099.67,888.95 L1103.76,881.2 L1107.85,873.69 L1111.94,866.41 L1116.03,859.37 L1120.11,852.54 L1124.2,845.93 L1128.29,839.52 L1132.38,833.32 L1136.47,827.31 L1140.55,821.48 L1144.64,815.84 L1148.73,810.38 L1152.82,805.08 L1156.91,799.95 L1161,794.99 L1165.08,790.17 L1169.17,785.51 L1173.26,780.99 L1177.35,776.62 L1181.44,772.38 L1185.53,768.28 L1189.61,764.3 L1193.7,760.44 L1197.79,756.71 L1201.88,753.1 L1205.97,749.59 L1210.06,746.2 L1214.14,742.91 L1218.23,739.73 L1222.32,736.64 L1226.41,733.65 L1230.5,730.76 L1234.58,727.95 L1238.67,725.24 L1242.76,722.61 L1246.85,720.06 L1250.94,717.59 L1255.03,715.19 L1259.11,712.88 L1263.2,710.63 L1267.29,708.46 L1271.38,706.35 L1275.47,704.31 L1279.56,702.33 L1283.64,700.41 L1287.73,698.56 L1291.82,696.76 L1295.91,695.02 L1300,693.33 L1304.09,691.7 L1308.17,690.11 L1312.26,688.58 L1316.35,687.1 L1320.44,685.66 L1324.53,684.26 L1328.61,682.91 L1332.7,681.6 L1336.79,680.34 L1340.88,679.11 L1344.97,677.92 L1349.06,676.77 L1353.14,675.65 L1357.23,674.57 L1361.32,673.52 L1365.41,672.51 L1369.5,671.52 L1373.59,670.57 L1377.67,669.65 L1381.76,668.75 L1385.85,667.89 L1389.94,667.05 L1394.03,666.24 L1398.12,665.45 L1402.2,664.69 L1406.29,663.95 L1410.38,663.23 L1414.47,662.54 L1418.56,661.87 L1422.64,661.22 L1426.73,660.59 L1430.82,659.98 L1434.91,659.39 L1439,658.81 L1443.09,658.26 L1447.17,657.72 L1451.26,657.2 L1455.35,656.7 L1459.44,656.21 L1463.53,655.73 L1467.62,655.28 L1471.7,654.83 L1475.79,654.4 L1479.88,653.98 L1483.97,653.58 L1488.06,653.19 L1492.15,652.81 L1496.23,652.44 L1500.32,652.09 L1504.41,651.74 L1508.5,651.41 L1512.59,651.09 L1516.68,650.77 L1520.76,650.47 L1524.85,650.17 L1528.94,649.89 L1533.03,649.61 L1537.12,649.35 L1541.2,649.09 L1545.29,648.84 L1549.38,648.59 L1553.47,648.36 L1557.56,648.13 L1561.65,647.91 L1565.73,647.7 L1569.82,647.49 L1573.91,647.29 L1578,647.09 L1582.09,646.9 L1586.18,646.72 L1590.26,646.55 L1594.35,646.37 L1598.44,646.21 L1602.53,646.05 L1606.62,645.89 L1610.71,645.74 L1614.79,645.59 L1618.88,645.45 L1622.97,645.32 L1627.06,645.18 L1631.15,645.05 L1635.23,644.93 L1639.32,644.81 L1643.41,644.69 L1647.5,644.58 L1651.59,644.47 L1655.68,644.36 L1659.76,644.26 L1663.85,644.16 L1667.94,644.06 L1672.03,643.97 L1676.12,643.88 L1680.21,643.79 L1684.29,643.71 L1688.38,643.62 L1692.47,643.54 L1696.56,643.47 L1700.65,643.39 L1704.74,643.32 L1708.82,643.25 L1712.91,643.18 L1717,643.11" fill="none" stroke="#000" stroke-width="3.6" stroke-linejoin="round" stroke-dasharray="14,10.7,3.8,10.7"/>
<path d="M1060.4,977.38 L1060.75,963.49 L1061.09,957.73 L1061.44,953.31 L1061.78,949.59 L1062.13,946.31 L1062.47,943.34 L1062.82,940.61 L1063.16,938.07 L1063.51,935.68 L1063.86,933.43 L1064.2,931.28 L1064.55,929.23 L1064.89,927.26 L1065.24,925.37 L1065.58,923.54 L1065.93,921.78 L1066.27,920.06 L1066.62,918.4 L1066.97,916.78 L1071.05,900.19 L1075.14,886.57 L1079.23,874.75 L1083.32,864.15 L1087.41,854.47 L1091.5,845.49 L1095.58,837.1 L1099.67,829.18 L1103.76,821.69 L1107.85,814.56 L1111.94,807.76 L1116.03,801.26 L1120.11,795.04 L1124.2,789.08 L1128.29,783.36 L1132.38,777.87 L1136.47,772.59 L1140.55,767.53 L1144.64,762.66 L1148.73,757.98 L1152.82,753.48 L1156.91,749.16 L1161,745 L1165.08,741.01 L1169.17,737.17 L1173.26,733.47 L1177.35,729.92 L1181.44,726.5 L1185.53,723.22 L1189.61,720.06 L1193.7,717.03 L1197.79,714.11 L1201.88,711.3 L1205.97,708.6 L1210.06,706.01 L1214.14,703.51 L1218.23,701.11 L1222.32,698.8 L1226.41,696.58 L1230.5,694.45 L1234.58,692.4 L1238.67,690.42 L1242.76,688.53 L1246.85,686.7 L1250.94,684.95 L1255.03,683.26 L1259.11,681.64 L1263.2,680.08 L1267.29,678.58 L1271.38,677.14 L1275.47,675.75 L1279.56,674.42 L1283.64,673.14 L1287.73,671.91 L1291.82,670.72 L1295.91,669.58 L1300,668.49 L1304.09,667.43 L1308.17,666.42 L1312.26,665.44 L1316.35,664.51 L1320.44,663.61 L1324.53,662.74 L1328.61,661.91 L1332.7,661.11 L1336.79,660.34 L1340.88,659.6 L1344.97,658.88 L1349.06,658.2 L1353.14,657.54 L1357.23,656.91 L1361.32,656.3 L1365.41,655.71 L1369.5,655.15 L1373.59,654.61 L1377.67,654.09 L1381.76,653.59 L1385.85,653.11 L1389.94,652.64 L1394.03,652.2 L1398.12,651.77 L1402.2,651.36 L1406.29,650.96 L1410.38,650.58 L1414.47,650.22 L1418.56,649.87 L1422.64,649.53 L1426.73,649.2 L1430.82,648.89 L1434.91,648.59 L1439,648.3 L1443.09,648.02 L1447.17,647.75 L1451.26,647.5 L1455.35,647.25 L1459.44,647.01 L1463.53,646.78 L1467.62,646.56 L1471.7,646.35 L1475.79,646.15 L1479.88,645.95 L1483.97,645.77 L1488.06,645.59 L1492.15,645.41 L1496.23,645.25 L1500.32,645.08 L1504.41,644.93 L1508.5,644.78 L1512.59,644.64 L1516.68,644.5 L1520.76,644.37 L1524.85,644.24 L1528.94,644.12 L1533.03,644 L1537.12,643.89 L1541.2,643.78 L1545.29,643.68 L1549.38,643.58 L1553.47,643.48 L1557.56,643.39 L1561.65,643.3 L1565.73,643.21 L1569.82,643.13 L1573.91,643.05 L1578,642.97 L1582.09,642.9 L1586.18,642.83 L1590.26,642.76 L1594.35,642.7 L1598.44,642.64 L1602.53,642.58 L1606.62,642.52 L1610.71,642.46 L1614.79,642.41 L1618.88,642.36 L1622.97,642.31 L1627.06,642.26 L1631.15,642.21 L1635.23,642.17 L1639.32,642.13 L1643.41,642.09 L1647.5,642.05 L1651.59,642.01 L1655.68,641.97 L1659.76,641.94 L1663.85,641.9 L1667.94,641.87 L1672.03,641.84 L1676.12,641.81 L1680.21,641.78 L1684.29,641.76 L1688.38,641.73 L1692.47,641.7 L1696.56,641.68 L1700.65,641.66 L1704.74,641.63 L1708.82,641.61 L1712.91,641.59 L1717,641.57" fill="none" stroke="#7030A0" stroke-width="3.3" stroke-linejoin="round" />
<path d="M1060.4,977.4 L1064.22,931.2 L1068.05,912.07 L1071.87,897.38 L1075.69,885.01 L1079.52,874.1 L1083.34,864.24 L1087.16,855.17 L1090.99,846.73 L1094.81,838.81 L1098.63,831.31 L1102.46,824.18 L1106.28,817.37 L1110.1,810.83 L1113.93,804.55 L1117.75,798.48 L1121.57,792.61 L1125.4,786.92 L1129.22,781.4 L1133.04,776.03 L1136.86,770.8 L1140.69,765.7 L1144.51,760.72 L1148.33,755.85 L1152.16,751.08 L1155.98,746.41 L1159.8,741.84 L1163.63,737.35 L1167.45,732.95 L1171.27,728.62 L1175.1,724.37 L1178.92,720.18 L1182.74,716.07 L1186.57,712.02 L1190.39,708.03 L1194.21,704.09 L1198.04,700.22 L1201.86,696.39 L1205.68,692.62 L1209.51,688.9 L1213.33,685.22 L1217.15,681.59 L1220.98,678.01 L1224.8,674.46 L1228.62,670.96 L1232.45,667.5 L1236.27,664.07 L1240.09,660.69 L1243.92,657.34 L1247.74,654.02 L1251.56,650.74 L1255.39,647.49 L1259.21,644.27 L1263.03,641.08 L1266.85,637.92 L1270.68,634.79 L1274.5,631.69 L1278.32,628.62 L1282.15,625.57 L1285.97,622.55 L1289.79,619.56 L1293.62,616.59 L1297.44,613.64 L1301.26,610.72 L1305.09,607.82 L1308.91,604.95 L1312.73,602.09 L1316.56,599.26 L1320.38,596.45 L1324.2,593.66 L1328.03,590.89 L1331.85,588.14 L1335.67,585.4 L1339.5,582.69 L1343.32,580 L1347.14,577.32 L1350.97,574.66 L1354.79,572.02 L1358.61,569.4 L1362.44,566.79" fill="none" stroke="#000" stroke-width="3.6" stroke-linejoin="round" stroke-dasharray="11,3.6"/>
<line x1="1060.4" y1="641.07" x2="1717" y2="641.07" stroke="#000" stroke-width="3.6" stroke-dasharray="11,3.6"/>
</g>
<line x1="1060.4" y1="977.4" x2="1060.4" y2="970.9" stroke="#262626" stroke-width="2.6" />
<line x1="1126.06" y1="977.4" x2="1126.06" y2="970.9" stroke="#262626" stroke-width="2.6" />
<line x1="1191.72" y1="977.4" x2="1191.72" y2="970.9" stroke="#262626" stroke-width="2.6" />
<line x1="1257.38" y1="977.4" x2="1257.38" y2="970.9" stroke="#262626" stroke-width="2.6" />
<line x1="1323.04" y1="977.4" x2="1323.04" y2="970.9" stroke="#262626" stroke-width="2.6" />
<line x1="1388.7" y1="977.4" x2="1388.7" y2="970.9" stroke="#262626" stroke-width="2.6" />
<line x1="1454.36" y1="977.4" x2="1454.36" y2="970.9" stroke="#262626" stroke-width="2.6" />
<line x1="1520.02" y1="977.4" x2="1520.02" y2="970.9" stroke="#262626" stroke-width="2.6" />
<line x1="1585.68" y1="977.4" x2="1585.68" y2="970.9" stroke="#262626" stroke-width="2.6" />
<line x1="1651.34" y1="977.4" x2="1651.34" y2="970.9" stroke="#262626" stroke-width="2.6" />
<line x1="1717" y1="977.4" x2="1717" y2="970.9" stroke="#262626" stroke-width="2.6" />
<line x1="1060.4" y1="977.4" x2="1066.9" y2="977.4" stroke="#262626" stroke-width="2.6" />
<line x1="1060.4" y1="910.13" x2="1066.9" y2="910.13" stroke="#262626" stroke-width="2.6" />
<line x1="1060.4" y1="842.87" x2="1066.9" y2="842.87" stroke="#262626" stroke-width="2.6" />
<line x1="1060.4" y1="775.6" x2="1066.9" y2="775.6" stroke="#262626" stroke-width="2.6" />
<line x1="1060.4" y1="708.33" x2="1066.9" y2="708.33" stroke="#262626" stroke-width="2.6" />
<line x1="1060.4" y1="641.07" x2="1066.9" y2="641.07" stroke="#262626" stroke-width="2.6" />
<line x1="1060.4" y1="573.8" x2="1066.9" y2="573.8" stroke="#262626" stroke-width="2.6" />
<line x1="1060.4" y1="572" x2="1060.4" y2="979.2" stroke="#262626" stroke-width="3.6" />
<line x1="1058.6" y1="977.4" x2="1718.8" y2="977.4" stroke="#262626" stroke-width="3.6" />
<line x1="1065.4" y1="573.8" x2="1718.8" y2="573.8" stroke="#000" stroke-width="3.7" />
<line x1="1717" y1="573.8" x2="1717" y2="975.6" stroke="#000" stroke-width="3.7" />
<text x="1060.4" y="1018" font-size="36" fill="#262626" text-anchor="middle" >0</text>
<text x="1191.72" y="1018" font-size="36" fill="#262626" text-anchor="middle" >1</text>
<text x="1323.04" y="1018" font-size="36" fill="#262626" text-anchor="middle" >2</text>
<text x="1454.36" y="1018" font-size="36" fill="#262626" text-anchor="middle" >3</text>
<text x="1585.68" y="1018" font-size="36" fill="#262626" text-anchor="middle" >4</text>
<text x="1717" y="1018" font-size="36" fill="#262626" text-anchor="middle" >5</text>
<text x="1049.2" y="989.9" font-size="35" fill="#262626" text-anchor="end" >0.0</text>
<text x="1049.2" y="922.63" font-size="35" fill="#262626" text-anchor="end" >0.2</text>
<text x="1049.2" y="855.37" font-size="35" fill="#262626" text-anchor="end" >0.4</text>
<text x="1049.2" y="788.1" font-size="35" fill="#262626" text-anchor="end" >0.6</text>
<text x="1049.2" y="720.83" font-size="35" fill="#262626" text-anchor="end" >0.8</text>
<text x="1049.2" y="653.57" font-size="35" fill="#262626" text-anchor="end" >1.0</text>
<text x="1049.2" y="586.3" font-size="35" fill="#262626" text-anchor="end" >1.2</text>
<text x="1390" y="1054.5" font-family="'Liberation Serif', serif" font-style="italic" font-size="37" fill="#000" text-anchor="middle">t</text>
<line x1="1385.5" y1="1029" x2="1398.5" y2="1029" stroke="#000" stroke-width="2" />
<g transform="translate(970,776) rotate(-90)"><text x="0" y="0" font-family="'Liberation Serif', serif" font-style="italic" font-size="37" fill="#000" text-anchor="middle">Q</text></g>
<line x1="939.5" y1="768" x2="939.5" y2="782" stroke="#000" stroke-width="2" />
<path d="M1210,705.5 C1290,703 1355,760 1358,843" fill="none" stroke="#000" stroke-width="4.6"/>
<polygon points="1348,836 1369,836 1360,857" fill="#000"/>
<text x="1330" y="911" font-size="35" fill="#262626">Increasing L<tspan dy="7" font-size="24">plate</tspan></text>
</g>
<g id="pd">
<text x="-1" y="1105" font-size="36" fill="#000" text-anchor="start" >(d)</text>
<path d="M219.2,1445.8 C232.67,1442.5 271.9,1432.33 300,1426 C328.1,1419.67 362.73,1412.22 387.8,1407.8 C412.87,1403.38 429.53,1401.58 450.4,1399.5 C471.27,1397.42 491.23,1395.95 513,1395.3 C534.77,1394.65 562.9,1394.97 581,1395.6 C599.1,1396.23 608.07,1397.33 621.6,1399.1 C635.13,1400.87 651.37,1403.32 662.2,1406.2 C673.03,1409.08 680.5,1412 686.6,1416.4 C692.7,1420.8 695.92,1426.5 698.8,1432.6 C701.68,1438.7 703.05,1449.6 703.9,1453" fill="none" stroke="#ED7D31" stroke-width="3.4" stroke-linecap="butt" stroke-linejoin="round" />
<path d="M231.3,1432.9 C244.42,1429.75 283.92,1419.92 310,1414 C336.08,1408.08 364.4,1401.73 387.8,1397.4 C411.2,1393.07 429.53,1390.27 450.4,1388 C471.27,1385.73 491.23,1384.48 513,1383.8 C534.77,1383.12 562.9,1383.38 581,1383.9 C599.1,1384.42 608.07,1385.05 621.6,1386.9 C635.13,1388.75 651.37,1392.12 662.2,1395 C673.03,1397.88 680.5,1399.97 686.6,1404.2 C692.7,1408.43 695.92,1414.3 698.8,1420.4 C701.68,1426.5 703.05,1437.4 703.9,1440.8" fill="none" stroke="#FF0000" stroke-width="3.4" stroke-linecap="butt" stroke-linejoin="round" />
<path d="M247.6,1415.1 C259.67,1412.08 296.63,1402.73 320,1397 C343.37,1391.27 366.07,1384.98 387.8,1380.7 C409.53,1376.42 429.53,1373.57 450.4,1371.3 C471.27,1369.03 491.23,1367.72 513,1367.1 C534.77,1366.48 562.9,1366.83 581,1367.6 C599.1,1368.37 608.07,1369.5 621.6,1371.7 C635.13,1373.9 651.37,1377.42 662.2,1380.8 C673.03,1384.18 680.5,1387.77 686.6,1392 C692.7,1396.23 695.92,1400.1 698.8,1406.2 C701.68,1412.3 703.05,1424.87 703.9,1428.6" fill="none" stroke="#C00000" stroke-width="3.4" stroke-linecap="butt" stroke-linejoin="round" />
<path d="M275.5,1384.9 C284.58,1382.58 311.28,1375.53 330,1371 C348.72,1366.47 367.73,1361.65 387.8,1357.7 C407.87,1353.75 429.53,1350.15 450.4,1347.3 C471.27,1344.45 491.23,1341.45 513,1340.6 C534.77,1339.75 562.9,1341.08 581,1342.2 C599.1,1343.32 608.07,1344.58 621.6,1347.3 C635.13,1350.02 651.37,1354.43 662.2,1358.5 C673.03,1362.57 680.5,1367.13 686.6,1371.7 C692.7,1376.27 695.92,1379.47 698.8,1385.9 C701.68,1392.33 703.05,1406.23 703.9,1410.3" fill="none" stroke="#002060" stroke-width="3.4" stroke-linecap="butt" stroke-linejoin="round" />
<path d="M303.9,1354.6 C310.75,1352.83 331.02,1347.48 345,1344 C358.98,1340.52 370.23,1337.32 387.8,1333.7 C405.37,1330.08 429.53,1325.42 450.4,1322.3 C471.27,1319.18 491.23,1316.08 513,1315 C534.77,1313.92 562.9,1314.48 581,1315.8 C599.1,1317.12 608.07,1319.68 621.6,1322.9 C635.13,1326.12 651.37,1330.7 662.2,1335.1 C673.03,1339.5 680.5,1344.22 686.6,1349.3 C692.7,1354.38 695.92,1359.83 698.8,1365.6 C701.68,1371.37 703.05,1380.85 703.9,1383.9" fill="none" stroke="#0070C0" stroke-width="3.4" stroke-linecap="butt" stroke-linejoin="round" />
<path d="M331.9,1324.3 C341.58,1321.75 370.25,1313.87 390,1309 C409.75,1304.13 429.9,1298.52 450.4,1295.1 C470.9,1291.68 491.23,1289.02 513,1288.5 C534.77,1287.98 562.9,1289.15 581,1292 C599.1,1294.85 608.07,1299.77 621.6,1305.6 C635.13,1311.43 650,1319.72 662.2,1327 C674.4,1334.28 688.53,1343.55 694.8,1349.3 C701.07,1355.05 698.23,1357.55 699.8,1361.5 C701.37,1365.45 703.37,1367.92 704.2,1373 C705.03,1378.08 704.68,1382.73 704.8,1392 C704.92,1401.27 704.88,1422.5 704.9,1428.6" fill="none" stroke="#00B050" stroke-width="3.4" stroke-linecap="butt" stroke-linejoin="round" />
<path d="M340.9,1315 C349.92,1312.67 376.75,1305.35 395,1301 C413.25,1296.65 430.73,1292.25 450.4,1288.9 C470.07,1285.55 491.23,1281.67 513,1280.9 C534.77,1280.13 562.9,1281.37 581,1284.3 C599.1,1287.23 608.07,1292.4 621.6,1298.5 C635.13,1304.6 650.68,1313.78 662.2,1320.9 C673.72,1328.02 683.98,1335.02 690.7,1341.2 C697.42,1347.38 700.25,1352.7 702.5,1358 C704.75,1363.3 703.82,1367.33 704.2,1373 C704.58,1378.67 704.68,1382.73 704.8,1392 C704.92,1401.27 704.88,1422.5 704.9,1428.6" fill="none" stroke="#70AD47" stroke-width="3.4" stroke-linecap="butt" stroke-linejoin="round" />
<path d="M353,1302.4 C360.83,1300.5 383.77,1294.65 400,1291 C416.23,1287.35 431.57,1283.82 450.4,1280.5 C469.23,1277.18 491.23,1271.82 513,1271.1 C534.77,1270.38 562.9,1272.82 581,1276.2 C599.1,1279.58 608.07,1284.97 621.6,1291.4 C635.13,1297.83 651.37,1307.87 662.2,1314.8 C673.03,1321.73 680.38,1327.8 686.6,1333 C692.82,1338.2 696.85,1341.83 699.5,1346 C702.15,1350.17 701.72,1353.5 702.5,1358 C703.28,1362.5 703.82,1367.33 704.2,1373 C704.58,1378.67 704.68,1382.73 704.8,1392 C704.92,1401.27 704.88,1422.5 704.9,1428.6" fill="none" stroke="#FFC000" stroke-width="3.4" stroke-linecap="butt" stroke-linejoin="round" />
<path d="M369,1285.1 C375.83,1283.42 396.43,1278.2 410,1275 C423.57,1271.8 433.23,1268.8 450.4,1265.9 C467.57,1263 491.23,1258.1 513,1257.6 C534.77,1257.1 562.9,1259.13 581,1262.9 C599.1,1266.67 608.07,1272.92 621.6,1280.2 C635.13,1287.48 652.03,1300.17 662.2,1306.6 C672.37,1313.03 677.22,1314.15 682.6,1318.8 C687.98,1323.45 691.68,1329.97 694.5,1334.5 C697.32,1339.03 698.17,1342.08 699.5,1346 C700.83,1349.92 701.72,1353.5 702.5,1358 C703.28,1362.5 703.82,1367.33 704.2,1373 C704.58,1378.67 704.68,1382.73 704.8,1392 C704.92,1401.27 704.88,1422.5 704.9,1428.6" fill="none" stroke="#ED7D31" stroke-width="3.4" stroke-linecap="butt" stroke-linejoin="round" />
<path d="M380.5,1272.8 C386.25,1271.5 403.35,1267.53 415,1265 C426.65,1262.47 434.07,1260.4 450.4,1257.6 C466.73,1254.8 491.23,1248.67 513,1248.2 C534.77,1247.73 562.9,1250.82 581,1254.8 C599.1,1258.78 608.07,1264.48 621.6,1272.1 C635.13,1279.72 653.4,1294.07 662.2,1300.5 C671,1306.93 670.33,1306.97 674.4,1310.7 C678.47,1314.43 683.25,1318.93 686.6,1322.9 C689.95,1326.87 692.35,1330.65 694.5,1334.5 C696.65,1338.35 698.17,1342.08 699.5,1346 C700.83,1349.92 701.72,1353.5 702.5,1358 C703.28,1362.5 703.82,1367.33 704.2,1373 C704.58,1378.67 704.68,1382.73 704.8,1392 C704.92,1401.27 704.88,1422.5 704.9,1428.6" fill="none" stroke="#FF0000" stroke-width="3.4" stroke-linecap="butt" stroke-linejoin="round" />
<path d="M396.2,1255.5 C400.17,1254.58 410.97,1252.02 420,1250 C429.03,1247.98 434.9,1245.78 450.4,1243.4 C465.9,1241.02 491.23,1236 513,1235.7 C534.77,1235.4 562.9,1237.23 581,1241.6 C599.1,1245.97 609.75,1254.45 621.6,1261.9 C633.45,1269.35 644.65,1279.87 652.1,1286.3 C659.55,1292.73 660.55,1294.4 666.3,1300.5 C672.05,1306.6 681.9,1317.23 686.6,1322.9 C691.3,1328.57 692.35,1330.65 694.5,1334.5 C696.65,1338.35 698.17,1342.08 699.5,1346 C700.83,1349.92 701.72,1353.5 702.5,1358 C703.28,1362.5 703.82,1367.33 704.2,1373 C704.58,1378.67 704.68,1382.73 704.8,1392 C704.92,1401.27 704.88,1422.5 704.9,1428.6" fill="none" stroke="#C00000" stroke-width="3.4" stroke-linecap="butt" stroke-linejoin="round" />
<path d="M358.6,1326.3 C382.17,1326.3 459.77,1326.13 500,1326.3 C540.23,1326.47 578.03,1326.68 600,1327.3 C621.97,1327.92 619.4,1328.2 631.8,1330 C644.2,1331.8 664.25,1334.55 674.4,1338.1 C684.55,1341.65 688.47,1347.07 692.7,1351.3 C696.93,1355.53 698,1357.05 699.8,1363.5 C701.6,1369.95 702.65,1374.92 703.5,1390 C704.35,1405.08 704.67,1443.33 704.9,1454" fill="none" stroke="#000" stroke-width="3.6" stroke-linecap="butt" stroke-linejoin="round" stroke-dasharray="14,10.7,3.8,10.7"/>
<line x1="529.1" y1="1155.2" x2="742.5" y2="1385.9" stroke="#000" stroke-width="3.6" stroke-dasharray="11,3.6"/>
<path d="M531.2,1153.2 C544.33,1167.33 584.1,1209.72 610,1238 C635.9,1266.28 672.52,1306.82 686.6,1322.9 C700.68,1338.98 692.35,1330.65 694.5,1334.5 C696.65,1338.35 698.17,1342.08 699.5,1346 C700.83,1349.92 701.72,1353.5 702.5,1358 C703.28,1362.5 703.82,1367.33 704.2,1373 C704.58,1378.67 704.68,1382.73 704.8,1392 C704.92,1401.27 704.88,1422.5 704.9,1428.6" fill="none" stroke="#7030A0" stroke-width="3.4" stroke-linecap="butt" stroke-linejoin="round" />
<line x1="142.6" y1="1528" x2="142.6" y2="1523.7" stroke="#262626" stroke-width="2.6" />
<line x1="142.6" y1="1124.4" x2="142.6" y2="1128.7" stroke="#262626" stroke-width="2.6" />
<line x1="236.31" y1="1528" x2="236.31" y2="1523.7" stroke="#262626" stroke-width="2.6" />
<line x1="236.31" y1="1124.4" x2="236.31" y2="1128.7" stroke="#262626" stroke-width="2.6" />
<line x1="330.03" y1="1528" x2="330.03" y2="1523.7" stroke="#262626" stroke-width="2.6" />
<line x1="330.03" y1="1124.4" x2="330.03" y2="1128.7" stroke="#262626" stroke-width="2.6" />
<line x1="423.74" y1="1528" x2="423.74" y2="1523.7" stroke="#262626" stroke-width="2.6" />
<line x1="423.74" y1="1124.4" x2="423.74" y2="1128.7" stroke="#262626" stroke-width="2.6" />
<line x1="517.46" y1="1528" x2="517.46" y2="1523.7" stroke="#262626" stroke-width="2.6" />
<line x1="517.46" y1="1124.4" x2="517.46" y2="1128.7" stroke="#262626" stroke-width="2.6" />
<line x1="611.17" y1="1528" x2="611.17" y2="1523.7" stroke="#262626" stroke-width="2.6" />
<line x1="611.17" y1="1124.4" x2="611.17" y2="1128.7" stroke="#262626" stroke-width="2.6" />
<line x1="704.89" y1="1528" x2="704.89" y2="1523.7" stroke="#262626" stroke-width="2.6" />
<line x1="704.89" y1="1124.4" x2="704.89" y2="1128.7" stroke="#262626" stroke-width="2.6" />
<line x1="798.6" y1="1528" x2="798.6" y2="1523.7" stroke="#262626" stroke-width="2.6" />
<line x1="798.6" y1="1124.4" x2="798.6" y2="1128.7" stroke="#262626" stroke-width="2.6" />
<line x1="170.81" y1="1528" x2="170.81" y2="1525.4" stroke="#262626" stroke-width="2.6" />
<line x1="170.81" y1="1124.4" x2="170.81" y2="1127" stroke="#262626" stroke-width="2.6" />
<line x1="187.31" y1="1528" x2="187.31" y2="1525.4" stroke="#262626" stroke-width="2.6" />
<line x1="187.31" y1="1124.4" x2="187.31" y2="1127" stroke="#262626" stroke-width="2.6" />
<line x1="199.02" y1="1528" x2="199.02" y2="1525.4" stroke="#262626" stroke-width="2.6" />
<line x1="199.02" y1="1124.4" x2="199.02" y2="1127" stroke="#262626" stroke-width="2.6" />
<line x1="208.1" y1="1528" x2="208.1" y2="1525.4" stroke="#262626" stroke-width="2.6" />
<line x1="208.1" y1="1124.4" x2="208.1" y2="1127" stroke="#262626" stroke-width="2.6" />
<line x1="215.52" y1="1528" x2="215.52" y2="1525.4" stroke="#262626" stroke-width="2.6" />
<line x1="215.52" y1="1124.4" x2="215.52" y2="1127" stroke="#262626" stroke-width="2.6" />
<line x1="221.8" y1="1528" x2="221.8" y2="1525.4" stroke="#262626" stroke-width="2.6" />
<line x1="221.8" y1="1124.4" x2="221.8" y2="1127" stroke="#262626" stroke-width="2.6" />
<line x1="227.23" y1="1528" x2="227.23" y2="1525.4" stroke="#262626" stroke-width="2.6" />
<line x1="227.23" y1="1124.4" x2="227.23" y2="1127" stroke="#262626" stroke-width="2.6" />
<line x1="232.03" y1="1528" x2="232.03" y2="1525.4" stroke="#262626" stroke-width="2.6" />
<line x1="232.03" y1="1124.4" x2="232.03" y2="1127" stroke="#262626" stroke-width="2.6" />
<line x1="264.53" y1="1528" x2="264.53" y2="1525.4" stroke="#262626" stroke-width="2.6" />
<line x1="264.53" y1="1124.4" x2="264.53" y2="1127" stroke="#262626" stroke-width="2.6" />
<line x1="281.03" y1="1528" x2="281.03" y2="1525.4" stroke="#262626" stroke-width="2.6" />
<line x1="281.03" y1="1124.4" x2="281.03" y2="1127" stroke="#262626" stroke-width="2.6" />
<line x1="292.74" y1="1528" x2="292.74" y2="1525.4" stroke="#262626" stroke-width="2.6" />
<line x1="292.74" y1="1124.4" x2="292.74" y2="1127" stroke="#262626" stroke-width="2.6" />
<line x1="301.82" y1="1528" x2="301.82" y2="1525.4" stroke="#262626" stroke-width="2.6" />
<line x1="301.82" y1="1124.4" x2="301.82" y2="1127" stroke="#262626" stroke-width="2.6" />
<line x1="309.24" y1="1528" x2="309.24" y2="1525.4" stroke="#262626" stroke-width="2.6" />
<line x1="309.24" y1="1124.4" x2="309.24" y2="1127" stroke="#262626" stroke-width="2.6" />
<line x1="315.51" y1="1528" x2="315.51" y2="1525.4" stroke="#262626" stroke-width="2.6" />
<line x1="315.51" y1="1124.4" x2="315.51" y2="1127" stroke="#262626" stroke-width="2.6" />
<line x1="320.95" y1="1528" x2="320.95" y2="1525.4" stroke="#262626" stroke-width="2.6" />
<line x1="320.95" y1="1124.4" x2="320.95" y2="1127" stroke="#262626" stroke-width="2.6" />
<line x1="325.74" y1="1528" x2="325.74" y2="1525.4" stroke="#262626" stroke-width="2.6" />
<line x1="325.74" y1="1124.4" x2="325.74" y2="1127" stroke="#262626" stroke-width="2.6" />
<line x1="358.24" y1="1528" x2="358.24" y2="1525.4" stroke="#262626" stroke-width="2.6" />
<line x1="358.24" y1="1124.4" x2="358.24" y2="1127" stroke="#262626" stroke-width="2.6" />
<line x1="374.74" y1="1528" x2="374.74" y2="1525.4" stroke="#262626" stroke-width="2.6" />
<line x1="374.74" y1="1124.4" x2="374.74" y2="1127" stroke="#262626" stroke-width="2.6" />
<line x1="386.45" y1="1528" x2="386.45" y2="1525.4" stroke="#262626" stroke-width="2.6" />
<line x1="386.45" y1="1124.4" x2="386.45" y2="1127" stroke="#262626" stroke-width="2.6" />
<line x1="395.53" y1="1528" x2="395.53" y2="1525.4" stroke="#262626" stroke-width="2.6" />
<line x1="395.53" y1="1124.4" x2="395.53" y2="1127" stroke="#262626" stroke-width="2.6" />
<line x1="402.95" y1="1528" x2="402.95" y2="1525.4" stroke="#262626" stroke-width="2.6" />
<line x1="402.95" y1="1124.4" x2="402.95" y2="1127" stroke="#262626" stroke-width="2.6" />
<line x1="409.23" y1="1528" x2="409.23" y2="1525.4" stroke="#262626" stroke-width="2.6" />
<line x1="409.23" y1="1124.4" x2="409.23" y2="1127" stroke="#262626" stroke-width="2.6" />
<line x1="414.66" y1="1528" x2="414.66" y2="1525.4" stroke="#262626" stroke-width="2.6" />
<line x1="414.66" y1="1124.4" x2="414.66" y2="1127" stroke="#262626" stroke-width="2.6" />
<line x1="419.45" y1="1528" x2="419.45" y2="1525.4" stroke="#262626" stroke-width="2.6" />
<line x1="419.45" y1="1124.4" x2="419.45" y2="1127" stroke="#262626" stroke-width="2.6" />
<line x1="451.95" y1="1528" x2="451.95" y2="1525.4" stroke="#262626" stroke-width="2.6" />
<line x1="451.95" y1="1124.4" x2="451.95" y2="1127" stroke="#262626" stroke-width="2.6" />
<line x1="468.46" y1="1528" x2="468.46" y2="1525.4" stroke="#262626" stroke-width="2.6" />
<line x1="468.46" y1="1124.4" x2="468.46" y2="1127" stroke="#262626" stroke-width="2.6" />
<line x1="480.16" y1="1528" x2="480.16" y2="1525.4" stroke="#262626" stroke-width="2.6" />
<line x1="480.16" y1="1124.4" x2="480.16" y2="1127" stroke="#262626" stroke-width="2.6" />
<line x1="489.25" y1="1528" x2="489.25" y2="1525.4" stroke="#262626" stroke-width="2.6" />
<line x1="489.25" y1="1124.4" x2="489.25" y2="1127" stroke="#262626" stroke-width="2.6" />
<line x1="496.67" y1="1528" x2="496.67" y2="1525.4" stroke="#262626" stroke-width="2.6" />
<line x1="496.67" y1="1124.4" x2="496.67" y2="1127" stroke="#262626" stroke-width="2.6" />
<line x1="502.94" y1="1528" x2="502.94" y2="1525.4" stroke="#262626" stroke-width="2.6" />
<line x1="502.94" y1="1124.4" x2="502.94" y2="1127" stroke="#262626" stroke-width="2.6" />
<line x1="508.38" y1="1528" x2="508.38" y2="1525.4" stroke="#262626" stroke-width="2.6" />
<line x1="508.38" y1="1124.4" x2="508.38" y2="1127" stroke="#262626" stroke-width="2.6" />
<line x1="513.17" y1="1528" x2="513.17" y2="1525.4" stroke="#262626" stroke-width="2.6" />
<line x1="513.17" y1="1124.4" x2="513.17" y2="1127" stroke="#262626" stroke-width="2.6" />
<line x1="545.67" y1="1528" x2="545.67" y2="1525.4" stroke="#262626" stroke-width="2.6" />
<line x1="545.67" y1="1124.4" x2="545.67" y2="1127" stroke="#262626" stroke-width="2.6" />
<line x1="562.17" y1="1528" x2="562.17" y2="1525.4" stroke="#262626" stroke-width="2.6" />
<line x1="562.17" y1="1124.4" x2="562.17" y2="1127" stroke="#262626" stroke-width="2.6" />
<line x1="573.88" y1="1528" x2="573.88" y2="1525.4" stroke="#262626" stroke-width="2.6" />
<line x1="573.88" y1="1124.4" x2="573.88" y2="1127" stroke="#262626" stroke-width="2.6" />
<line x1="582.96" y1="1528" x2="582.96" y2="1525.4" stroke="#262626" stroke-width="2.6" />
<line x1="582.96" y1="1124.4" x2="582.96" y2="1127" stroke="#262626" stroke-width="2.6" />
<line x1="590.38" y1="1528" x2="590.38" y2="1525.4" stroke="#262626" stroke-width="2.6" />
<line x1="590.38" y1="1124.4" x2="590.38" y2="1127" stroke="#262626" stroke-width="2.6" />
<line x1="596.65" y1="1528" x2="596.65" y2="1525.4" stroke="#262626" stroke-width="2.6" />
<line x1="596.65" y1="1124.4" x2="596.65" y2="1127" stroke="#262626" stroke-width="2.6" />
<line x1="602.09" y1="1528" x2="602.09" y2="1525.4" stroke="#262626" stroke-width="2.6" />
<line x1="602.09" y1="1124.4" x2="602.09" y2="1127" stroke="#262626" stroke-width="2.6" />
<line x1="606.88" y1="1528" x2="606.88" y2="1525.4" stroke="#262626" stroke-width="2.6" />
<line x1="606.88" y1="1124.4" x2="606.88" y2="1127" stroke="#262626" stroke-width="2.6" />
<line x1="639.38" y1="1528" x2="639.38" y2="1525.4" stroke="#262626" stroke-width="2.6" />
<line x1="639.38" y1="1124.4" x2="639.38" y2="1127" stroke="#262626" stroke-width="2.6" />
<line x1="655.88" y1="1528" x2="655.88" y2="1525.4" stroke="#262626" stroke-width="2.6" />
<line x1="655.88" y1="1124.4" x2="655.88" y2="1127" stroke="#262626" stroke-width="2.6" />
<line x1="667.59" y1="1528" x2="667.59" y2="1525.4" stroke="#262626" stroke-width="2.6" />
<line x1="667.59" y1="1124.4" x2="667.59" y2="1127" stroke="#262626" stroke-width="2.6" />
<line x1="676.67" y1="1528" x2="676.67" y2="1525.4" stroke="#262626" stroke-width="2.6" />
<line x1="676.67" y1="1124.4" x2="676.67" y2="1127" stroke="#262626" stroke-width="2.6" />
<line x1="684.1" y1="1528" x2="684.1" y2="1525.4" stroke="#262626" stroke-width="2.6" />
<line x1="684.1" y1="1124.4" x2="684.1" y2="1127" stroke="#262626" stroke-width="2.6" />
<line x1="690.37" y1="1528" x2="690.37" y2="1525.4" stroke="#262626" stroke-width="2.6" />
<line x1="690.37" y1="1124.4" x2="690.37" y2="1127" stroke="#262626" stroke-width="2.6" />
<line x1="695.8" y1="1528" x2="695.8" y2="1525.4" stroke="#262626" stroke-width="2.6" />
<line x1="695.8" y1="1124.4" x2="695.8" y2="1127" stroke="#262626" stroke-width="2.6" />
<line x1="700.6" y1="1528" x2="700.6" y2="1525.4" stroke="#262626" stroke-width="2.6" />
<line x1="700.6" y1="1124.4" x2="700.6" y2="1127" stroke="#262626" stroke-width="2.6" />
<line x1="733.1" y1="1528" x2="733.1" y2="1525.4" stroke="#262626" stroke-width="2.6" />
<line x1="733.1" y1="1124.4" x2="733.1" y2="1127" stroke="#262626" stroke-width="2.6" />
<line x1="749.6" y1="1528" x2="749.6" y2="1525.4" stroke="#262626" stroke-width="2.6" />
<line x1="749.6" y1="1124.4" x2="749.6" y2="1127" stroke="#262626" stroke-width="2.6" />
<line x1="761.31" y1="1528" x2="761.31" y2="1525.4" stroke="#262626" stroke-width="2.6" />
<line x1="761.31" y1="1124.4" x2="761.31" y2="1127" stroke="#262626" stroke-width="2.6" />
<line x1="770.39" y1="1528" x2="770.39" y2="1525.4" stroke="#262626" stroke-width="2.6" />
<line x1="770.39" y1="1124.4" x2="770.39" y2="1127" stroke="#262626" stroke-width="2.6" />
<line x1="777.81" y1="1528" x2="777.81" y2="1525.4" stroke="#262626" stroke-width="2.6" />
<line x1="777.81" y1="1124.4" x2="777.81" y2="1127" stroke="#262626" stroke-width="2.6" />
<line x1="784.08" y1="1528" x2="784.08" y2="1525.4" stroke="#262626" stroke-width="2.6" />
<line x1="784.08" y1="1124.4" x2="784.08" y2="1127" stroke="#262626" stroke-width="2.6" />
<line x1="789.52" y1="1528" x2="789.52" y2="1525.4" stroke="#262626" stroke-width="2.6" />
<line x1="789.52" y1="1124.4" x2="789.52" y2="1127" stroke="#262626" stroke-width="2.6" />
<line x1="794.31" y1="1528" x2="794.31" y2="1525.4" stroke="#262626" stroke-width="2.6" />
<line x1="794.31" y1="1124.4" x2="794.31" y2="1127" stroke="#262626" stroke-width="2.6" />
<line x1="142.6" y1="1528" x2="149.1" y2="1528" stroke="#262626" stroke-width="2.6" />
<line x1="798.6" y1="1528" x2="792.1" y2="1528" stroke="#262626" stroke-width="2.6" />
<line x1="142.6" y1="1427.1" x2="149.1" y2="1427.1" stroke="#262626" stroke-width="2.6" />
<line x1="798.6" y1="1427.1" x2="792.1" y2="1427.1" stroke="#262626" stroke-width="2.6" />
<line x1="142.6" y1="1326.2" x2="149.1" y2="1326.2" stroke="#262626" stroke-width="2.6" />
<line x1="798.6" y1="1326.2" x2="792.1" y2="1326.2" stroke="#262626" stroke-width="2.6" />
<line x1="142.6" y1="1225.3" x2="149.1" y2="1225.3" stroke="#262626" stroke-width="2.6" />
<line x1="798.6" y1="1225.3" x2="792.1" y2="1225.3" stroke="#262626" stroke-width="2.6" />
<line x1="142.6" y1="1124.4" x2="149.1" y2="1124.4" stroke="#262626" stroke-width="2.6" />
<line x1="798.6" y1="1124.4" x2="792.1" y2="1124.4" stroke="#262626" stroke-width="2.6" />
<line x1="142.6" y1="1497.63" x2="146.1" y2="1497.63" stroke="#262626" stroke-width="2.6" />
<line x1="798.6" y1="1497.63" x2="795.1" y2="1497.63" stroke="#262626" stroke-width="2.6" />
<line x1="142.6" y1="1479.86" x2="146.1" y2="1479.86" stroke="#262626" stroke-width="2.6" />
<line x1="798.6" y1="1479.86" x2="795.1" y2="1479.86" stroke="#262626" stroke-width="2.6" />
<line x1="142.6" y1="1467.25" x2="146.1" y2="1467.25" stroke="#262626" stroke-width="2.6" />
<line x1="798.6" y1="1467.25" x2="795.1" y2="1467.25" stroke="#262626" stroke-width="2.6" />
<line x1="142.6" y1="1457.47" x2="146.1" y2="1457.47" stroke="#262626" stroke-width="2.6" />
<line x1="798.6" y1="1457.47" x2="795.1" y2="1457.47" stroke="#262626" stroke-width="2.6" />
<line x1="142.6" y1="1449.48" x2="146.1" y2="1449.48" stroke="#262626" stroke-width="2.6" />
<line x1="798.6" y1="1449.48" x2="795.1" y2="1449.48" stroke="#262626" stroke-width="2.6" />
<line x1="142.6" y1="1442.73" x2="146.1" y2="1442.73" stroke="#262626" stroke-width="2.6" />
<line x1="798.6" y1="1442.73" x2="795.1" y2="1442.73" stroke="#262626" stroke-width="2.6" />
<line x1="142.6" y1="1436.88" x2="146.1" y2="1436.88" stroke="#262626" stroke-width="2.6" />
<line x1="798.6" y1="1436.88" x2="795.1" y2="1436.88" stroke="#262626" stroke-width="2.6" />
<line x1="142.6" y1="1431.72" x2="146.1" y2="1431.72" stroke="#262626" stroke-width="2.6" />
<line x1="798.6" y1="1431.72" x2="795.1" y2="1431.72" stroke="#262626" stroke-width="2.6" />
<line x1="142.6" y1="1396.73" x2="146.1" y2="1396.73" stroke="#262626" stroke-width="2.6" />
<line x1="798.6" y1="1396.73" x2="795.1" y2="1396.73" stroke="#262626" stroke-width="2.6" />
<line x1="142.6" y1="1378.96" x2="146.1" y2="1378.96" stroke="#262626" stroke-width="2.6" />
<line x1="798.6" y1="1378.96" x2="795.1" y2="1378.96" stroke="#262626" stroke-width="2.6" />
<line x1="142.6" y1="1366.35" x2="146.1" y2="1366.35" stroke="#262626" stroke-width="2.6" />
<line x1="798.6" y1="1366.35" x2="795.1" y2="1366.35" stroke="#262626" stroke-width="2.6" />
<line x1="142.6" y1="1356.57" x2="146.1" y2="1356.57" stroke="#262626" stroke-width="2.6" />
<line x1="798.6" y1="1356.57" x2="795.1" y2="1356.57" stroke="#262626" stroke-width="2.6" />
<line x1="142.6" y1="1348.58" x2="146.1" y2="1348.58" stroke="#262626" stroke-width="2.6" />
<line x1="798.6" y1="1348.58" x2="795.1" y2="1348.58" stroke="#262626" stroke-width="2.6" />
<line x1="142.6" y1="1341.83" x2="146.1" y2="1341.83" stroke="#262626" stroke-width="2.6" />
<line x1="798.6" y1="1341.83" x2="795.1" y2="1341.83" stroke="#262626" stroke-width="2.6" />
<line x1="142.6" y1="1335.98" x2="146.1" y2="1335.98" stroke="#262626" stroke-width="2.6" />
<line x1="798.6" y1="1335.98" x2="795.1" y2="1335.98" stroke="#262626" stroke-width="2.6" />
<line x1="142.6" y1="1330.82" x2="146.1" y2="1330.82" stroke="#262626" stroke-width="2.6" />
<line x1="798.6" y1="1330.82" x2="795.1" y2="1330.82" stroke="#262626" stroke-width="2.6" />
<line x1="142.6" y1="1295.83" x2="146.1" y2="1295.83" stroke="#262626" stroke-width="2.6" />
<line x1="798.6" y1="1295.83" x2="795.1" y2="1295.83" stroke="#262626" stroke-width="2.6" />
<line x1="142.6" y1="1278.06" x2="146.1" y2="1278.06" stroke="#262626" stroke-width="2.6" />
<line x1="798.6" y1="1278.06" x2="795.1" y2="1278.06" stroke="#262626" stroke-width="2.6" />
<line x1="142.6" y1="1265.45" x2="146.1" y2="1265.45" stroke="#262626" stroke-width="2.6" />
<line x1="798.6" y1="1265.45" x2="795.1" y2="1265.45" stroke="#262626" stroke-width="2.6" />
<line x1="142.6" y1="1255.67" x2="146.1" y2="1255.67" stroke="#262626" stroke-width="2.6" />
<line x1="798.6" y1="1255.67" x2="795.1" y2="1255.67" stroke="#262626" stroke-width="2.6" />
<line x1="142.6" y1="1247.68" x2="146.1" y2="1247.68" stroke="#262626" stroke-width="2.6" />
<line x1="798.6" y1="1247.68" x2="795.1" y2="1247.68" stroke="#262626" stroke-width="2.6" />
<line x1="142.6" y1="1240.93" x2="146.1" y2="1240.93" stroke="#262626" stroke-width="2.6" />
<line x1="798.6" y1="1240.93" x2="795.1" y2="1240.93" stroke="#262626" stroke-width="2.6" />
<line x1="142.6" y1="1235.08" x2="146.1" y2="1235.08" stroke="#262626" stroke-width="2.6" />
<line x1="798.6" y1="1235.08" x2="795.1" y2="1235.08" stroke="#262626" stroke-width="2.6" />
<line x1="142.6" y1="1229.92" x2="146.1" y2="1229.92" stroke="#262626" stroke-width="2.6" />
<line x1="798.6" y1="1229.92" x2="795.1" y2="1229.92" stroke="#262626" stroke-width="2.6" />
<line x1="142.6" y1="1194.93" x2="146.1" y2="1194.93" stroke="#262626" stroke-width="2.6" />
<line x1="798.6" y1="1194.93" x2="795.1" y2="1194.93" stroke="#262626" stroke-width="2.6" />
<line x1="142.6" y1="1177.16" x2="146.1" y2="1177.16" stroke="#262626" stroke-width="2.6" />
<line x1="798.6" y1="1177.16" x2="795.1" y2="1177.16" stroke="#262626" stroke-width="2.6" />
<line x1="142.6" y1="1164.55" x2="146.1" y2="1164.55" stroke="#262626" stroke-width="2.6" />
<line x1="798.6" y1="1164.55" x2="795.1" y2="1164.55" stroke="#262626" stroke-width="2.6" />
<line x1="142.6" y1="1154.77" x2="146.1" y2="1154.77" stroke="#262626" stroke-width="2.6" />
<line x1="798.6" y1="1154.77" x2="795.1" y2="1154.77" stroke="#262626" stroke-width="2.6" />
<line x1="142.6" y1="1146.78" x2="146.1" y2="1146.78" stroke="#262626" stroke-width="2.6" />
<line x1="798.6" y1="1146.78" x2="795.1" y2="1146.78" stroke="#262626" stroke-width="2.6" />
<line x1="142.6" y1="1140.03" x2="146.1" y2="1140.03" stroke="#262626" stroke-width="2.6" />
<line x1="798.6" y1="1140.03" x2="795.1" y2="1140.03" stroke="#262626" stroke-width="2.6" />
<line x1="142.6" y1="1134.18" x2="146.1" y2="1134.18" stroke="#262626" stroke-width="2.6" />
<line x1="798.6" y1="1134.18" x2="795.1" y2="1134.18" stroke="#262626" stroke-width="2.6" />
<line x1="142.6" y1="1129.02" x2="146.1" y2="1129.02" stroke="#262626" stroke-width="2.6" />
<line x1="798.6" y1="1129.02" x2="795.1" y2="1129.02" stroke="#262626" stroke-width="2.6" />
<rect x="142.6" y="1124.4" width="656" height="403.6" fill="none" stroke="#262626" stroke-width="4" stroke-linejoin="miter" stroke-linecap="square"/>
<text x="142.6" y="1568.8" font-size="36" fill="#262626" text-anchor="middle">10<tspan dy="-10.2" font-size="23">-6</tspan></text>
<text x="236.31" y="1568.8" font-size="36" fill="#262626" text-anchor="middle">10<tspan dy="-10.2" font-size="23">-5</tspan></text>
<text x="330.03" y="1568.8" font-size="36" fill="#262626" text-anchor="middle">10<tspan dy="-10.2" font-size="23">-4</tspan></text>
<text x="423.74" y="1568.8" font-size="36" fill="#262626" text-anchor="middle">10<tspan dy="-10.2" font-size="23">-3</tspan></text>
<text x="517.46" y="1568.8" font-size="36" fill="#262626" text-anchor="middle">10<tspan dy="-10.2" font-size="23">-2</tspan></text>
<text x="611.17" y="1568.8" font-size="36" fill="#262626" text-anchor="middle">10<tspan dy="-10.2" font-size="23">-1</tspan></text>
<text x="704.89" y="1568.8" font-size="36" fill="#262626" text-anchor="middle">10<tspan dy="-10.2" font-size="23">0</tspan></text>
<text x="798.6" y="1568.8" font-size="36" fill="#262626" text-anchor="middle">10<tspan dy="-10.2" font-size="23">1</tspan></text>
<text x="136" y="1540.8" font-size="36" fill="#262626" text-anchor="end">10<tspan dy="-10.6" font-size="23">-2</tspan></text>
<text x="136" y="1439.9" font-size="36" fill="#262626" text-anchor="end">10<tspan dy="-10.6" font-size="23">-1</tspan></text>
<text x="136" y="1339" font-size="36" fill="#262626" text-anchor="end">10<tspan dy="-10.6" font-size="23">0</tspan></text>
<text x="136" y="1238.1" font-size="36" fill="#262626" text-anchor="end">10<tspan dy="-10.6" font-size="23">1</tspan></text>
<text x="136" y="1137.2" font-size="36" fill="#262626" text-anchor="end">10<tspan dy="-10.6" font-size="23">2</tspan></text>
<text x="468" y="1612" font-family="'Liberation Serif', serif" font-style="italic" font-size="37" fill="#000" text-anchor="middle">Q</text>
<line x1="465.4" y1="1584.4" x2="479.7" y2="1584.4" stroke="#000" stroke-width="2" />
<g transform="translate(52.3,1326.5) rotate(-90)"><text x="0" y="0" font-family="'Liberation Serif', serif" font-style="italic" font-size="33" fill="#000" text-anchor="middle">P</text></g>
<line x1="26.4" y1="1317.4" x2="26.4" y2="1330.7" stroke="#000" stroke-width="2.2" />
<path d="M302.3,1263.8 C262,1284 228,1330 236.5,1397" fill="none" stroke="#000" stroke-width="4.6"/>
<polygon points="241.7,1411 225,1394.3 244.9,1387" fill="#000"/>
<text x="189" y="1493.8" font-size="35" fill="#262626">Increasing L<tspan dy="7" font-size="24">plate</tspan></text>
</g>
<g id="pe">
<text x="940" y="1105" font-size="36" fill="#000" text-anchor="start" >(e)</text>
<g>
<path d="M1059.77,1507.69 L1075.37,1506.45 L1089.34,1505.23 L1101.97,1504.01 L1113.5,1502.8 L1124.11,1501.6 L1133.93,1500.41 L1143.07,1499.22 L1181.2,1493.42 L1210.77,1487.8 L1234.93,1482.35 L1255.36,1477.08 L1273.05,1471.95 L1288.66,1466.97 L1302.63,1462.13 L1315.26,1457.42 L1326.79,1452.84 L1337.39,1448.37 L1347.22,1444.01 L1356.36,1439.76 L1364.91,1435.61 L1372.95,1431.56 L1380.52,1427.6 L1387.69,1423.72 L1394.48,1419.93 L1486.34,1357.55 L1540.08,1311.68 L1578.2,1275.38 L1607.77,1245.34 L1631.93,1219.72 L1652.36,1197.38 L1670.06,1177.58 L1685.67,1159.79 L1699.63,1143.65 L1712.26,1128.88" fill="none" stroke="#0000FF" stroke-width="4.4" stroke-linejoin="round" />
<circle cx="1059.77" cy="1507.69" r="3.7" fill="#C00000"/>
<circle cx="1075.37" cy="1506.45" r="3.7" fill="#C00000"/>
<circle cx="1089.34" cy="1505.23" r="3.7" fill="#C00000"/>
<circle cx="1101.97" cy="1504.01" r="3.7" fill="#C00000"/>
<circle cx="1113.5" cy="1502.8" r="3.7" fill="#C00000"/>
<circle cx="1124.11" cy="1501.6" r="3.7" fill="#C00000"/>
<circle cx="1133.93" cy="1500.41" r="3.7" fill="#C00000"/>
<circle cx="1143.07" cy="1499.22" r="3.7" fill="#C00000"/>
<circle cx="1181.2" cy="1493.42" r="3.7" fill="#C00000"/>
<circle cx="1210.77" cy="1487.8" r="3.7" fill="#C00000"/>
<circle cx="1234.93" cy="1482.35" r="3.7" fill="#C00000"/>
<circle cx="1255.36" cy="1477.08" r="3.7" fill="#C00000"/>
<circle cx="1273.05" cy="1471.95" r="3.7" fill="#C00000"/>
<circle cx="1288.66" cy="1466.97" r="3.7" fill="#C00000"/>
<circle cx="1302.63" cy="1462.13" r="3.7" fill="#C00000"/>
<circle cx="1315.26" cy="1457.42" r="3.7" fill="#C00000"/>
<circle cx="1326.79" cy="1452.84" r="3.7" fill="#C00000"/>
<circle cx="1337.39" cy="1448.37" r="3.7" fill="#C00000"/>
<circle cx="1347.22" cy="1444.01" r="3.7" fill="#C00000"/>
<circle cx="1356.36" cy="1439.76" r="3.7" fill="#C00000"/>
<circle cx="1364.91" cy="1435.61" r="3.7" fill="#C00000"/>
<circle cx="1372.95" cy="1431.56" r="3.7" fill="#C00000"/>
<circle cx="1380.52" cy="1427.6" r="3.7" fill="#C00000"/>
<circle cx="1387.69" cy="1423.72" r="3.7" fill="#C00000"/>
<circle cx="1394.48" cy="1419.93" r="3.7" fill="#C00000"/>
<circle cx="1486.34" cy="1357.55" r="3.7" fill="#C00000"/>
<circle cx="1540.08" cy="1311.68" r="3.7" fill="#C00000"/>
<circle cx="1578.2" cy="1275.38" r="3.7" fill="#C00000"/>
<circle cx="1607.77" cy="1245.34" r="3.7" fill="#C00000"/>
<circle cx="1631.93" cy="1219.72" r="3.7" fill="#C00000"/>
<circle cx="1652.36" cy="1197.38" r="3.7" fill="#C00000"/>
<circle cx="1670.06" cy="1177.58" r="3.7" fill="#C00000"/>
<circle cx="1685.67" cy="1159.79" r="3.7" fill="#C00000"/>
<circle cx="1699.63" cy="1143.65" r="3.7" fill="#C00000"/>
<circle cx="1712.26" cy="1128.88" r="3.7" fill="#C00000"/>
</g>
<line x1="1089.34" y1="1530.2" x2="1089.34" y2="1525.7" stroke="#262626" stroke-width="2.6" />
<line x1="1089.34" y1="1128" x2="1089.34" y2="1132.5" stroke="#262626" stroke-width="2.6" />
<line x1="1394.48" y1="1530.2" x2="1394.48" y2="1525.7" stroke="#262626" stroke-width="2.6" />
<line x1="1394.48" y1="1128" x2="1394.48" y2="1132.5" stroke="#262626" stroke-width="2.6" />
<line x1="1699.63" y1="1530.2" x2="1699.63" y2="1525.7" stroke="#262626" stroke-width="2.6" />
<line x1="1699.63" y1="1128" x2="1699.63" y2="1132.5" stroke="#262626" stroke-width="2.6" />
<line x1="1059.77" y1="1530.2" x2="1059.77" y2="1527.6" stroke="#262626" stroke-width="2.6" />
<line x1="1059.77" y1="1128" x2="1059.77" y2="1130.6" stroke="#262626" stroke-width="2.6" />
<line x1="1075.37" y1="1530.2" x2="1075.37" y2="1527.6" stroke="#262626" stroke-width="2.6" />
<line x1="1075.37" y1="1128" x2="1075.37" y2="1130.6" stroke="#262626" stroke-width="2.6" />
<line x1="1181.2" y1="1530.2" x2="1181.2" y2="1527.6" stroke="#262626" stroke-width="2.6" />
<line x1="1181.2" y1="1128" x2="1181.2" y2="1130.6" stroke="#262626" stroke-width="2.6" />
<line x1="1234.93" y1="1530.2" x2="1234.93" y2="1527.6" stroke="#262626" stroke-width="2.6" />
<line x1="1234.93" y1="1128" x2="1234.93" y2="1130.6" stroke="#262626" stroke-width="2.6" />
<line x1="1273.05" y1="1530.2" x2="1273.05" y2="1527.6" stroke="#262626" stroke-width="2.6" />
<line x1="1273.05" y1="1128" x2="1273.05" y2="1130.6" stroke="#262626" stroke-width="2.6" />
<line x1="1302.63" y1="1530.2" x2="1302.63" y2="1527.6" stroke="#262626" stroke-width="2.6" />
<line x1="1302.63" y1="1128" x2="1302.63" y2="1130.6" stroke="#262626" stroke-width="2.6" />
<line x1="1326.79" y1="1530.2" x2="1326.79" y2="1527.6" stroke="#262626" stroke-width="2.6" />
<line x1="1326.79" y1="1128" x2="1326.79" y2="1130.6" stroke="#262626" stroke-width="2.6" />
<line x1="1347.22" y1="1530.2" x2="1347.22" y2="1527.6" stroke="#262626" stroke-width="2.6" />
<line x1="1347.22" y1="1128" x2="1347.22" y2="1130.6" stroke="#262626" stroke-width="2.6" />
<line x1="1364.91" y1="1530.2" x2="1364.91" y2="1527.6" stroke="#262626" stroke-width="2.6" />
<line x1="1364.91" y1="1128" x2="1364.91" y2="1130.6" stroke="#262626" stroke-width="2.6" />
<line x1="1380.52" y1="1530.2" x2="1380.52" y2="1527.6" stroke="#262626" stroke-width="2.6" />
<line x1="1380.52" y1="1128" x2="1380.52" y2="1130.6" stroke="#262626" stroke-width="2.6" />
<line x1="1486.34" y1="1530.2" x2="1486.34" y2="1527.6" stroke="#262626" stroke-width="2.6" />
<line x1="1486.34" y1="1128" x2="1486.34" y2="1130.6" stroke="#262626" stroke-width="2.6" />
<line x1="1540.08" y1="1530.2" x2="1540.08" y2="1527.6" stroke="#262626" stroke-width="2.6" />
<line x1="1540.08" y1="1128" x2="1540.08" y2="1130.6" stroke="#262626" stroke-width="2.6" />
<line x1="1578.2" y1="1530.2" x2="1578.2" y2="1527.6" stroke="#262626" stroke-width="2.6" />
<line x1="1578.2" y1="1128" x2="1578.2" y2="1130.6" stroke="#262626" stroke-width="2.6" />
<line x1="1607.77" y1="1530.2" x2="1607.77" y2="1527.6" stroke="#262626" stroke-width="2.6" />
<line x1="1607.77" y1="1128" x2="1607.77" y2="1130.6" stroke="#262626" stroke-width="2.6" />
<line x1="1631.93" y1="1530.2" x2="1631.93" y2="1527.6" stroke="#262626" stroke-width="2.6" />
<line x1="1631.93" y1="1128" x2="1631.93" y2="1130.6" stroke="#262626" stroke-width="2.6" />
<line x1="1652.36" y1="1530.2" x2="1652.36" y2="1527.6" stroke="#262626" stroke-width="2.6" />
<line x1="1652.36" y1="1128" x2="1652.36" y2="1130.6" stroke="#262626" stroke-width="2.6" />
<line x1="1670.06" y1="1530.2" x2="1670.06" y2="1527.6" stroke="#262626" stroke-width="2.6" />
<line x1="1670.06" y1="1128" x2="1670.06" y2="1130.6" stroke="#262626" stroke-width="2.6" />
<line x1="1685.67" y1="1530.2" x2="1685.67" y2="1527.6" stroke="#262626" stroke-width="2.6" />
<line x1="1685.67" y1="1128" x2="1685.67" y2="1130.6" stroke="#262626" stroke-width="2.6" />
<line x1="1059.6" y1="1530.2" x2="1066.1" y2="1530.2" stroke="#262626" stroke-width="2.6" />
<line x1="1712.2" y1="1530.2" x2="1705.7" y2="1530.2" stroke="#262626" stroke-width="2.6" />
<line x1="1059.6" y1="1128" x2="1066.1" y2="1128" stroke="#262626" stroke-width="2.6" />
<line x1="1712.2" y1="1128" x2="1705.7" y2="1128" stroke="#262626" stroke-width="2.6" />
<line x1="1059.6" y1="1409.13" x2="1063.1" y2="1409.13" stroke="#262626" stroke-width="2.6" />
<line x1="1712.2" y1="1409.13" x2="1708.7" y2="1409.13" stroke="#262626" stroke-width="2.6" />
<line x1="1059.6" y1="1338.3" x2="1063.1" y2="1338.3" stroke="#262626" stroke-width="2.6" />
<line x1="1712.2" y1="1338.3" x2="1708.7" y2="1338.3" stroke="#262626" stroke-width="2.6" />
<line x1="1059.6" y1="1288.05" x2="1063.1" y2="1288.05" stroke="#262626" stroke-width="2.6" />
<line x1="1712.2" y1="1288.05" x2="1708.7" y2="1288.05" stroke="#262626" stroke-width="2.6" />
<line x1="1059.6" y1="1249.07" x2="1063.1" y2="1249.07" stroke="#262626" stroke-width="2.6" />
<line x1="1712.2" y1="1249.07" x2="1708.7" y2="1249.07" stroke="#262626" stroke-width="2.6" />
<line x1="1059.6" y1="1217.23" x2="1063.1" y2="1217.23" stroke="#262626" stroke-width="2.6" />
<line x1="1712.2" y1="1217.23" x2="1708.7" y2="1217.23" stroke="#262626" stroke-width="2.6" />
<line x1="1059.6" y1="1190.3" x2="1063.1" y2="1190.3" stroke="#262626" stroke-width="2.6" />
<line x1="1712.2" y1="1190.3" x2="1708.7" y2="1190.3" stroke="#262626" stroke-width="2.6" />
<line x1="1059.6" y1="1166.98" x2="1063.1" y2="1166.98" stroke="#262626" stroke-width="2.6" />
<line x1="1712.2" y1="1166.98" x2="1708.7" y2="1166.98" stroke="#262626" stroke-width="2.6" />
<line x1="1059.6" y1="1146.4" x2="1063.1" y2="1146.4" stroke="#262626" stroke-width="2.6" />
<line x1="1712.2" y1="1146.4" x2="1708.7" y2="1146.4" stroke="#262626" stroke-width="2.6" />
<rect x="1059.6" y="1128" width="652.6" height="402.2" fill="none" stroke="#262626" stroke-width="3.8" stroke-linejoin="miter" stroke-linecap="square"/>
<text x="1050" y="1143.6" font-size="36" fill="#262626" text-anchor="end">10<tspan dy="-10.5" font-size="24">1</tspan></text>
<text x="1054" y="1542.6" font-size="36" fill="#262626" text-anchor="end">10<tspan dy="-10.5" font-size="24">0</tspan></text>
<text x="1089.34" y="1565.3" font-size="36" fill="#262626" text-anchor="middle">10<tspan dy="-10.5" font-size="24">1</tspan></text>
<text x="1394.48" y="1565.3" font-size="36" fill="#262626" text-anchor="middle">10<tspan dy="-10.5" font-size="24">2</tspan></text>
<text x="1699.63" y="1565.3" font-size="36" fill="#262626" text-anchor="middle">10<tspan dy="-10.5" font-size="24">3</tspan></text>
<text x="1382" y="1610.7" font-size="34" fill="#262626" text-anchor="middle">L<tspan dy="7" font-size="24">plate</tspan><tspan dy="-7">/L</tspan><tspan dy="7" font-size="24">ps</tspan></text>
<g transform="translate(992,1378) rotate(-90)"><text x="0" y="0" font-size="35" fill="#262626">t<tspan dy="8" font-size="25">80%</tspan><tspan dy="-8">/</tspan><tspan font-family="'Liberation Serif', serif" font-style="italic">τ</tspan><tspan dy="8" font-size="25">e</tspan></text></g>
<rect x="1124.6" y="1138.0" width="327.4000000000001" height="201.0" fill="#fff"/>
<path d="M1126.78,1336.24 L1424.72,1152.48" fill="none" stroke="#0000FF" stroke-width="4.0" stroke-linejoin="round" />
<circle cx="1126.78" cy="1336.24" r="3.0" fill="#C00000"/>
<circle cx="1127.06" cy="1336.07" r="3.0" fill="#C00000"/>
<circle cx="1127.33" cy="1335.9" r="3.0" fill="#C00000"/>
<circle cx="1127.6" cy="1335.73" r="3.0" fill="#C00000"/>
<circle cx="1127.87" cy="1335.57" r="3.0" fill="#C00000"/>
<circle cx="1128.15" cy="1335.4" r="3.0" fill="#C00000"/>
<circle cx="1128.42" cy="1335.23" r="3.0" fill="#C00000"/>
<circle cx="1128.69" cy="1335.06" r="3.0" fill="#C00000"/>
<circle cx="1130.06" cy="1334.22" r="3.0" fill="#C00000"/>
<circle cx="1131.42" cy="1333.38" r="3.0" fill="#C00000"/>
<circle cx="1132.78" cy="1332.54" r="3.0" fill="#C00000"/>
<circle cx="1134.15" cy="1331.7" r="3.0" fill="#C00000"/>
<circle cx="1135.51" cy="1330.85" r="3.0" fill="#C00000"/>
<circle cx="1136.88" cy="1330.01" r="3.0" fill="#C00000"/>
<circle cx="1138.24" cy="1329.17" r="3.0" fill="#C00000"/>
<circle cx="1139.61" cy="1328.33" r="3.0" fill="#C00000"/>
<circle cx="1140.97" cy="1327.49" r="3.0" fill="#C00000"/>
<circle cx="1142.33" cy="1326.65" r="3.0" fill="#C00000"/>
<circle cx="1143.7" cy="1325.81" r="3.0" fill="#C00000"/>
<circle cx="1145.06" cy="1324.97" r="3.0" fill="#C00000"/>
<circle cx="1146.43" cy="1324.12" r="3.0" fill="#C00000"/>
<circle cx="1147.79" cy="1323.28" r="3.0" fill="#C00000"/>
<circle cx="1149.15" cy="1322.44" r="3.0" fill="#C00000"/>
<circle cx="1150.52" cy="1321.6" r="3.0" fill="#C00000"/>
<circle cx="1151.88" cy="1320.76" r="3.0" fill="#C00000"/>
<circle cx="1179.17" cy="1303.93" r="3.0" fill="#C00000"/>
<circle cx="1206.45" cy="1287.1" r="3.0" fill="#C00000"/>
<circle cx="1233.73" cy="1270.28" r="3.0" fill="#C00000"/>
<circle cx="1261.02" cy="1253.45" r="3.0" fill="#C00000"/>
<circle cx="1288.3" cy="1236.62" r="3.0" fill="#C00000"/>
<circle cx="1315.58" cy="1219.79" r="3.0" fill="#C00000"/>
<circle cx="1342.87" cy="1202.97" r="3.0" fill="#C00000"/>
<circle cx="1370.15" cy="1186.14" r="3.0" fill="#C00000"/>
<circle cx="1397.43" cy="1169.31" r="3.0" fill="#C00000"/>
<circle cx="1424.72" cy="1152.48" r="3.0" fill="#C00000"/>
<line x1="1124.6" y1="1339" x2="1124.6" y2="1335" stroke="#262626" stroke-width="2.4" />
<line x1="1124.6" y1="1138" x2="1124.6" y2="1142" stroke="#262626" stroke-width="2.4" />
<line x1="1179.17" y1="1339" x2="1179.17" y2="1335" stroke="#262626" stroke-width="2.4" />
<line x1="1179.17" y1="1138" x2="1179.17" y2="1142" stroke="#262626" stroke-width="2.4" />
<line x1="1233.73" y1="1339" x2="1233.73" y2="1335" stroke="#262626" stroke-width="2.4" />
<line x1="1233.73" y1="1138" x2="1233.73" y2="1142" stroke="#262626" stroke-width="2.4" />
<line x1="1288.3" y1="1339" x2="1288.3" y2="1335" stroke="#262626" stroke-width="2.4" />
<line x1="1288.3" y1="1138" x2="1288.3" y2="1142" stroke="#262626" stroke-width="2.4" />
<line x1="1342.87" y1="1339" x2="1342.87" y2="1335" stroke="#262626" stroke-width="2.4" />
<line x1="1342.87" y1="1138" x2="1342.87" y2="1142" stroke="#262626" stroke-width="2.4" />
<line x1="1397.43" y1="1339" x2="1397.43" y2="1335" stroke="#262626" stroke-width="2.4" />
<line x1="1397.43" y1="1138" x2="1397.43" y2="1142" stroke="#262626" stroke-width="2.4" />
<line x1="1452" y1="1339" x2="1452" y2="1335" stroke="#262626" stroke-width="2.4" />
<line x1="1452" y1="1138" x2="1452" y2="1142" stroke="#262626" stroke-width="2.4" />
<line x1="1124.6" y1="1318.8" x2="1128.6" y2="1318.8" stroke="#262626" stroke-width="2.4" />
<line x1="1452" y1="1318.8" x2="1448" y2="1318.8" stroke="#262626" stroke-width="2.4" />
<line x1="1124.6" y1="1298.6" x2="1127.1" y2="1298.6" stroke="#262626" stroke-width="2.4" />
<line x1="1452" y1="1298.6" x2="1449.5" y2="1298.6" stroke="#262626" stroke-width="2.4" />
<line x1="1124.6" y1="1278.4" x2="1128.6" y2="1278.4" stroke="#262626" stroke-width="2.4" />
<line x1="1452" y1="1278.4" x2="1448" y2="1278.4" stroke="#262626" stroke-width="2.4" />
<line x1="1124.6" y1="1258.2" x2="1127.1" y2="1258.2" stroke="#262626" stroke-width="2.4" />
<line x1="1452" y1="1258.2" x2="1449.5" y2="1258.2" stroke="#262626" stroke-width="2.4" />
<line x1="1124.6" y1="1237.99" x2="1128.6" y2="1237.99" stroke="#262626" stroke-width="2.4" />
<line x1="1452" y1="1237.99" x2="1448" y2="1237.99" stroke="#262626" stroke-width="2.4" />
<line x1="1124.6" y1="1217.79" x2="1127.1" y2="1217.79" stroke="#262626" stroke-width="2.4" />
<line x1="1452" y1="1217.79" x2="1449.5" y2="1217.79" stroke="#262626" stroke-width="2.4" />
<line x1="1124.6" y1="1197.59" x2="1128.6" y2="1197.59" stroke="#262626" stroke-width="2.4" />
<line x1="1452" y1="1197.59" x2="1448" y2="1197.59" stroke="#262626" stroke-width="2.4" />
<line x1="1124.6" y1="1177.39" x2="1127.1" y2="1177.39" stroke="#262626" stroke-width="2.4" />
<line x1="1452" y1="1177.39" x2="1449.5" y2="1177.39" stroke="#262626" stroke-width="2.4" />
<line x1="1124.6" y1="1157.19" x2="1128.6" y2="1157.19" stroke="#262626" stroke-width="2.4" />
<line x1="1452" y1="1157.19" x2="1448" y2="1157.19" stroke="#262626" stroke-width="2.4" />
<rect x="1124.6" y="1138.0" width="327.4000000000001" height="201.0" fill="none" stroke="#262626" stroke-width="3.8"/>
<text x="1122.5" y="1361.1" font-size="23.5" fill="#262626" text-anchor="middle" >0</text>
<text x="1175.8" y="1361.1" font-size="23.5" fill="#262626" text-anchor="middle" >200</text>
<text x="1243" y="1361.1" font-size="23.5" fill="#262626" text-anchor="middle" >400</text>
<text x="1309.8" y="1361.1" font-size="23.5" fill="#262626" text-anchor="middle" >600</text>
<text x="1377.2" y="1361.1" font-size="23.5" fill="#262626" text-anchor="middle" >800</text>
<text x="1450.5" y="1361.1" font-size="23.5" fill="#262626" text-anchor="middle" >1200</text>
<text x="1119.3" y="1327.7" font-size="23.5" fill="#262626" text-anchor="end" >2</text>
<text x="1119.3" y="1287.3" font-size="23.5" fill="#262626" text-anchor="end" >4</text>
<text x="1119.3" y="1246.89" font-size="23.5" fill="#262626" text-anchor="end" >6</text>
<text x="1119.3" y="1206.49" font-size="23.5" fill="#262626" text-anchor="end" >8</text>
<text x="1119.3" y="1166.09" font-size="23.5" fill="#262626" text-anchor="end" >10</text>
<text x="1288" y="1394.6" font-size="33" fill="#262626" text-anchor="middle">L<tspan dy="7" font-size="23">plate</tspan><tspan dy="-7">/L</tspan><tspan dy="7" font-size="23">ps</tspan></text>
<g transform="translate(1093,1287.5) rotate(-90)"><text x="0" y="0" font-size="35" fill="#262626">t<tspan dy="8" font-size="25">80%</tspan><tspan dy="-8">/</tspan><tspan font-family="'Liberation Serif', serif" font-style="italic">τ</tspan><tspan dy="8" font-size="25">e</tspan></text></g>
</g>
</svg></body></html>
